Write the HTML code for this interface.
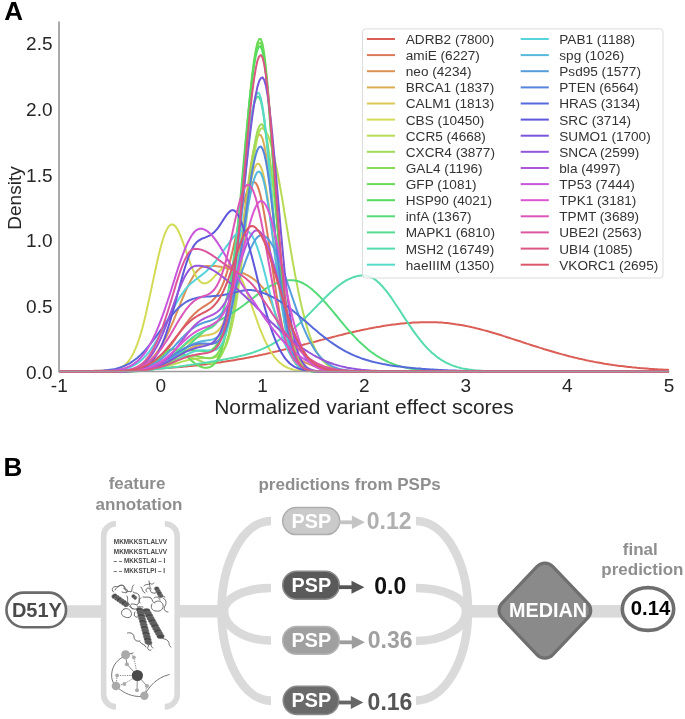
<!DOCTYPE html>
<html><head><meta charset="utf-8"><style>
html,body{margin:0;padding:0;background:#fff;}
svg{display:block;}
text{font-family:"Liberation Sans",Arial,sans-serif;}
</style></head><body>
<svg width="685" height="719" viewBox="0 0 685 719">
<rect width="685" height="719" fill="#fff"/>
<text x="4.3" y="19.9" font-size="26" font-weight="bold" fill="#000">A</text>
<clipPath id="pc"><rect x="59" y="15" width="611" height="358"/></clipPath>
<g clip-path="url(#pc)" fill="none" stroke-width="2" stroke-linejoin="round">
<path d="M59.3,371.2 61.0,371.2 62.7,371.2 64.4,371.2 66.0,371.2 67.7,371.2 69.4,371.2 71.1,371.1 72.8,371.1 74.5,371.1 76.2,371.1 77.9,371.1 79.6,371.1 81.3,371.0 83.0,371.0 84.7,371.0 86.4,371.0 88.1,370.9 89.8,370.9 91.5,370.9 93.1,370.9 94.8,370.8 96.5,370.8 98.2,370.8 99.9,370.7 101.6,370.7 103.3,370.7 105.0,370.6 106.7,370.6 108.4,370.6 110.1,370.5 111.8,370.5 113.5,370.4 115.2,370.4 116.9,370.4 118.6,370.3 120.2,370.3 121.9,370.2 123.6,370.2 125.3,370.1 127.0,370.0 128.7,370.0 130.4,369.9 132.1,369.9 133.8,369.8 135.5,369.7 137.2,369.7 138.9,369.6 140.6,369.5 142.3,369.4 144.0,369.4 145.7,369.3 147.3,369.2 149.0,369.1 150.7,369.0 152.4,368.9 154.1,368.8 155.8,368.7 157.5,368.6 159.2,368.5 160.9,368.4 162.6,368.3 164.3,368.2 166.0,368.1 167.7,368.0 169.4,367.9 171.1,367.7 172.8,367.6 174.5,367.5 176.1,367.3 177.8,367.2 179.5,367.0 181.2,366.9 182.9,366.7 184.6,366.6 186.3,366.4 188.0,366.3 189.7,366.1 191.4,365.9 193.1,365.8 194.8,365.6 196.5,365.4 198.2,365.2 199.9,365.0 201.6,364.8 203.2,364.6 204.9,364.4 206.6,364.2 208.3,364.0 210.0,363.8 211.7,363.5 213.4,363.3 215.1,363.1 216.8,362.8 218.5,362.6 220.2,362.4 221.9,362.1 223.6,361.8 225.3,361.6 227.0,361.3 228.7,361.0 230.3,360.8 232.0,360.5 233.7,360.2 235.4,359.9 237.1,359.6 238.8,359.3 240.5,359.0 242.2,358.7 243.9,358.4 245.6,358.1 247.3,357.7 249.0,357.4 250.7,357.1 252.4,356.7 254.1,356.4 255.8,356.0 257.4,355.7 259.1,355.3 260.8,355.0 262.5,354.6 264.2,354.2 265.9,353.9 267.6,353.5 269.3,353.1 271.0,352.7 272.7,352.3 274.4,351.9 276.1,351.5 277.8,351.1 279.5,350.7 281.2,350.3 282.9,349.9 284.5,349.5 286.2,349.1 287.9,348.7 289.6,348.2 291.3,347.8 293.0,347.4 294.7,346.9 296.4,346.5 298.1,346.1 299.8,345.6 301.5,345.2 303.2,344.8 304.9,344.3 306.6,343.9 308.3,343.4 310.0,343.0 311.7,342.5 313.3,342.1 315.0,341.7 316.7,341.2 318.4,340.8 320.1,340.3 321.8,339.9 323.5,339.4 325.2,339.0 326.9,338.5 328.6,338.1 330.3,337.7 332.0,337.2 333.7,336.8 335.4,336.4 337.1,335.9 338.8,335.5 340.4,335.1 342.1,334.7 343.8,334.2 345.5,333.8 347.2,333.4 348.9,333.0 350.6,332.6 352.3,332.2 354.0,331.8 355.7,331.4 357.4,331.1 359.1,330.7 360.8,330.3 362.5,329.9 364.2,329.6 365.9,329.2 367.5,328.9 369.2,328.5 370.9,328.2 372.6,327.9 374.3,327.6 376.0,327.3 377.7,326.9 379.4,326.7 381.1,326.4 382.8,326.1 384.5,325.8 386.2,325.6 387.9,325.3 389.6,325.1 391.3,324.8 393.0,324.6 394.6,324.4 396.3,324.2 398.0,324.0 399.7,323.8 401.4,323.6 403.1,323.4 404.8,323.3 406.5,323.1 408.2,323.0 409.9,322.9 411.6,322.7 413.3,322.6 415.0,322.5 416.7,322.4 418.4,322.4 420.1,322.3 421.8,322.3 423.4,322.2 425.1,322.2 426.8,322.2 428.5,322.2 430.2,322.2 431.9,322.2 433.6,322.2 435.3,322.3 437.0,322.3 438.7,322.4 440.4,322.5 442.1,322.6 443.8,322.8 445.5,322.9 447.2,323.1 448.9,323.3 450.5,323.5 452.2,323.7 453.9,323.9 455.6,324.2 457.3,324.4 459.0,324.7 460.7,325.0 462.4,325.3 464.1,325.6 465.8,325.9 467.5,326.3 469.2,326.6 470.9,327.0 472.6,327.4 474.3,327.8 476.0,328.2 477.6,328.6 479.3,329.0 481.0,329.5 482.7,329.9 484.4,330.4 486.1,330.8 487.8,331.3 489.5,331.8 491.2,332.3 492.9,332.8 494.6,333.3 496.3,333.8 498.0,334.3 499.7,334.8 501.4,335.3 503.1,335.9 504.7,336.4 506.4,337.0 508.1,337.5 509.8,338.0 511.5,338.6 513.2,339.1 514.9,339.7 516.6,340.2 518.3,340.8 520.0,341.3 521.7,341.9 523.4,342.5 525.1,343.0 526.8,343.6 528.5,344.1 530.2,344.7 531.8,345.2 533.5,345.8 535.2,346.3 536.9,346.8 538.6,347.4 540.3,347.9 542.0,348.4 543.7,349.0 545.4,349.5 547.1,350.0 548.8,350.5 550.5,351.0 552.2,351.5 553.9,352.0 555.6,352.5 557.3,353.0 559.0,353.5 560.6,353.9 562.3,354.4 564.0,354.8 565.7,355.3 567.4,355.7 569.1,356.2 570.8,356.6 572.5,357.0 574.2,357.5 575.9,357.9 577.6,358.3 579.3,358.7 581.0,359.0 582.7,359.4 584.4,359.8 586.1,360.2 587.7,360.5 589.4,360.9 591.1,361.2 592.8,361.5 594.5,361.9 596.2,362.2 597.9,362.5 599.6,362.8 601.3,363.1 603.0,363.4 604.7,363.7 606.4,363.9 608.1,364.2 609.8,364.5 611.5,364.7 613.2,365.0 614.8,365.2 616.5,365.4 618.2,365.7 619.9,365.9 621.6,366.1 623.3,366.3 625.0,366.5 626.7,366.7 628.4,366.9 630.1,367.1 631.8,367.3 633.5,367.4 635.2,367.6 636.9,367.8 638.6,367.9 640.3,368.1 641.9,368.2 643.6,368.3 645.3,368.5 647.0,368.6 648.7,368.7 650.4,368.9 652.1,369.0 653.8,369.1 655.5,369.2 657.2,369.3 658.9,369.4 660.6,369.5 662.3,369.6 664.0,369.7 665.7,369.8 667.4,369.8 669.0,369.9" stroke="#db5e56"/>
<path d="M59.3,371.5 61.0,371.5 62.7,371.5 64.4,371.5 66.0,371.5 67.7,371.5 69.4,371.5 71.1,371.5 72.8,371.5 74.5,371.5 76.2,371.5 77.9,371.5 79.6,371.5 81.3,371.5 83.0,371.5 84.7,371.5 86.4,371.5 88.1,371.5 89.8,371.5 91.5,371.5 93.1,371.5 94.8,371.5 96.5,371.5 98.2,371.5 99.9,371.5 101.6,371.5 103.3,371.5 105.0,371.5 106.7,371.5 108.4,371.4 110.1,371.4 111.8,371.4 113.5,371.4 115.2,371.4 116.9,371.3 118.6,371.3 120.2,371.2 121.9,371.2 123.6,371.1 125.3,371.0 127.0,370.9 128.7,370.7 130.4,370.5 132.1,370.3 133.8,370.1 135.5,369.8 137.2,369.5 138.9,369.1 140.6,368.7 142.3,368.2 144.0,367.6 145.7,367.0 147.3,366.3 149.0,365.5 150.7,364.5 152.4,363.5 154.1,362.4 155.8,361.2 157.5,359.8 159.2,358.3 160.9,356.7 162.6,355.0 164.3,353.2 166.0,351.2 167.7,349.2 169.4,347.0 171.1,344.8 172.8,342.5 174.5,340.1 176.1,337.7 177.8,335.2 179.5,332.8 181.2,330.3 182.9,327.9 184.6,325.5 186.3,323.2 188.0,321.0 189.7,318.9 191.4,317.0 193.1,315.1 194.8,313.4 196.5,311.9 198.2,310.4 199.9,309.2 201.6,308.0 203.2,306.9 204.9,305.8 206.6,304.8 208.3,303.7 210.0,302.5 211.7,301.2 213.4,299.6 215.1,297.8 216.8,295.6 218.5,293.0 220.2,290.0 221.9,286.4 223.6,282.3 225.3,277.6 227.0,272.3 228.7,266.4 230.3,260.0 232.0,253.2 233.7,246.0 235.4,238.5 237.1,230.9 238.8,223.2 240.5,215.8 242.2,208.7 243.9,202.1 245.6,196.1 247.3,191.1 249.0,187.0 250.7,184.1 252.4,182.4 254.1,182.0 255.8,183.0 257.4,185.8 259.1,190.4 260.8,196.7 262.5,204.5 264.2,213.6 265.9,223.8 267.6,234.7 269.3,246.2 271.0,257.9 272.7,269.6 274.4,281.1 276.1,292.2 277.8,302.6 279.5,312.3 281.2,321.2 282.9,329.2 284.5,336.3 286.2,342.5 287.9,347.9 289.6,352.5 291.3,356.4 293.0,359.6 294.7,362.2 296.4,364.3 298.1,366.0 299.8,367.4 301.5,368.4 303.2,369.2 304.9,369.8 306.6,370.3 308.3,370.6 310.0,370.9 311.7,371.1 313.3,371.2 315.0,371.3 316.7,371.4 318.4,371.4 320.1,371.4 321.8,371.5 323.5,371.5 325.2,371.5 326.9,371.5 328.6,371.5 330.3,371.5 332.0,371.5 333.7,371.5 335.4,371.5 337.1,371.5 338.8,371.5 340.4,371.5 342.1,371.5 343.8,371.5 345.5,371.5 347.2,371.5 348.9,371.5 350.6,371.5 352.3,371.5 354.0,371.5 355.7,371.5 357.4,371.5 359.1,371.5 360.8,371.5 362.5,371.5 364.2,371.5 365.9,371.5 367.5,371.5 369.2,371.5 370.9,371.5 372.6,371.5 374.3,371.5 376.0,371.5 377.7,371.5 379.4,371.5 381.1,371.5 382.8,371.5 384.5,371.5 386.2,371.5 387.9,371.5 389.6,371.5 391.3,371.5 393.0,371.5 394.6,371.5 396.3,371.5 398.0,371.5 399.7,371.5 401.4,371.5 403.1,371.5 404.8,371.5 406.5,371.5 408.2,371.5 409.9,371.5 411.6,371.5 413.3,371.5 415.0,371.5 416.7,371.5 418.4,371.5 420.1,371.5 421.8,371.5 423.4,371.5 425.1,371.5 426.8,371.5 428.5,371.5 430.2,371.5 431.9,371.5 433.6,371.5 435.3,371.5 437.0,371.5 438.7,371.5 440.4,371.5 442.1,371.5 443.8,371.5 445.5,371.5 447.2,371.5 448.9,371.5 450.5,371.5 452.2,371.5 453.9,371.5 455.6,371.5 457.3,371.5 459.0,371.5 460.7,371.5 462.4,371.5 464.1,371.5 465.8,371.5 467.5,371.5 469.2,371.5 470.9,371.5 472.6,371.5 474.3,371.5 476.0,371.5 477.6,371.5 479.3,371.5 481.0,371.5 482.7,371.5 484.4,371.5 486.1,371.5 487.8,371.5 489.5,371.5 491.2,371.5 492.9,371.5 494.6,371.5 496.3,371.5 498.0,371.5 499.7,371.5 501.4,371.5 503.1,371.5 504.7,371.5 506.4,371.5 508.1,371.5 509.8,371.5 511.5,371.5 513.2,371.5 514.9,371.5 516.6,371.5 518.3,371.5 520.0,371.5 521.7,371.5 523.4,371.5 525.1,371.5 526.8,371.5 528.5,371.5 530.2,371.5 531.8,371.5 533.5,371.5 535.2,371.5 536.9,371.5 538.6,371.5 540.3,371.5 542.0,371.5 543.7,371.5 545.4,371.5 547.1,371.5 548.8,371.5 550.5,371.5 552.2,371.5 553.9,371.5 555.6,371.5 557.3,371.5 559.0,371.5 560.6,371.5 562.3,371.5 564.0,371.5 565.7,371.5 567.4,371.5 569.1,371.5 570.8,371.5 572.5,371.5 574.2,371.5 575.9,371.5 577.6,371.5 579.3,371.5 581.0,371.5 582.7,371.5 584.4,371.5 586.1,371.5 587.7,371.5 589.4,371.5 591.1,371.5 592.8,371.5 594.5,371.5 596.2,371.5 597.9,371.5 599.6,371.5 601.3,371.5 603.0,371.5 604.7,371.5 606.4,371.5 608.1,371.5 609.8,371.5 611.5,371.5 613.2,371.5 614.8,371.5 616.5,371.5 618.2,371.5 619.9,371.5 621.6,371.5 623.3,371.5 625.0,371.5 626.7,371.5 628.4,371.5 630.1,371.5 631.8,371.5 633.5,371.5 635.2,371.5 636.9,371.5 638.6,371.5 640.3,371.5 641.9,371.5 643.6,371.5 645.3,371.5 647.0,371.5 648.7,371.5 650.4,371.5 652.1,371.5 653.8,371.5 655.5,371.5 657.2,371.5 658.9,371.5 660.6,371.5 662.3,371.5 664.0,371.5 665.7,371.5 667.4,371.5 669.0,371.5" stroke="#db7956"/>
<path d="M59.3,371.5 61.0,371.5 62.7,371.5 64.4,371.5 66.0,371.5 67.7,371.5 69.4,371.5 71.1,371.5 72.8,371.5 74.5,371.5 76.2,371.5 77.9,371.5 79.6,371.5 81.3,371.5 83.0,371.5 84.7,371.5 86.4,371.5 88.1,371.5 89.8,371.5 91.5,371.5 93.1,371.5 94.8,371.5 96.5,371.5 98.2,371.5 99.9,371.5 101.6,371.5 103.3,371.5 105.0,371.4 106.7,371.4 108.4,371.4 110.1,371.4 111.8,371.3 113.5,371.3 115.2,371.3 116.9,371.2 118.6,371.1 120.2,371.0 121.9,370.9 123.6,370.8 125.3,370.6 127.0,370.4 128.7,370.2 130.4,369.9 132.1,369.5 133.8,369.1 135.5,368.7 137.2,368.1 138.9,367.5 140.6,366.8 142.3,365.9 144.0,365.0 145.7,363.9 147.3,362.6 149.0,361.2 150.7,359.7 152.4,358.0 154.1,356.1 155.8,354.0 157.5,351.7 159.2,349.2 160.9,346.5 162.6,343.6 164.3,340.4 166.0,337.1 167.7,333.7 169.4,330.0 171.1,326.2 172.8,322.3 174.5,318.2 176.1,314.1 177.8,310.0 179.5,305.8 181.2,301.6 182.9,297.5 184.6,293.5 186.3,289.7 188.0,286.0 189.7,282.6 191.4,279.4 193.1,276.5 194.8,273.9 196.5,271.7 198.2,269.9 199.9,268.4 201.6,267.4 203.2,266.7 204.9,266.4 206.6,266.1 208.3,266.0 210.0,265.9 211.7,265.9 213.4,266.0 215.1,266.1 216.8,266.3 218.5,266.5 220.2,266.8 221.9,267.1 223.6,267.5 225.3,267.8 227.0,268.2 228.7,268.6 230.3,269.1 232.0,269.5 233.7,270.0 235.4,270.5 237.1,271.0 238.8,271.6 240.5,272.2 242.2,272.8 243.9,273.5 245.6,274.3 247.3,275.1 249.0,276.1 250.7,277.1 252.4,278.2 254.1,279.4 255.8,280.8 257.4,282.2 259.1,283.8 260.8,285.6 262.5,287.4 264.2,289.4 265.9,291.7 267.6,294.5 269.3,297.9 271.0,301.8 272.7,306.1 274.4,310.6 276.1,315.3 277.8,320.0 279.5,324.7 281.2,329.2 282.9,333.5 284.5,337.5 286.2,341.2 287.9,344.5 289.6,347.5 291.3,350.1 293.0,352.5 294.7,354.5 296.4,356.3 298.1,357.8 299.8,359.1 301.5,360.3 303.2,361.4 304.9,362.3 306.6,363.1 308.3,363.9 310.0,364.5 311.7,365.1 313.3,365.7 315.0,366.2 316.7,366.7 318.4,367.1 320.1,367.5 321.8,367.9 323.5,368.2 325.2,368.5 326.9,368.8 328.6,369.1 330.3,369.3 332.0,369.5 333.7,369.7 335.4,369.9 337.1,370.0 338.8,370.2 340.4,370.3 342.1,370.5 343.8,370.6 345.5,370.7 347.2,370.8 348.9,370.8 350.6,370.9 352.3,371.0 354.0,371.0 355.7,371.1 357.4,371.1 359.1,371.2 360.8,371.2 362.5,371.3 364.2,371.3 365.9,371.3 367.5,371.3 369.2,371.4 370.9,371.4 372.6,371.4 374.3,371.4 376.0,371.4 377.7,371.4 379.4,371.4 381.1,371.4 382.8,371.5 384.5,371.5 386.2,371.5 387.9,371.5 389.6,371.5 391.3,371.5 393.0,371.5 394.6,371.5 396.3,371.5 398.0,371.5 399.7,371.5 401.4,371.5 403.1,371.5 404.8,371.5 406.5,371.5 408.2,371.5 409.9,371.5 411.6,371.5 413.3,371.5 415.0,371.5 416.7,371.5 418.4,371.5 420.1,371.5 421.8,371.5 423.4,371.5 425.1,371.5 426.8,371.5 428.5,371.5 430.2,371.5 431.9,371.5 433.6,371.5 435.3,371.5 437.0,371.5 438.7,371.5 440.4,371.5 442.1,371.5 443.8,371.5 445.5,371.5 447.2,371.5 448.9,371.5 450.5,371.5 452.2,371.5 453.9,371.5 455.6,371.5 457.3,371.5 459.0,371.5 460.7,371.5 462.4,371.5 464.1,371.5 465.8,371.5 467.5,371.5 469.2,371.5 470.9,371.5 472.6,371.5 474.3,371.5 476.0,371.5 477.6,371.5 479.3,371.5 481.0,371.5 482.7,371.5 484.4,371.5 486.1,371.5 487.8,371.5 489.5,371.5 491.2,371.5 492.9,371.5 494.6,371.5 496.3,371.5 498.0,371.5 499.7,371.5 501.4,371.5 503.1,371.5 504.7,371.5 506.4,371.5 508.1,371.5 509.8,371.5 511.5,371.5 513.2,371.5 514.9,371.5 516.6,371.5 518.3,371.5 520.0,371.5 521.7,371.5 523.4,371.5 525.1,371.5 526.8,371.5 528.5,371.5 530.2,371.5 531.8,371.5 533.5,371.5 535.2,371.5 536.9,371.5 538.6,371.5 540.3,371.5 542.0,371.5 543.7,371.5 545.4,371.5 547.1,371.5 548.8,371.5 550.5,371.5 552.2,371.5 553.9,371.5 555.6,371.5 557.3,371.5 559.0,371.5 560.6,371.5 562.3,371.5 564.0,371.5 565.7,371.5 567.4,371.5 569.1,371.5 570.8,371.5 572.5,371.5 574.2,371.5 575.9,371.5 577.6,371.5 579.3,371.5 581.0,371.5 582.7,371.5 584.4,371.5 586.1,371.5 587.7,371.5 589.4,371.5 591.1,371.5 592.8,371.5 594.5,371.5 596.2,371.5 597.9,371.5 599.6,371.5 601.3,371.5 603.0,371.5 604.7,371.5 606.4,371.5 608.1,371.5 609.8,371.5 611.5,371.5 613.2,371.5 614.8,371.5 616.5,371.5 618.2,371.5 619.9,371.5 621.6,371.5 623.3,371.5 625.0,371.5 626.7,371.5 628.4,371.5 630.1,371.5 631.8,371.5 633.5,371.5 635.2,371.5 636.9,371.5 638.6,371.5 640.3,371.5 641.9,371.5 643.6,371.5 645.3,371.5 647.0,371.5 648.7,371.5 650.4,371.5 652.1,371.5 653.8,371.5 655.5,371.5 657.2,371.5 658.9,371.5 660.6,371.5 662.3,371.5 664.0,371.5 665.7,371.5 667.4,371.5 669.0,371.5" stroke="#db9356"/>
<path d="M59.3,371.5 61.0,371.5 62.7,371.5 64.4,371.5 66.0,371.5 67.7,371.5 69.4,371.5 71.1,371.5 72.8,371.5 74.5,371.5 76.2,371.5 77.9,371.5 79.6,371.5 81.3,371.5 83.0,371.5 84.7,371.5 86.4,371.5 88.1,371.5 89.8,371.5 91.5,371.5 93.1,371.5 94.8,371.5 96.5,371.5 98.2,371.5 99.9,371.5 101.6,371.5 103.3,371.5 105.0,371.5 106.7,371.5 108.4,371.5 110.1,371.5 111.8,371.5 113.5,371.5 115.2,371.5 116.9,371.5 118.6,371.5 120.2,371.5 121.9,371.5 123.6,371.4 125.3,371.4 127.0,371.4 128.7,371.4 130.4,371.3 132.1,371.3 133.8,371.2 135.5,371.2 137.2,371.1 138.9,371.0 140.6,370.9 142.3,370.7 144.0,370.5 145.7,370.3 147.3,370.1 149.0,369.8 150.7,369.5 152.4,369.1 154.1,368.7 155.8,368.3 157.5,367.7 159.2,367.1 160.9,366.5 162.6,365.7 164.3,364.9 166.0,364.1 167.7,363.1 169.4,362.2 171.1,361.1 172.8,360.0 174.5,358.9 176.1,357.7 177.8,356.5 179.5,355.3 181.2,354.1 182.9,352.9 184.6,351.7 186.3,350.6 188.0,349.6 189.7,348.6 191.4,347.7 193.1,346.9 194.8,346.2 196.5,345.7 198.2,345.2 199.9,344.9 201.6,344.6 203.2,344.5 204.9,344.4 206.6,344.3 208.3,344.3 210.0,344.2 211.7,344.0 213.4,343.6 215.1,342.9 216.8,341.9 218.5,340.5 220.2,338.6 221.9,336.0 223.6,332.7 225.3,328.5 227.0,323.4 228.7,317.2 230.3,310.0 232.0,301.7 233.7,292.2 235.4,281.7 237.1,270.2 238.8,257.8 240.5,244.7 242.2,231.1 243.9,217.3 245.6,203.6 247.3,190.3 249.0,177.7 250.7,166.2 252.4,156.1 254.1,147.7 255.8,141.2 257.4,136.8 259.1,134.8 260.8,135.2 262.5,138.6 264.2,145.0 265.9,154.0 267.6,165.5 269.3,178.8 271.0,193.7 272.7,209.5 274.4,225.9 276.1,242.4 277.8,258.4 279.5,273.8 281.2,288.2 282.9,301.4 284.5,313.3 286.2,323.8 287.9,332.9 289.6,340.7 291.3,347.2 293.0,352.6 294.7,357.0 296.4,360.5 298.1,363.3 299.8,365.5 301.5,367.1 303.2,368.3 304.9,369.3 306.6,369.9 308.3,370.4 310.0,370.8 311.7,371.0 313.3,371.2 315.0,371.3 316.7,371.4 318.4,371.4 320.1,371.4 321.8,371.5 323.5,371.5 325.2,371.5 326.9,371.5 328.6,371.5 330.3,371.5 332.0,371.5 333.7,371.5 335.4,371.5 337.1,371.5 338.8,371.5 340.4,371.5 342.1,371.5 343.8,371.5 345.5,371.5 347.2,371.5 348.9,371.5 350.6,371.5 352.3,371.5 354.0,371.5 355.7,371.5 357.4,371.5 359.1,371.5 360.8,371.5 362.5,371.5 364.2,371.5 365.9,371.5 367.5,371.5 369.2,371.5 370.9,371.5 372.6,371.5 374.3,371.5 376.0,371.5 377.7,371.5 379.4,371.5 381.1,371.5 382.8,371.5 384.5,371.5 386.2,371.5 387.9,371.5 389.6,371.5 391.3,371.5 393.0,371.5 394.6,371.5 396.3,371.5 398.0,371.5 399.7,371.5 401.4,371.5 403.1,371.5 404.8,371.5 406.5,371.5 408.2,371.5 409.9,371.5 411.6,371.5 413.3,371.5 415.0,371.5 416.7,371.5 418.4,371.5 420.1,371.5 421.8,371.5 423.4,371.5 425.1,371.5 426.8,371.5 428.5,371.5 430.2,371.5 431.9,371.5 433.6,371.5 435.3,371.5 437.0,371.5 438.7,371.5 440.4,371.5 442.1,371.5 443.8,371.5 445.5,371.5 447.2,371.5 448.9,371.5 450.5,371.5 452.2,371.5 453.9,371.5 455.6,371.5 457.3,371.5 459.0,371.5 460.7,371.5 462.4,371.5 464.1,371.5 465.8,371.5 467.5,371.5 469.2,371.5 470.9,371.5 472.6,371.5 474.3,371.5 476.0,371.5 477.6,371.5 479.3,371.5 481.0,371.5 482.7,371.5 484.4,371.5 486.1,371.5 487.8,371.5 489.5,371.5 491.2,371.5 492.9,371.5 494.6,371.5 496.3,371.5 498.0,371.5 499.7,371.5 501.4,371.5 503.1,371.5 504.7,371.5 506.4,371.5 508.1,371.5 509.8,371.5 511.5,371.5 513.2,371.5 514.9,371.5 516.6,371.5 518.3,371.5 520.0,371.5 521.7,371.5 523.4,371.5 525.1,371.5 526.8,371.5 528.5,371.5 530.2,371.5 531.8,371.5 533.5,371.5 535.2,371.5 536.9,371.5 538.6,371.5 540.3,371.5 542.0,371.5 543.7,371.5 545.4,371.5 547.1,371.5 548.8,371.5 550.5,371.5 552.2,371.5 553.9,371.5 555.6,371.5 557.3,371.5 559.0,371.5 560.6,371.5 562.3,371.5 564.0,371.5 565.7,371.5 567.4,371.5 569.1,371.5 570.8,371.5 572.5,371.5 574.2,371.5 575.9,371.5 577.6,371.5 579.3,371.5 581.0,371.5 582.7,371.5 584.4,371.5 586.1,371.5 587.7,371.5 589.4,371.5 591.1,371.5 592.8,371.5 594.5,371.5 596.2,371.5 597.9,371.5 599.6,371.5 601.3,371.5 603.0,371.5 604.7,371.5 606.4,371.5 608.1,371.5 609.8,371.5 611.5,371.5 613.2,371.5 614.8,371.5 616.5,371.5 618.2,371.5 619.9,371.5 621.6,371.5 623.3,371.5 625.0,371.5 626.7,371.5 628.4,371.5 630.1,371.5 631.8,371.5 633.5,371.5 635.2,371.5 636.9,371.5 638.6,371.5 640.3,371.5 641.9,371.5 643.6,371.5 645.3,371.5 647.0,371.5 648.7,371.5 650.4,371.5 652.1,371.5 653.8,371.5 655.5,371.5 657.2,371.5 658.9,371.5 660.6,371.5 662.3,371.5 664.0,371.5 665.7,371.5 667.4,371.5 669.0,371.5" stroke="#dbae56"/>
<path d="M59.3,371.5 61.0,371.5 62.7,371.5 64.4,371.5 66.0,371.5 67.7,371.5 69.4,371.5 71.1,371.5 72.8,371.5 74.5,371.5 76.2,371.5 77.9,371.5 79.6,371.5 81.3,371.5 83.0,371.5 84.7,371.5 86.4,371.5 88.1,371.5 89.8,371.5 91.5,371.5 93.1,371.5 94.8,371.5 96.5,371.5 98.2,371.5 99.9,371.5 101.6,371.5 103.3,371.5 105.0,371.5 106.7,371.5 108.4,371.5 110.1,371.5 111.8,371.4 113.5,371.4 115.2,371.4 116.9,371.4 118.6,371.4 120.2,371.3 121.9,371.3 123.6,371.3 125.3,371.2 127.0,371.1 128.7,371.0 130.4,370.9 132.1,370.8 133.8,370.7 135.5,370.5 137.2,370.4 138.9,370.1 140.6,369.9 142.3,369.6 144.0,369.3 145.7,368.9 147.3,368.5 149.0,368.0 150.7,367.5 152.4,366.9 154.1,366.3 155.8,365.5 157.5,364.8 159.2,363.9 160.9,363.0 162.6,362.0 164.3,361.0 166.0,359.8 167.7,358.7 169.4,357.4 171.1,356.1 172.8,354.8 174.5,353.4 176.1,352.0 177.8,350.6 179.5,349.2 181.2,347.8 182.9,346.4 184.6,345.1 186.3,343.8 188.0,342.6 189.7,341.4 191.4,340.4 193.1,339.4 194.8,338.5 196.5,337.7 198.2,337.1 199.9,336.5 201.6,336.1 203.2,335.7 204.9,335.4 206.6,335.2 208.3,334.9 210.0,334.6 211.7,334.2 213.4,333.6 215.1,332.8 216.8,331.7 218.5,330.2 220.2,328.2 221.9,325.7 223.6,322.4 225.3,318.5 227.0,313.7 228.7,308.0 230.3,301.3 232.0,293.8 233.7,285.3 235.4,276.0 237.1,265.9 238.8,255.2 240.5,244.1 242.2,232.7 243.9,221.4 245.6,210.3 247.3,199.8 249.0,190.2 250.7,181.7 252.4,174.6 254.1,169.1 255.8,165.4 257.4,163.7 259.1,164.0 260.8,166.6 262.5,171.3 264.2,178.2 265.9,186.9 267.6,197.3 269.3,208.9 271.0,221.5 272.7,234.6 274.4,248.1 276.1,261.5 277.8,274.5 279.5,287.0 281.2,298.8 282.9,309.6 284.5,319.4 286.2,328.1 287.9,335.8 289.6,342.5 291.3,348.2 293.0,353.0 294.7,357.0 296.4,360.2 298.1,362.8 299.8,364.9 301.5,366.6 303.2,367.8 304.9,368.8 306.6,369.6 308.3,370.1 310.0,370.5 311.7,370.8 313.3,371.0 315.0,371.2 316.7,371.3 318.4,371.4 320.1,371.4 321.8,371.4 323.5,371.5 325.2,371.5 326.9,371.5 328.6,371.5 330.3,371.5 332.0,371.5 333.7,371.5 335.4,371.5 337.1,371.5 338.8,371.5 340.4,371.5 342.1,371.5 343.8,371.5 345.5,371.5 347.2,371.5 348.9,371.5 350.6,371.5 352.3,371.5 354.0,371.5 355.7,371.5 357.4,371.5 359.1,371.5 360.8,371.5 362.5,371.5 364.2,371.5 365.9,371.5 367.5,371.5 369.2,371.5 370.9,371.5 372.6,371.5 374.3,371.5 376.0,371.5 377.7,371.5 379.4,371.5 381.1,371.5 382.8,371.5 384.5,371.5 386.2,371.5 387.9,371.5 389.6,371.5 391.3,371.5 393.0,371.5 394.6,371.5 396.3,371.5 398.0,371.5 399.7,371.5 401.4,371.5 403.1,371.5 404.8,371.5 406.5,371.5 408.2,371.5 409.9,371.5 411.6,371.5 413.3,371.5 415.0,371.5 416.7,371.5 418.4,371.5 420.1,371.5 421.8,371.5 423.4,371.5 425.1,371.5 426.8,371.5 428.5,371.5 430.2,371.5 431.9,371.5 433.6,371.5 435.3,371.5 437.0,371.5 438.7,371.5 440.4,371.5 442.1,371.5 443.8,371.5 445.5,371.5 447.2,371.5 448.9,371.5 450.5,371.5 452.2,371.5 453.9,371.5 455.6,371.5 457.3,371.5 459.0,371.5 460.7,371.5 462.4,371.5 464.1,371.5 465.8,371.5 467.5,371.5 469.2,371.5 470.9,371.5 472.6,371.5 474.3,371.5 476.0,371.5 477.6,371.5 479.3,371.5 481.0,371.5 482.7,371.5 484.4,371.5 486.1,371.5 487.8,371.5 489.5,371.5 491.2,371.5 492.9,371.5 494.6,371.5 496.3,371.5 498.0,371.5 499.7,371.5 501.4,371.5 503.1,371.5 504.7,371.5 506.4,371.5 508.1,371.5 509.8,371.5 511.5,371.5 513.2,371.5 514.9,371.5 516.6,371.5 518.3,371.5 520.0,371.5 521.7,371.5 523.4,371.5 525.1,371.5 526.8,371.5 528.5,371.5 530.2,371.5 531.8,371.5 533.5,371.5 535.2,371.5 536.9,371.5 538.6,371.5 540.3,371.5 542.0,371.5 543.7,371.5 545.4,371.5 547.1,371.5 548.8,371.5 550.5,371.5 552.2,371.5 553.9,371.5 555.6,371.5 557.3,371.5 559.0,371.5 560.6,371.5 562.3,371.5 564.0,371.5 565.7,371.5 567.4,371.5 569.1,371.5 570.8,371.5 572.5,371.5 574.2,371.5 575.9,371.5 577.6,371.5 579.3,371.5 581.0,371.5 582.7,371.5 584.4,371.5 586.1,371.5 587.7,371.5 589.4,371.5 591.1,371.5 592.8,371.5 594.5,371.5 596.2,371.5 597.9,371.5 599.6,371.5 601.3,371.5 603.0,371.5 604.7,371.5 606.4,371.5 608.1,371.5 609.8,371.5 611.5,371.5 613.2,371.5 614.8,371.5 616.5,371.5 618.2,371.5 619.9,371.5 621.6,371.5 623.3,371.5 625.0,371.5 626.7,371.5 628.4,371.5 630.1,371.5 631.8,371.5 633.5,371.5 635.2,371.5 636.9,371.5 638.6,371.5 640.3,371.5 641.9,371.5 643.6,371.5 645.3,371.5 647.0,371.5 648.7,371.5 650.4,371.5 652.1,371.5 653.8,371.5 655.5,371.5 657.2,371.5 658.9,371.5 660.6,371.5 662.3,371.5 664.0,371.5 665.7,371.5 667.4,371.5 669.0,371.5" stroke="#dbc856"/>
<path d="M59.3,371.5 61.0,371.5 62.7,371.5 64.4,371.5 66.0,371.5 67.7,371.5 69.4,371.5 71.1,371.5 72.8,371.5 74.5,371.5 76.2,371.5 77.9,371.5 79.6,371.5 81.3,371.5 83.0,371.5 84.7,371.5 86.4,371.5 88.1,371.5 89.8,371.5 91.5,371.5 93.1,371.5 94.8,371.5 96.5,371.5 98.2,371.4 99.9,371.4 101.6,371.4 103.3,371.3 105.0,371.3 106.7,371.2 108.4,371.0 110.1,370.9 111.8,370.7 113.5,370.4 115.2,370.0 116.9,369.5 118.6,369.0 120.2,368.2 121.9,367.3 123.6,366.1 125.3,364.7 127.0,363.0 128.7,361.0 130.4,358.5 132.1,355.7 133.8,352.4 135.5,348.6 137.2,344.3 138.9,339.5 140.6,334.1 142.3,328.2 144.0,321.7 145.7,314.8 147.3,307.5 149.0,299.8 150.7,291.9 152.4,283.9 154.1,275.9 155.8,268.0 157.5,260.3 159.2,253.1 160.9,246.5 162.6,240.5 164.3,235.3 166.0,231.1 167.7,227.9 169.4,225.7 171.1,224.5 172.8,224.5 174.5,225.4 176.1,227.3 177.8,230.0 179.5,233.5 181.2,237.6 182.9,242.1 184.6,246.9 186.3,251.9 188.0,256.8 189.7,261.6 191.4,266.1 193.1,270.2 194.8,273.9 196.5,277.0 198.2,279.4 199.9,281.3 201.6,282.6 203.2,283.3 204.9,283.4 206.6,283.0 208.3,282.1 210.0,280.9 211.7,279.4 213.4,277.7 215.1,275.8 216.8,274.0 218.5,272.1 220.2,270.4 221.9,268.8 223.6,267.5 225.3,266.5 227.0,265.8 228.7,265.5 230.3,265.6 232.0,266.2 233.7,267.3 235.4,269.0 237.1,271.2 238.8,274.0 240.5,277.1 242.2,280.7 243.9,284.7 245.6,288.9 247.3,293.4 249.0,298.0 250.7,302.8 252.4,307.6 254.1,312.5 255.8,317.2 257.4,321.9 259.1,326.5 260.8,330.8 262.5,334.9 264.2,338.9 265.9,342.5 267.6,345.9 269.3,349.0 271.0,351.9 272.7,354.5 274.4,356.8 276.1,358.9 277.8,360.8 279.5,362.4 281.2,363.8 282.9,365.1 284.5,366.1 286.2,367.0 287.9,367.8 289.6,368.5 291.3,369.0 293.0,369.5 294.7,369.9 296.4,370.2 298.1,370.5 299.8,370.7 301.5,370.9 303.2,371.0 304.9,371.1 306.6,371.2 308.3,371.3 310.0,371.3 311.7,371.4 313.3,371.4 315.0,371.4 316.7,371.4 318.4,371.5 320.1,371.5 321.8,371.5 323.5,371.5 325.2,371.5 326.9,371.5 328.6,371.5 330.3,371.5 332.0,371.5 333.7,371.5 335.4,371.5 337.1,371.5 338.8,371.5 340.4,371.5 342.1,371.5 343.8,371.5 345.5,371.5 347.2,371.5 348.9,371.5 350.6,371.5 352.3,371.5 354.0,371.5 355.7,371.5 357.4,371.5 359.1,371.5 360.8,371.5 362.5,371.5 364.2,371.5 365.9,371.5 367.5,371.5 369.2,371.5 370.9,371.5 372.6,371.5 374.3,371.5 376.0,371.5 377.7,371.5 379.4,371.5 381.1,371.5 382.8,371.5 384.5,371.5 386.2,371.5 387.9,371.5 389.6,371.5 391.3,371.5 393.0,371.5 394.6,371.5 396.3,371.5 398.0,371.5 399.7,371.5 401.4,371.5 403.1,371.5 404.8,371.5 406.5,371.5 408.2,371.5 409.9,371.5 411.6,371.5 413.3,371.5 415.0,371.5 416.7,371.5 418.4,371.5 420.1,371.5 421.8,371.5 423.4,371.5 425.1,371.5 426.8,371.5 428.5,371.5 430.2,371.5 431.9,371.5 433.6,371.5 435.3,371.5 437.0,371.5 438.7,371.5 440.4,371.5 442.1,371.5 443.8,371.5 445.5,371.5 447.2,371.5 448.9,371.5 450.5,371.5 452.2,371.5 453.9,371.5 455.6,371.5 457.3,371.5 459.0,371.5 460.7,371.5 462.4,371.5 464.1,371.5 465.8,371.5 467.5,371.5 469.2,371.5 470.9,371.5 472.6,371.5 474.3,371.5 476.0,371.5 477.6,371.5 479.3,371.5 481.0,371.5 482.7,371.5 484.4,371.5 486.1,371.5 487.8,371.5 489.5,371.5 491.2,371.5 492.9,371.5 494.6,371.5 496.3,371.5 498.0,371.5 499.7,371.5 501.4,371.5 503.1,371.5 504.7,371.5 506.4,371.5 508.1,371.5 509.8,371.5 511.5,371.5 513.2,371.5 514.9,371.5 516.6,371.5 518.3,371.5 520.0,371.5 521.7,371.5 523.4,371.5 525.1,371.5 526.8,371.5 528.5,371.5 530.2,371.5 531.8,371.5 533.5,371.5 535.2,371.5 536.9,371.5 538.6,371.5 540.3,371.5 542.0,371.5 543.7,371.5 545.4,371.5 547.1,371.5 548.8,371.5 550.5,371.5 552.2,371.5 553.9,371.5 555.6,371.5 557.3,371.5 559.0,371.5 560.6,371.5 562.3,371.5 564.0,371.5 565.7,371.5 567.4,371.5 569.1,371.5 570.8,371.5 572.5,371.5 574.2,371.5 575.9,371.5 577.6,371.5 579.3,371.5 581.0,371.5 582.7,371.5 584.4,371.5 586.1,371.5 587.7,371.5 589.4,371.5 591.1,371.5 592.8,371.5 594.5,371.5 596.2,371.5 597.9,371.5 599.6,371.5 601.3,371.5 603.0,371.5 604.7,371.5 606.4,371.5 608.1,371.5 609.8,371.5 611.5,371.5 613.2,371.5 614.8,371.5 616.5,371.5 618.2,371.5 619.9,371.5 621.6,371.5 623.3,371.5 625.0,371.5 626.7,371.5 628.4,371.5 630.1,371.5 631.8,371.5 633.5,371.5 635.2,371.5 636.9,371.5 638.6,371.5 640.3,371.5 641.9,371.5 643.6,371.5 645.3,371.5 647.0,371.5 648.7,371.5 650.4,371.5 652.1,371.5 653.8,371.5 655.5,371.5 657.2,371.5 658.9,371.5 660.6,371.5 662.3,371.5 664.0,371.5 665.7,371.5 667.4,371.5 669.0,371.5" stroke="#d3db56"/>
<path d="M59.3,371.5 61.0,371.5 62.7,371.5 64.4,371.5 66.0,371.5 67.7,371.5 69.4,371.5 71.1,371.5 72.8,371.5 74.5,371.5 76.2,371.5 77.9,371.5 79.6,371.5 81.3,371.5 83.0,371.5 84.7,371.5 86.4,371.5 88.1,371.5 89.8,371.5 91.5,371.5 93.1,371.5 94.8,371.5 96.5,371.5 98.2,371.5 99.9,371.5 101.6,371.5 103.3,371.5 105.0,371.5 106.7,371.5 108.4,371.5 110.1,371.5 111.8,371.5 113.5,371.5 115.2,371.5 116.9,371.4 118.6,371.4 120.2,371.4 121.9,371.4 123.6,371.4 125.3,371.4 127.0,371.3 128.7,371.3 130.4,371.2 132.1,371.2 133.8,371.1 135.5,371.1 137.2,371.0 138.9,370.9 140.6,370.8 142.3,370.6 144.0,370.5 145.7,370.3 147.3,370.1 149.0,369.9 150.7,369.7 152.4,369.5 154.1,369.2 155.8,368.9 157.5,368.6 159.2,368.2 160.9,367.8 162.6,367.4 164.3,367.0 166.0,366.6 167.7,366.1 169.4,365.6 171.1,365.1 172.8,364.6 174.5,364.0 176.1,363.5 177.8,363.0 179.5,362.5 181.2,361.9 182.9,361.4 184.6,361.0 186.3,360.5 188.0,360.1 189.7,359.7 191.4,359.3 193.1,359.0 194.8,358.8 196.5,358.6 198.2,358.4 199.9,358.3 201.6,358.2 203.2,358.1 204.9,358.1 206.6,358.1 208.3,358.1 210.0,358.0 211.7,357.9 213.4,357.6 215.1,357.2 216.8,356.6 218.5,355.6 220.2,354.3 221.9,352.5 223.6,350.1 225.3,347.0 227.0,343.1 228.7,338.3 230.3,332.4 232.0,325.4 233.7,317.2 235.4,307.7 237.1,297.0 238.8,285.0 240.5,271.9 242.2,257.9 243.9,243.0 245.6,227.7 247.3,212.2 249.0,196.9 250.7,182.3 252.4,168.6 254.1,156.4 255.8,145.9 257.4,137.7 259.1,131.8 260.8,128.6 262.5,128.1 264.2,129.2 265.9,131.4 267.6,134.7 269.3,139.0 271.0,144.4 272.7,150.7 274.4,157.9 276.1,165.8 277.8,174.4 279.5,183.5 281.2,193.0 282.9,202.9 284.5,213.0 286.2,223.2 287.9,233.5 289.6,243.6 291.3,253.5 293.0,263.3 294.7,272.6 296.4,281.6 298.1,290.2 299.8,298.3 301.5,306.0 303.2,313.1 304.9,319.6 306.6,325.7 308.3,331.3 310.0,336.3 311.7,340.9 313.3,345.0 315.0,348.6 316.7,351.9 318.4,354.8 320.1,357.3 321.8,359.5 323.5,361.4 325.2,363.0 326.9,364.4 328.6,365.6 330.3,366.7 332.0,367.5 333.7,368.3 335.4,368.9 337.1,369.4 338.8,369.8 340.4,370.1 342.1,370.4 343.8,370.6 345.5,370.8 347.2,371.0 348.9,371.1 350.6,371.2 352.3,371.2 354.0,371.3 355.7,371.3 357.4,371.4 359.1,371.4 360.8,371.4 362.5,371.4 364.2,371.5 365.9,371.5 367.5,371.5 369.2,371.5 370.9,371.5 372.6,371.5 374.3,371.5 376.0,371.5 377.7,371.5 379.4,371.5 381.1,371.5 382.8,371.5 384.5,371.5 386.2,371.5 387.9,371.5 389.6,371.5 391.3,371.5 393.0,371.5 394.6,371.5 396.3,371.5 398.0,371.5 399.7,371.5 401.4,371.5 403.1,371.5 404.8,371.5 406.5,371.5 408.2,371.5 409.9,371.5 411.6,371.5 413.3,371.5 415.0,371.5 416.7,371.5 418.4,371.5 420.1,371.5 421.8,371.5 423.4,371.5 425.1,371.5 426.8,371.5 428.5,371.5 430.2,371.5 431.9,371.5 433.6,371.5 435.3,371.5 437.0,371.5 438.7,371.5 440.4,371.5 442.1,371.5 443.8,371.5 445.5,371.5 447.2,371.5 448.9,371.5 450.5,371.5 452.2,371.5 453.9,371.5 455.6,371.5 457.3,371.5 459.0,371.5 460.7,371.5 462.4,371.5 464.1,371.5 465.8,371.5 467.5,371.5 469.2,371.5 470.9,371.5 472.6,371.5 474.3,371.5 476.0,371.5 477.6,371.5 479.3,371.5 481.0,371.5 482.7,371.5 484.4,371.5 486.1,371.5 487.8,371.5 489.5,371.5 491.2,371.5 492.9,371.5 494.6,371.5 496.3,371.5 498.0,371.5 499.7,371.5 501.4,371.5 503.1,371.5 504.7,371.5 506.4,371.5 508.1,371.5 509.8,371.5 511.5,371.5 513.2,371.5 514.9,371.5 516.6,371.5 518.3,371.5 520.0,371.5 521.7,371.5 523.4,371.5 525.1,371.5 526.8,371.5 528.5,371.5 530.2,371.5 531.8,371.5 533.5,371.5 535.2,371.5 536.9,371.5 538.6,371.5 540.3,371.5 542.0,371.5 543.7,371.5 545.4,371.5 547.1,371.5 548.8,371.5 550.5,371.5 552.2,371.5 553.9,371.5 555.6,371.5 557.3,371.5 559.0,371.5 560.6,371.5 562.3,371.5 564.0,371.5 565.7,371.5 567.4,371.5 569.1,371.5 570.8,371.5 572.5,371.5 574.2,371.5 575.9,371.5 577.6,371.5 579.3,371.5 581.0,371.5 582.7,371.5 584.4,371.5 586.1,371.5 587.7,371.5 589.4,371.5 591.1,371.5 592.8,371.5 594.5,371.5 596.2,371.5 597.9,371.5 599.6,371.5 601.3,371.5 603.0,371.5 604.7,371.5 606.4,371.5 608.1,371.5 609.8,371.5 611.5,371.5 613.2,371.5 614.8,371.5 616.5,371.5 618.2,371.5 619.9,371.5 621.6,371.5 623.3,371.5 625.0,371.5 626.7,371.5 628.4,371.5 630.1,371.5 631.8,371.5 633.5,371.5 635.2,371.5 636.9,371.5 638.6,371.5 640.3,371.5 641.9,371.5 643.6,371.5 645.3,371.5 647.0,371.5 648.7,371.5 650.4,371.5 652.1,371.5 653.8,371.5 655.5,371.5 657.2,371.5 658.9,371.5 660.6,371.5 662.3,371.5 664.0,371.5 665.7,371.5 667.4,371.5 669.0,371.5" stroke="#b8db56"/>
<path d="M59.3,371.5 61.0,371.5 62.7,371.5 64.4,371.5 66.0,371.5 67.7,371.5 69.4,371.5 71.1,371.5 72.8,371.5 74.5,371.5 76.2,371.5 77.9,371.5 79.6,371.5 81.3,371.5 83.0,371.5 84.7,371.5 86.4,371.5 88.1,371.5 89.8,371.5 91.5,371.5 93.1,371.5 94.8,371.5 96.5,371.5 98.2,371.5 99.9,371.5 101.6,371.5 103.3,371.5 105.0,371.5 106.7,371.5 108.4,371.5 110.1,371.5 111.8,371.5 113.5,371.4 115.2,371.4 116.9,371.4 118.6,371.4 120.2,371.3 121.9,371.3 123.6,371.2 125.3,371.1 127.0,371.0 128.7,370.9 130.4,370.8 132.1,370.6 133.8,370.5 135.5,370.2 137.2,370.0 138.9,369.7 140.6,369.4 142.3,369.0 144.0,368.6 145.7,368.1 147.3,367.6 149.0,367.0 150.7,366.4 152.4,365.7 154.1,365.0 155.8,364.3 157.5,363.5 159.2,362.7 160.9,361.9 162.6,361.1 164.3,360.3 166.0,359.6 167.7,358.9 169.4,358.2 171.1,357.6 172.8,357.0 174.5,356.6 176.1,356.2 177.8,355.9 179.5,355.8 181.2,355.7 182.9,355.8 184.6,355.9 186.3,356.2 188.0,356.5 189.7,357.0 191.4,357.5 193.1,358.1 194.8,358.8 196.5,359.4 198.2,360.1 199.9,360.8 201.6,361.5 203.2,362.1 204.9,362.7 206.6,363.1 208.3,363.4 210.0,363.5 211.7,363.4 213.4,363.0 215.1,362.2 216.8,361.0 218.5,359.4 220.2,357.1 221.9,354.2 223.6,350.6 225.3,346.1 227.0,340.6 228.7,334.2 230.3,326.7 232.0,318.0 233.7,308.2 235.4,297.3 237.1,285.2 238.8,272.2 240.5,258.4 242.2,243.8 243.9,228.9 245.6,213.8 247.3,198.8 249.0,184.3 250.7,170.7 252.4,158.3 254.1,147.3 255.8,138.2 257.4,131.2 259.1,126.5 260.8,124.3 262.5,124.6 264.2,128.0 265.9,134.2 267.6,143.1 269.3,154.4 271.0,167.6 272.7,182.4 274.4,198.3 276.1,214.8 277.8,231.4 279.5,247.9 281.2,263.7 282.9,278.6 284.5,292.5 286.2,305.1 287.9,316.4 289.6,326.3 291.3,334.9 293.0,342.3 294.7,348.4 296.4,353.5 298.1,357.6 299.8,360.9 301.5,363.6 303.2,365.6 304.9,367.2 306.6,368.4 308.3,369.3 310.0,369.9 311.7,370.4 313.3,370.7 315.0,371.0 316.7,371.1 318.4,371.3 320.1,371.3 321.8,371.4 323.5,371.4 325.2,371.5 326.9,371.5 328.6,371.5 330.3,371.5 332.0,371.5 333.7,371.5 335.4,371.5 337.1,371.5 338.8,371.5 340.4,371.5 342.1,371.5 343.8,371.5 345.5,371.5 347.2,371.5 348.9,371.5 350.6,371.5 352.3,371.5 354.0,371.5 355.7,371.5 357.4,371.5 359.1,371.5 360.8,371.5 362.5,371.5 364.2,371.5 365.9,371.5 367.5,371.5 369.2,371.5 370.9,371.5 372.6,371.5 374.3,371.5 376.0,371.5 377.7,371.5 379.4,371.5 381.1,371.5 382.8,371.5 384.5,371.5 386.2,371.5 387.9,371.5 389.6,371.5 391.3,371.5 393.0,371.5 394.6,371.5 396.3,371.5 398.0,371.5 399.7,371.5 401.4,371.5 403.1,371.5 404.8,371.5 406.5,371.5 408.2,371.5 409.9,371.5 411.6,371.5 413.3,371.5 415.0,371.5 416.7,371.5 418.4,371.5 420.1,371.5 421.8,371.5 423.4,371.5 425.1,371.5 426.8,371.5 428.5,371.5 430.2,371.5 431.9,371.5 433.6,371.5 435.3,371.5 437.0,371.5 438.7,371.5 440.4,371.5 442.1,371.5 443.8,371.5 445.5,371.5 447.2,371.5 448.9,371.5 450.5,371.5 452.2,371.5 453.9,371.5 455.6,371.5 457.3,371.5 459.0,371.5 460.7,371.5 462.4,371.5 464.1,371.5 465.8,371.5 467.5,371.5 469.2,371.5 470.9,371.5 472.6,371.5 474.3,371.5 476.0,371.5 477.6,371.5 479.3,371.5 481.0,371.5 482.7,371.5 484.4,371.5 486.1,371.5 487.8,371.5 489.5,371.5 491.2,371.5 492.9,371.5 494.6,371.5 496.3,371.5 498.0,371.5 499.7,371.5 501.4,371.5 503.1,371.5 504.7,371.5 506.4,371.5 508.1,371.5 509.8,371.5 511.5,371.5 513.2,371.5 514.9,371.5 516.6,371.5 518.3,371.5 520.0,371.5 521.7,371.5 523.4,371.5 525.1,371.5 526.8,371.5 528.5,371.5 530.2,371.5 531.8,371.5 533.5,371.5 535.2,371.5 536.9,371.5 538.6,371.5 540.3,371.5 542.0,371.5 543.7,371.5 545.4,371.5 547.1,371.5 548.8,371.5 550.5,371.5 552.2,371.5 553.9,371.5 555.6,371.5 557.3,371.5 559.0,371.5 560.6,371.5 562.3,371.5 564.0,371.5 565.7,371.5 567.4,371.5 569.1,371.5 570.8,371.5 572.5,371.5 574.2,371.5 575.9,371.5 577.6,371.5 579.3,371.5 581.0,371.5 582.7,371.5 584.4,371.5 586.1,371.5 587.7,371.5 589.4,371.5 591.1,371.5 592.8,371.5 594.5,371.5 596.2,371.5 597.9,371.5 599.6,371.5 601.3,371.5 603.0,371.5 604.7,371.5 606.4,371.5 608.1,371.5 609.8,371.5 611.5,371.5 613.2,371.5 614.8,371.5 616.5,371.5 618.2,371.5 619.9,371.5 621.6,371.5 623.3,371.5 625.0,371.5 626.7,371.5 628.4,371.5 630.1,371.5 631.8,371.5 633.5,371.5 635.2,371.5 636.9,371.5 638.6,371.5 640.3,371.5 641.9,371.5 643.6,371.5 645.3,371.5 647.0,371.5 648.7,371.5 650.4,371.5 652.1,371.5 653.8,371.5 655.5,371.5 657.2,371.5 658.9,371.5 660.6,371.5 662.3,371.5 664.0,371.5 665.7,371.5 667.4,371.5 669.0,371.5" stroke="#9edb56"/>
<path d="M59.3,371.5 61.0,371.5 62.7,371.5 64.4,371.5 66.0,371.5 67.7,371.5 69.4,371.5 71.1,371.5 72.8,371.5 74.5,371.5 76.2,371.5 77.9,371.5 79.6,371.5 81.3,371.5 83.0,371.5 84.7,371.5 86.4,371.5 88.1,371.5 89.8,371.5 91.5,371.5 93.1,371.5 94.8,371.5 96.5,371.5 98.2,371.5 99.9,371.5 101.6,371.5 103.3,371.5 105.0,371.5 106.7,371.5 108.4,371.5 110.1,371.5 111.8,371.5 113.5,371.5 115.2,371.5 116.9,371.5 118.6,371.5 120.2,371.5 121.9,371.5 123.6,371.4 125.3,371.4 127.0,371.4 128.7,371.4 130.4,371.3 132.1,371.3 133.8,371.2 135.5,371.1 137.2,371.0 138.9,370.9 140.6,370.8 142.3,370.6 144.0,370.5 145.7,370.2 147.3,370.0 149.0,369.7 150.7,369.4 152.4,369.0 154.1,368.6 155.8,368.1 157.5,367.6 159.2,367.0 160.9,366.4 162.6,365.7 164.3,365.0 166.0,364.3 167.7,363.5 169.4,362.7 171.1,361.9 172.8,361.1 174.5,360.3 176.1,359.6 177.8,358.9 179.5,358.2 181.2,357.6 182.9,357.0 184.6,356.6 186.3,356.2 188.0,355.9 189.7,355.7 191.4,355.7 193.1,355.7 194.8,355.8 196.5,356.0 198.2,356.3 199.9,356.7 201.6,357.0 203.2,357.4 204.9,357.8 206.6,358.1 208.3,358.2 210.0,358.2 211.7,357.9 213.4,357.3 215.1,356.2 216.8,354.6 218.5,352.3 220.2,349.3 221.9,345.3 223.6,340.2 225.3,333.9 227.0,326.3 228.7,317.2 230.3,306.5 232.0,294.3 233.7,280.4 235.4,264.9 237.1,247.9 238.8,229.5 240.5,210.1 242.2,189.9 243.9,169.3 245.6,148.8 247.3,128.7 249.0,109.6 250.7,92.1 252.4,76.6 254.1,63.6 255.8,53.4 257.4,46.5 259.1,42.9 260.8,43.1 262.5,48.1 264.2,57.8 265.9,71.8 267.6,89.6 269.3,110.3 271.0,133.1 272.7,157.2 274.4,181.8 276.1,206.1 277.8,229.5 279.5,251.4 281.2,271.5 282.9,289.5 284.5,305.2 286.2,318.8 287.9,330.2 289.6,339.6 291.3,347.3 293.0,353.4 294.7,358.1 296.4,361.8 298.1,364.6 299.8,366.6 301.5,368.1 303.2,369.2 304.9,369.9 306.6,370.5 308.3,370.8 310.0,371.1 311.7,371.2 313.3,371.3 315.0,371.4 316.7,371.4 318.4,371.5 320.1,371.5 321.8,371.5 323.5,371.5 325.2,371.5 326.9,371.5 328.6,371.5 330.3,371.5 332.0,371.5 333.7,371.5 335.4,371.5 337.1,371.5 338.8,371.5 340.4,371.5 342.1,371.5 343.8,371.5 345.5,371.5 347.2,371.5 348.9,371.5 350.6,371.5 352.3,371.5 354.0,371.5 355.7,371.5 357.4,371.5 359.1,371.5 360.8,371.5 362.5,371.5 364.2,371.5 365.9,371.5 367.5,371.5 369.2,371.5 370.9,371.5 372.6,371.5 374.3,371.5 376.0,371.5 377.7,371.5 379.4,371.5 381.1,371.5 382.8,371.5 384.5,371.5 386.2,371.5 387.9,371.5 389.6,371.5 391.3,371.5 393.0,371.5 394.6,371.5 396.3,371.5 398.0,371.5 399.7,371.5 401.4,371.5 403.1,371.5 404.8,371.5 406.5,371.5 408.2,371.5 409.9,371.5 411.6,371.5 413.3,371.5 415.0,371.5 416.7,371.5 418.4,371.5 420.1,371.5 421.8,371.5 423.4,371.5 425.1,371.5 426.8,371.5 428.5,371.5 430.2,371.5 431.9,371.5 433.6,371.5 435.3,371.5 437.0,371.5 438.7,371.5 440.4,371.5 442.1,371.5 443.8,371.5 445.5,371.5 447.2,371.5 448.9,371.5 450.5,371.5 452.2,371.5 453.9,371.5 455.6,371.5 457.3,371.5 459.0,371.5 460.7,371.5 462.4,371.5 464.1,371.5 465.8,371.5 467.5,371.5 469.2,371.5 470.9,371.5 472.6,371.5 474.3,371.5 476.0,371.5 477.6,371.5 479.3,371.5 481.0,371.5 482.7,371.5 484.4,371.5 486.1,371.5 487.8,371.5 489.5,371.5 491.2,371.5 492.9,371.5 494.6,371.5 496.3,371.5 498.0,371.5 499.7,371.5 501.4,371.5 503.1,371.5 504.7,371.5 506.4,371.5 508.1,371.5 509.8,371.5 511.5,371.5 513.2,371.5 514.9,371.5 516.6,371.5 518.3,371.5 520.0,371.5 521.7,371.5 523.4,371.5 525.1,371.5 526.8,371.5 528.5,371.5 530.2,371.5 531.8,371.5 533.5,371.5 535.2,371.5 536.9,371.5 538.6,371.5 540.3,371.5 542.0,371.5 543.7,371.5 545.4,371.5 547.1,371.5 548.8,371.5 550.5,371.5 552.2,371.5 553.9,371.5 555.6,371.5 557.3,371.5 559.0,371.5 560.6,371.5 562.3,371.5 564.0,371.5 565.7,371.5 567.4,371.5 569.1,371.5 570.8,371.5 572.5,371.5 574.2,371.5 575.9,371.5 577.6,371.5 579.3,371.5 581.0,371.5 582.7,371.5 584.4,371.5 586.1,371.5 587.7,371.5 589.4,371.5 591.1,371.5 592.8,371.5 594.5,371.5 596.2,371.5 597.9,371.5 599.6,371.5 601.3,371.5 603.0,371.5 604.7,371.5 606.4,371.5 608.1,371.5 609.8,371.5 611.5,371.5 613.2,371.5 614.8,371.5 616.5,371.5 618.2,371.5 619.9,371.5 621.6,371.5 623.3,371.5 625.0,371.5 626.7,371.5 628.4,371.5 630.1,371.5 631.8,371.5 633.5,371.5 635.2,371.5 636.9,371.5 638.6,371.5 640.3,371.5 641.9,371.5 643.6,371.5 645.3,371.5 647.0,371.5 648.7,371.5 650.4,371.5 652.1,371.5 653.8,371.5 655.5,371.5 657.2,371.5 658.9,371.5 660.6,371.5 662.3,371.5 664.0,371.5 665.7,371.5 667.4,371.5 669.0,371.5" stroke="#83db56"/>
<path d="M59.3,371.5 61.0,371.5 62.7,371.5 64.4,371.5 66.0,371.5 67.7,371.5 69.4,371.5 71.1,371.5 72.8,371.5 74.5,371.5 76.2,371.5 77.9,371.5 79.6,371.5 81.3,371.5 83.0,371.5 84.7,371.5 86.4,371.5 88.1,371.5 89.8,371.5 91.5,371.5 93.1,371.5 94.8,371.5 96.5,371.5 98.2,371.5 99.9,371.5 101.6,371.5 103.3,371.5 105.0,371.5 106.7,371.5 108.4,371.5 110.1,371.5 111.8,371.5 113.5,371.5 115.2,371.5 116.9,371.5 118.6,371.5 120.2,371.5 121.9,371.5 123.6,371.5 125.3,371.5 127.0,371.4 128.7,371.4 130.4,371.4 132.1,371.3 133.8,371.2 135.5,371.1 137.2,370.9 138.9,370.7 140.6,370.4 142.3,370.0 144.0,369.5 145.7,368.9 147.3,368.1 149.0,367.2 150.7,366.2 152.4,364.9 154.1,363.5 155.8,362.0 157.5,360.3 159.2,358.6 160.9,356.9 162.6,355.2 164.3,353.6 166.0,352.1 167.7,350.9 169.4,350.0 171.1,349.4 172.8,349.1 174.5,349.2 176.1,349.6 177.8,350.2 179.5,351.0 181.2,352.1 182.9,353.3 184.6,354.7 186.3,356.1 188.0,357.6 189.7,359.1 191.4,360.6 193.1,361.9 194.8,363.2 196.5,364.4 198.2,365.4 199.9,366.3 201.6,367.0 203.2,367.5 204.9,367.8 206.6,367.8 208.3,367.6 210.0,367.0 211.7,366.2 213.4,364.8 215.1,363.0 216.8,360.6 218.5,357.6 220.2,353.7 221.9,348.8 223.6,343.0 225.3,335.9 227.0,327.5 228.7,317.7 230.3,306.4 232.0,293.5 233.7,279.0 235.4,263.1 237.1,245.7 238.8,227.0 240.5,207.4 242.2,187.0 243.9,166.2 245.6,145.6 247.3,125.5 249.0,106.4 250.7,88.8 252.4,73.2 254.1,60.2 255.8,49.9 257.4,42.8 259.1,39.1 260.8,39.0 262.5,43.8 264.2,53.3 265.9,67.3 267.6,85.0 269.3,105.8 271.0,128.8 272.7,153.1 274.4,178.0 276.1,202.7 277.8,226.4 279.5,248.7 281.2,269.1 282.9,287.4 284.5,303.5 286.2,317.4 287.9,329.1 289.6,338.7 291.3,346.6 293.0,352.8 294.7,357.7 296.4,361.5 298.1,364.3 299.8,366.4 301.5,368.0 303.2,369.1 304.9,369.9 306.6,370.4 308.3,370.8 310.0,371.0 311.7,371.2 313.3,371.3 315.0,371.4 316.7,371.4 318.4,371.5 320.1,371.5 321.8,371.5 323.5,371.5 325.2,371.5 326.9,371.5 328.6,371.5 330.3,371.5 332.0,371.5 333.7,371.5 335.4,371.5 337.1,371.5 338.8,371.5 340.4,371.5 342.1,371.5 343.8,371.5 345.5,371.5 347.2,371.5 348.9,371.5 350.6,371.5 352.3,371.5 354.0,371.5 355.7,371.5 357.4,371.5 359.1,371.5 360.8,371.5 362.5,371.5 364.2,371.5 365.9,371.5 367.5,371.5 369.2,371.5 370.9,371.5 372.6,371.5 374.3,371.5 376.0,371.5 377.7,371.5 379.4,371.5 381.1,371.5 382.8,371.5 384.5,371.5 386.2,371.5 387.9,371.5 389.6,371.5 391.3,371.5 393.0,371.5 394.6,371.5 396.3,371.5 398.0,371.5 399.7,371.5 401.4,371.5 403.1,371.5 404.8,371.5 406.5,371.5 408.2,371.5 409.9,371.5 411.6,371.5 413.3,371.5 415.0,371.5 416.7,371.5 418.4,371.5 420.1,371.5 421.8,371.5 423.4,371.5 425.1,371.5 426.8,371.5 428.5,371.5 430.2,371.5 431.9,371.5 433.6,371.5 435.3,371.5 437.0,371.5 438.7,371.5 440.4,371.5 442.1,371.5 443.8,371.5 445.5,371.5 447.2,371.5 448.9,371.5 450.5,371.5 452.2,371.5 453.9,371.5 455.6,371.5 457.3,371.5 459.0,371.5 460.7,371.5 462.4,371.5 464.1,371.5 465.8,371.5 467.5,371.5 469.2,371.5 470.9,371.5 472.6,371.5 474.3,371.5 476.0,371.5 477.6,371.5 479.3,371.5 481.0,371.5 482.7,371.5 484.4,371.5 486.1,371.5 487.8,371.5 489.5,371.5 491.2,371.5 492.9,371.5 494.6,371.5 496.3,371.5 498.0,371.5 499.7,371.5 501.4,371.5 503.1,371.5 504.7,371.5 506.4,371.5 508.1,371.5 509.8,371.5 511.5,371.5 513.2,371.5 514.9,371.5 516.6,371.5 518.3,371.5 520.0,371.5 521.7,371.5 523.4,371.5 525.1,371.5 526.8,371.5 528.5,371.5 530.2,371.5 531.8,371.5 533.5,371.5 535.2,371.5 536.9,371.5 538.6,371.5 540.3,371.5 542.0,371.5 543.7,371.5 545.4,371.5 547.1,371.5 548.8,371.5 550.5,371.5 552.2,371.5 553.9,371.5 555.6,371.5 557.3,371.5 559.0,371.5 560.6,371.5 562.3,371.5 564.0,371.5 565.7,371.5 567.4,371.5 569.1,371.5 570.8,371.5 572.5,371.5 574.2,371.5 575.9,371.5 577.6,371.5 579.3,371.5 581.0,371.5 582.7,371.5 584.4,371.5 586.1,371.5 587.7,371.5 589.4,371.5 591.1,371.5 592.8,371.5 594.5,371.5 596.2,371.5 597.9,371.5 599.6,371.5 601.3,371.5 603.0,371.5 604.7,371.5 606.4,371.5 608.1,371.5 609.8,371.5 611.5,371.5 613.2,371.5 614.8,371.5 616.5,371.5 618.2,371.5 619.9,371.5 621.6,371.5 623.3,371.5 625.0,371.5 626.7,371.5 628.4,371.5 630.1,371.5 631.8,371.5 633.5,371.5 635.2,371.5 636.9,371.5 638.6,371.5 640.3,371.5 641.9,371.5 643.6,371.5 645.3,371.5 647.0,371.5 648.7,371.5 650.4,371.5 652.1,371.5 653.8,371.5 655.5,371.5 657.2,371.5 658.9,371.5 660.6,371.5 662.3,371.5 664.0,371.5 665.7,371.5 667.4,371.5 669.0,371.5" stroke="#69db56"/>
<path d="M59.3,371.5 61.0,371.5 62.7,371.5 64.4,371.5 66.0,371.5 67.7,371.5 69.4,371.5 71.1,371.5 72.8,371.5 74.5,371.5 76.2,371.5 77.9,371.5 79.6,371.5 81.3,371.5 83.0,371.5 84.7,371.5 86.4,371.5 88.1,371.5 89.8,371.5 91.5,371.5 93.1,371.5 94.8,371.5 96.5,371.5 98.2,371.5 99.9,371.5 101.6,371.5 103.3,371.4 105.0,371.4 106.7,371.4 108.4,371.4 110.1,371.4 111.8,371.3 113.5,371.3 115.2,371.3 116.9,371.2 118.6,371.2 120.2,371.1 121.9,371.0 123.6,370.9 125.3,370.8 127.0,370.6 128.7,370.5 130.4,370.3 132.1,370.1 133.8,369.9 135.5,369.6 137.2,369.3 138.9,369.0 140.6,368.7 142.3,368.3 144.0,367.8 145.7,367.3 147.3,366.8 149.0,366.2 150.7,365.6 152.4,365.0 154.1,364.3 155.8,363.6 157.5,362.8 159.2,362.1 160.9,361.3 162.6,360.4 164.3,359.6 166.0,358.7 167.7,357.9 169.4,357.0 171.1,356.2 172.8,355.4 174.5,354.6 176.1,353.9 177.8,353.2 179.5,352.6 181.2,352.1 182.9,351.6 184.6,351.2 186.3,350.8 188.0,350.6 189.7,350.4 191.4,350.3 193.1,350.3 194.8,350.4 196.5,350.5 198.2,350.7 199.9,350.8 201.6,351.0 203.2,351.2 204.9,351.2 206.6,351.2 208.3,351.0 210.0,350.5 211.7,349.8 213.4,348.6 215.1,346.9 216.8,344.7 218.5,341.7 220.2,337.9 221.9,333.1 223.6,327.3 225.3,320.2 227.0,311.9 228.7,302.3 230.3,291.2 232.0,278.7 233.7,264.8 235.4,249.5 237.1,233.1 238.8,215.6 240.5,197.3 242.2,178.5 243.9,159.6 245.6,140.9 247.3,122.8 249.0,105.7 250.7,90.1 252.4,76.3 254.1,64.8 255.8,55.8 257.4,49.7 259.1,46.5 260.8,46.6 262.5,51.3 264.2,60.7 265.9,74.3 267.6,91.7 269.3,112.0 271.0,134.5 272.7,158.3 274.4,182.6 276.1,206.7 277.8,229.8 279.5,251.6 281.2,271.6 282.9,289.4 284.5,305.2 286.2,318.7 287.9,330.1 289.6,339.5 291.3,347.1 293.0,353.3 294.7,358.0 296.4,361.7 298.1,364.5 299.8,366.6 301.5,368.1 303.2,369.2 304.9,369.9 306.6,370.5 308.3,370.8 310.0,371.1 311.7,371.2 313.3,371.3 315.0,371.4 316.7,371.4 318.4,371.5 320.1,371.5 321.8,371.5 323.5,371.5 325.2,371.5 326.9,371.5 328.6,371.5 330.3,371.5 332.0,371.5 333.7,371.5 335.4,371.5 337.1,371.5 338.8,371.5 340.4,371.5 342.1,371.5 343.8,371.5 345.5,371.5 347.2,371.5 348.9,371.5 350.6,371.5 352.3,371.5 354.0,371.5 355.7,371.5 357.4,371.5 359.1,371.5 360.8,371.5 362.5,371.5 364.2,371.5 365.9,371.5 367.5,371.5 369.2,371.5 370.9,371.5 372.6,371.5 374.3,371.5 376.0,371.5 377.7,371.5 379.4,371.5 381.1,371.5 382.8,371.5 384.5,371.5 386.2,371.5 387.9,371.5 389.6,371.5 391.3,371.5 393.0,371.5 394.6,371.5 396.3,371.5 398.0,371.5 399.7,371.5 401.4,371.5 403.1,371.5 404.8,371.5 406.5,371.5 408.2,371.5 409.9,371.5 411.6,371.5 413.3,371.5 415.0,371.5 416.7,371.5 418.4,371.5 420.1,371.5 421.8,371.5 423.4,371.5 425.1,371.5 426.8,371.5 428.5,371.5 430.2,371.5 431.9,371.5 433.6,371.5 435.3,371.5 437.0,371.5 438.7,371.5 440.4,371.5 442.1,371.5 443.8,371.5 445.5,371.5 447.2,371.5 448.9,371.5 450.5,371.5 452.2,371.5 453.9,371.5 455.6,371.5 457.3,371.5 459.0,371.5 460.7,371.5 462.4,371.5 464.1,371.5 465.8,371.5 467.5,371.5 469.2,371.5 470.9,371.5 472.6,371.5 474.3,371.5 476.0,371.5 477.6,371.5 479.3,371.5 481.0,371.5 482.7,371.5 484.4,371.5 486.1,371.5 487.8,371.5 489.5,371.5 491.2,371.5 492.9,371.5 494.6,371.5 496.3,371.5 498.0,371.5 499.7,371.5 501.4,371.5 503.1,371.5 504.7,371.5 506.4,371.5 508.1,371.5 509.8,371.5 511.5,371.5 513.2,371.5 514.9,371.5 516.6,371.5 518.3,371.5 520.0,371.5 521.7,371.5 523.4,371.5 525.1,371.5 526.8,371.5 528.5,371.5 530.2,371.5 531.8,371.5 533.5,371.5 535.2,371.5 536.9,371.5 538.6,371.5 540.3,371.5 542.0,371.5 543.7,371.5 545.4,371.5 547.1,371.5 548.8,371.5 550.5,371.5 552.2,371.5 553.9,371.5 555.6,371.5 557.3,371.5 559.0,371.5 560.6,371.5 562.3,371.5 564.0,371.5 565.7,371.5 567.4,371.5 569.1,371.5 570.8,371.5 572.5,371.5 574.2,371.5 575.9,371.5 577.6,371.5 579.3,371.5 581.0,371.5 582.7,371.5 584.4,371.5 586.1,371.5 587.7,371.5 589.4,371.5 591.1,371.5 592.8,371.5 594.5,371.5 596.2,371.5 597.9,371.5 599.6,371.5 601.3,371.5 603.0,371.5 604.7,371.5 606.4,371.5 608.1,371.5 609.8,371.5 611.5,371.5 613.2,371.5 614.8,371.5 616.5,371.5 618.2,371.5 619.9,371.5 621.6,371.5 623.3,371.5 625.0,371.5 626.7,371.5 628.4,371.5 630.1,371.5 631.8,371.5 633.5,371.5 635.2,371.5 636.9,371.5 638.6,371.5 640.3,371.5 641.9,371.5 643.6,371.5 645.3,371.5 647.0,371.5 648.7,371.5 650.4,371.5 652.1,371.5 653.8,371.5 655.5,371.5 657.2,371.5 658.9,371.5 660.6,371.5 662.3,371.5 664.0,371.5 665.7,371.5 667.4,371.5 669.0,371.5" stroke="#56db5e"/>
<path d="M59.3,371.5 61.0,371.5 62.7,371.5 64.4,371.5 66.0,371.5 67.7,371.5 69.4,371.5 71.1,371.5 72.8,371.5 74.5,371.4 76.2,371.4 77.9,371.4 79.6,371.4 81.3,371.4 83.0,371.4 84.7,371.4 86.4,371.4 88.1,371.4 89.8,371.4 91.5,371.3 93.1,371.3 94.8,371.3 96.5,371.3 98.2,371.3 99.9,371.2 101.6,371.2 103.3,371.2 105.0,371.1 106.7,371.1 108.4,371.1 110.1,371.0 111.8,371.0 113.5,370.9 115.2,370.9 116.9,370.8 118.6,370.7 120.2,370.6 121.9,370.6 123.6,370.5 125.3,370.4 127.0,370.3 128.7,370.1 130.4,370.0 132.1,369.9 133.8,369.7 135.5,369.6 137.2,369.4 138.9,369.2 140.6,369.0 142.3,368.8 144.0,368.5 145.7,368.2 147.3,368.0 149.0,367.6 150.7,367.3 152.4,366.9 154.1,366.5 155.8,366.0 157.5,365.5 159.2,365.0 160.9,364.4 162.6,363.7 164.3,363.0 166.0,362.2 167.7,361.4 169.4,360.5 171.1,359.5 172.8,358.5 174.5,357.3 176.1,356.2 177.8,354.9 179.5,353.6 181.2,352.2 182.9,350.7 184.6,349.2 186.3,347.7 188.0,346.1 189.7,344.5 191.4,342.9 193.1,341.3 194.8,339.6 196.5,338.0 198.2,336.4 199.9,334.9 201.6,333.4 203.2,331.9 204.9,330.5 206.6,329.1 208.3,327.8 210.0,326.5 211.7,325.3 213.4,324.2 215.1,323.1 216.8,322.0 218.5,321.0 220.2,320.0 221.9,319.0 223.6,318.1 225.3,317.1 227.0,316.1 228.7,315.1 230.3,314.1 232.0,313.1 233.7,312.0 235.4,310.9 237.1,309.8 238.8,308.7 240.5,307.5 242.2,306.2 243.9,305.0 245.6,303.7 247.3,302.4 249.0,301.1 250.7,299.8 252.4,298.5 254.1,297.2 255.8,295.9 257.4,294.6 259.1,293.4 260.8,292.2 262.5,291.0 264.2,289.8 265.9,288.7 267.6,287.7 269.3,286.7 271.0,285.7 272.7,284.9 274.4,284.1 276.1,283.3 277.8,282.7 279.5,282.1 281.2,281.6 282.9,281.1 284.5,280.8 286.2,280.5 287.9,280.3 289.6,280.2 291.3,280.2 293.0,280.3 294.7,280.5 296.4,280.8 298.1,281.3 299.8,281.8 301.5,282.5 303.2,283.4 304.9,284.3 306.6,285.3 308.3,286.5 310.0,287.7 311.7,289.0 313.3,290.5 315.0,292.0 316.7,293.6 318.4,295.2 320.1,296.9 321.8,298.7 323.5,300.6 325.2,302.5 326.9,304.4 328.6,306.4 330.3,308.4 332.0,310.4 333.7,312.4 335.4,314.5 337.1,316.5 338.8,318.6 340.4,320.6 342.1,322.6 343.8,324.7 345.5,326.7 347.2,328.6 348.9,330.6 350.6,332.5 352.3,334.3 354.0,336.1 355.7,337.9 357.4,339.7 359.1,341.4 360.8,343.0 362.5,344.6 364.2,346.1 365.9,347.6 367.5,349.0 369.2,350.4 370.9,351.7 372.6,352.9 374.3,354.1 376.0,355.3 377.7,356.4 379.4,357.4 381.1,358.4 382.8,359.3 384.5,360.2 386.2,361.0 387.9,361.8 389.6,362.6 391.3,363.2 393.0,363.9 394.6,364.5 396.3,365.1 398.0,365.6 399.7,366.1 401.4,366.6 403.1,367.0 404.8,367.4 406.5,367.7 408.2,368.1 409.9,368.4 411.6,368.7 413.3,368.9 415.0,369.2 416.7,369.4 418.4,369.6 420.1,369.8 421.8,370.0 423.4,370.1 425.1,370.3 426.8,370.4 428.5,370.5 430.2,370.6 431.9,370.7 433.6,370.8 435.3,370.9 437.0,370.9 438.7,371.0 440.4,371.1 442.1,371.1 443.8,371.2 445.5,371.2 447.2,371.2 448.9,371.3 450.5,371.3 452.2,371.3 453.9,371.3 455.6,371.4 457.3,371.4 459.0,371.4 460.7,371.4 462.4,371.4 464.1,371.4 465.8,371.4 467.5,371.4 469.2,371.5 470.9,371.5 472.6,371.5 474.3,371.5 476.0,371.5 477.6,371.5 479.3,371.5 481.0,371.5 482.7,371.5 484.4,371.5 486.1,371.5 487.8,371.5 489.5,371.5 491.2,371.5 492.9,371.5 494.6,371.5 496.3,371.5 498.0,371.5 499.7,371.5 501.4,371.5 503.1,371.5 504.7,371.5 506.4,371.5 508.1,371.5 509.8,371.5 511.5,371.5 513.2,371.5 514.9,371.5 516.6,371.5 518.3,371.5 520.0,371.5 521.7,371.5 523.4,371.5 525.1,371.5 526.8,371.5 528.5,371.5 530.2,371.5 531.8,371.5 533.5,371.5 535.2,371.5 536.9,371.5 538.6,371.5 540.3,371.5 542.0,371.5 543.7,371.5 545.4,371.5 547.1,371.5 548.8,371.5 550.5,371.5 552.2,371.5 553.9,371.5 555.6,371.5 557.3,371.5 559.0,371.5 560.6,371.5 562.3,371.5 564.0,371.5 565.7,371.5 567.4,371.5 569.1,371.5 570.8,371.5 572.5,371.5 574.2,371.5 575.9,371.5 577.6,371.5 579.3,371.5 581.0,371.5 582.7,371.5 584.4,371.5 586.1,371.5 587.7,371.5 589.4,371.5 591.1,371.5 592.8,371.5 594.5,371.5 596.2,371.5 597.9,371.5 599.6,371.5 601.3,371.5 603.0,371.5 604.7,371.5 606.4,371.5 608.1,371.5 609.8,371.5 611.5,371.5 613.2,371.5 614.8,371.5 616.5,371.5 618.2,371.5 619.9,371.5 621.6,371.5 623.3,371.5 625.0,371.5 626.7,371.5 628.4,371.5 630.1,371.5 631.8,371.5 633.5,371.5 635.2,371.5 636.9,371.5 638.6,371.5 640.3,371.5 641.9,371.5 643.6,371.5 645.3,371.5 647.0,371.5 648.7,371.5 650.4,371.5 652.1,371.5 653.8,371.5 655.5,371.5 657.2,371.5 658.9,371.5 660.6,371.5 662.3,371.5 664.0,371.5 665.7,371.5 667.4,371.5 669.0,371.5" stroke="#56db79"/>
<path d="M59.3,371.5 61.0,371.5 62.7,371.5 64.4,371.5 66.0,371.5 67.7,371.5 69.4,371.5 71.1,371.5 72.8,371.5 74.5,371.5 76.2,371.5 77.9,371.5 79.6,371.5 81.3,371.5 83.0,371.5 84.7,371.5 86.4,371.5 88.1,371.5 89.8,371.5 91.5,371.5 93.1,371.5 94.8,371.5 96.5,371.5 98.2,371.5 99.9,371.5 101.6,371.5 103.3,371.5 105.0,371.5 106.7,371.5 108.4,371.5 110.1,371.5 111.8,371.5 113.5,371.5 115.2,371.4 116.9,371.4 118.6,371.4 120.2,371.4 121.9,371.3 123.6,371.3 125.3,371.3 127.0,371.2 128.7,371.1 130.4,371.1 132.1,371.0 133.8,370.9 135.5,370.7 137.2,370.6 138.9,370.4 140.6,370.2 142.3,369.9 144.0,369.6 145.7,369.3 147.3,368.9 149.0,368.5 150.7,368.0 152.4,367.4 154.1,366.8 155.8,366.2 157.5,365.4 159.2,364.6 160.9,363.7 162.6,362.7 164.3,361.7 166.0,360.5 167.7,359.3 169.4,358.0 171.1,356.7 172.8,355.3 174.5,353.8 176.1,352.3 177.8,350.7 179.5,349.1 181.2,347.5 182.9,345.9 184.6,344.4 186.3,342.8 188.0,341.3 189.7,339.8 191.4,338.4 193.1,337.1 194.8,335.9 196.5,334.8 198.2,333.7 199.9,332.8 201.6,332.0 203.2,331.2 204.9,330.5 206.6,329.7 208.3,329.0 210.0,328.2 211.7,327.3 213.4,326.1 215.1,324.6 216.8,322.7 218.5,320.3 220.2,317.3 221.9,313.5 223.6,308.9 225.3,303.3 227.0,296.6 228.7,288.8 230.3,279.8 232.0,269.5 233.7,258.1 235.4,245.6 237.1,232.1 238.8,217.9 240.5,203.0 242.2,187.9 243.9,172.9 245.6,158.2 247.3,144.3 249.0,131.5 250.7,120.3 252.4,110.9 254.1,103.7 255.8,98.9 257.4,96.6 259.1,97.1 260.8,101.1 262.5,108.8 264.2,119.7 265.9,133.5 267.6,149.7 269.3,167.6 271.0,186.7 272.7,206.4 274.4,226.0 276.1,245.1 277.8,263.2 279.5,280.0 281.2,295.3 282.9,308.9 284.5,320.8 286.2,331.1 287.9,339.7 289.6,346.8 291.3,352.6 293.0,357.2 294.7,360.9 296.4,363.7 298.1,365.9 299.8,367.5 301.5,368.7 303.2,369.5 304.9,370.2 306.6,370.6 308.3,370.9 310.0,371.1 311.7,371.2 313.3,371.3 315.0,371.4 316.7,371.4 318.4,371.5 320.1,371.5 321.8,371.5 323.5,371.5 325.2,371.5 326.9,371.5 328.6,371.5 330.3,371.5 332.0,371.5 333.7,371.5 335.4,371.5 337.1,371.5 338.8,371.5 340.4,371.5 342.1,371.5 343.8,371.5 345.5,371.5 347.2,371.5 348.9,371.5 350.6,371.5 352.3,371.5 354.0,371.5 355.7,371.5 357.4,371.5 359.1,371.5 360.8,371.5 362.5,371.5 364.2,371.5 365.9,371.5 367.5,371.5 369.2,371.5 370.9,371.5 372.6,371.5 374.3,371.5 376.0,371.5 377.7,371.5 379.4,371.5 381.1,371.5 382.8,371.5 384.5,371.5 386.2,371.5 387.9,371.5 389.6,371.5 391.3,371.5 393.0,371.5 394.6,371.5 396.3,371.5 398.0,371.5 399.7,371.5 401.4,371.5 403.1,371.5 404.8,371.5 406.5,371.5 408.2,371.5 409.9,371.5 411.6,371.5 413.3,371.5 415.0,371.5 416.7,371.5 418.4,371.5 420.1,371.5 421.8,371.5 423.4,371.5 425.1,371.5 426.8,371.5 428.5,371.5 430.2,371.5 431.9,371.5 433.6,371.5 435.3,371.5 437.0,371.5 438.7,371.5 440.4,371.5 442.1,371.5 443.8,371.5 445.5,371.5 447.2,371.5 448.9,371.5 450.5,371.5 452.2,371.5 453.9,371.5 455.6,371.5 457.3,371.5 459.0,371.5 460.7,371.5 462.4,371.5 464.1,371.5 465.8,371.5 467.5,371.5 469.2,371.5 470.9,371.5 472.6,371.5 474.3,371.5 476.0,371.5 477.6,371.5 479.3,371.5 481.0,371.5 482.7,371.5 484.4,371.5 486.1,371.5 487.8,371.5 489.5,371.5 491.2,371.5 492.9,371.5 494.6,371.5 496.3,371.5 498.0,371.5 499.7,371.5 501.4,371.5 503.1,371.5 504.7,371.5 506.4,371.5 508.1,371.5 509.8,371.5 511.5,371.5 513.2,371.5 514.9,371.5 516.6,371.5 518.3,371.5 520.0,371.5 521.7,371.5 523.4,371.5 525.1,371.5 526.8,371.5 528.5,371.5 530.2,371.5 531.8,371.5 533.5,371.5 535.2,371.5 536.9,371.5 538.6,371.5 540.3,371.5 542.0,371.5 543.7,371.5 545.4,371.5 547.1,371.5 548.8,371.5 550.5,371.5 552.2,371.5 553.9,371.5 555.6,371.5 557.3,371.5 559.0,371.5 560.6,371.5 562.3,371.5 564.0,371.5 565.7,371.5 567.4,371.5 569.1,371.5 570.8,371.5 572.5,371.5 574.2,371.5 575.9,371.5 577.6,371.5 579.3,371.5 581.0,371.5 582.7,371.5 584.4,371.5 586.1,371.5 587.7,371.5 589.4,371.5 591.1,371.5 592.8,371.5 594.5,371.5 596.2,371.5 597.9,371.5 599.6,371.5 601.3,371.5 603.0,371.5 604.7,371.5 606.4,371.5 608.1,371.5 609.8,371.5 611.5,371.5 613.2,371.5 614.8,371.5 616.5,371.5 618.2,371.5 619.9,371.5 621.6,371.5 623.3,371.5 625.0,371.5 626.7,371.5 628.4,371.5 630.1,371.5 631.8,371.5 633.5,371.5 635.2,371.5 636.9,371.5 638.6,371.5 640.3,371.5 641.9,371.5 643.6,371.5 645.3,371.5 647.0,371.5 648.7,371.5 650.4,371.5 652.1,371.5 653.8,371.5 655.5,371.5 657.2,371.5 658.9,371.5 660.6,371.5 662.3,371.5 664.0,371.5 665.7,371.5 667.4,371.5 669.0,371.5" stroke="#56db93"/>
<path d="M59.3,371.5 61.0,371.5 62.7,371.5 64.4,371.5 66.0,371.5 67.7,371.5 69.4,371.5 71.1,371.5 72.8,371.5 74.5,371.5 76.2,371.4 77.9,371.4 79.6,371.4 81.3,371.4 83.0,371.4 84.7,371.4 86.4,371.4 88.1,371.4 89.8,371.4 91.5,371.4 93.1,371.4 94.8,371.3 96.5,371.3 98.2,371.3 99.9,371.3 101.6,371.3 103.3,371.2 105.0,371.2 106.7,371.2 108.4,371.2 110.1,371.1 111.8,371.1 113.5,371.1 115.2,371.0 116.9,371.0 118.6,371.0 120.2,370.9 121.9,370.9 123.6,370.8 125.3,370.8 127.0,370.7 128.7,370.6 130.4,370.6 132.1,370.5 133.8,370.4 135.5,370.3 137.2,370.3 138.9,370.2 140.6,370.1 142.3,370.0 144.0,369.9 145.7,369.8 147.3,369.6 149.0,369.5 150.7,369.4 152.4,369.3 154.1,369.1 155.8,369.0 157.5,368.9 159.2,368.7 160.9,368.5 162.6,368.4 164.3,368.2 166.0,368.0 167.7,367.9 169.4,367.7 171.1,367.5 172.8,367.3 174.5,367.1 176.1,366.9 177.8,366.7 179.5,366.4 181.2,366.2 182.9,366.0 184.6,365.8 186.3,365.5 188.0,365.3 189.7,365.1 191.4,364.8 193.1,364.6 194.8,364.3 196.5,364.1 198.2,363.8 199.9,363.5 201.6,363.3 203.2,363.0 204.9,362.7 206.6,362.5 208.3,362.2 210.0,361.9 211.7,361.6 213.4,361.4 215.1,361.1 216.8,360.8 218.5,360.5 220.2,360.2 221.9,359.9 223.6,359.6 225.3,359.3 227.0,358.9 228.7,358.6 230.3,358.3 232.0,357.9 233.7,357.6 235.4,357.2 237.1,356.8 238.8,356.4 240.5,356.0 242.2,355.6 243.9,355.2 245.6,354.7 247.3,354.2 249.0,353.8 250.7,353.2 252.4,352.7 254.1,352.1 255.8,351.5 257.4,350.9 259.1,350.3 260.8,349.6 262.5,348.9 264.2,348.1 265.9,347.3 267.6,346.5 269.3,345.6 271.0,344.8 272.7,343.8 274.4,342.8 276.1,341.8 277.8,340.8 279.5,339.6 281.2,338.5 282.9,337.3 284.5,336.1 286.2,334.8 287.9,333.5 289.6,332.1 291.3,330.7 293.0,329.3 294.7,327.8 296.4,326.3 298.1,324.7 299.8,323.2 301.5,321.5 303.2,319.9 304.9,318.2 306.6,316.6 308.3,314.8 310.0,313.1 311.7,311.4 313.3,309.6 315.0,307.9 316.7,306.2 318.4,304.4 320.1,302.7 321.8,301.0 323.5,299.3 325.2,297.6 326.9,295.9 328.6,294.3 330.3,292.7 332.0,291.2 333.7,289.7 335.4,288.2 337.1,286.8 338.8,285.5 340.4,284.3 342.1,283.1 343.8,281.9 345.5,280.9 347.2,279.9 348.9,279.1 350.6,278.3 352.3,277.6 354.0,277.0 355.7,276.5 357.4,276.1 359.1,275.8 360.8,275.6 362.5,275.4 364.2,275.4 365.9,275.6 367.5,275.9 369.2,276.4 370.9,277.1 372.6,278.0 374.3,279.1 376.0,280.3 377.7,281.7 379.4,283.3 381.1,285.0 382.8,286.8 384.5,288.8 386.2,290.9 387.9,293.1 389.6,295.4 391.3,297.7 393.0,300.2 394.6,302.7 396.3,305.2 398.0,307.8 399.7,310.4 401.4,313.0 403.1,315.6 404.8,318.2 406.5,320.8 408.2,323.4 409.9,325.9 411.6,328.4 413.3,330.8 415.0,333.2 416.7,335.5 418.4,337.7 420.1,339.9 421.8,341.9 423.4,343.9 425.1,345.8 426.8,347.7 428.5,349.4 430.2,351.1 431.9,352.7 433.6,354.1 435.3,355.5 437.0,356.9 438.7,358.1 440.4,359.3 442.1,360.3 443.8,361.3 445.5,362.3 447.2,363.1 448.9,363.9 450.5,364.7 452.2,365.4 453.9,366.0 455.6,366.5 457.3,367.1 459.0,367.5 460.7,368.0 462.4,368.4 464.1,368.7 465.8,369.0 467.5,369.3 469.2,369.6 470.9,369.8 472.6,370.0 474.3,370.2 476.0,370.4 477.6,370.5 479.3,370.6 481.0,370.7 482.7,370.8 484.4,370.9 486.1,371.0 487.8,371.1 489.5,371.1 491.2,371.2 492.9,371.2 494.6,371.3 496.3,371.3 498.0,371.3 499.7,371.4 501.4,371.4 503.1,371.4 504.7,371.4 506.4,371.4 508.1,371.4 509.8,371.4 511.5,371.5 513.2,371.5 514.9,371.5 516.6,371.5 518.3,371.5 520.0,371.5 521.7,371.5 523.4,371.5 525.1,371.5 526.8,371.5 528.5,371.5 530.2,371.5 531.8,371.5 533.5,371.5 535.2,371.5 536.9,371.5 538.6,371.5 540.3,371.5 542.0,371.5 543.7,371.5 545.4,371.5 547.1,371.5 548.8,371.5 550.5,371.5 552.2,371.5 553.9,371.5 555.6,371.5 557.3,371.5 559.0,371.5 560.6,371.5 562.3,371.5 564.0,371.5 565.7,371.5 567.4,371.5 569.1,371.5 570.8,371.5 572.5,371.5 574.2,371.5 575.9,371.5 577.6,371.5 579.3,371.5 581.0,371.5 582.7,371.5 584.4,371.5 586.1,371.5 587.7,371.5 589.4,371.5 591.1,371.5 592.8,371.5 594.5,371.5 596.2,371.5 597.9,371.5 599.6,371.5 601.3,371.5 603.0,371.5 604.7,371.5 606.4,371.5 608.1,371.5 609.8,371.5 611.5,371.5 613.2,371.5 614.8,371.5 616.5,371.5 618.2,371.5 619.9,371.5 621.6,371.5 623.3,371.5 625.0,371.5 626.7,371.5 628.4,371.5 630.1,371.5 631.8,371.5 633.5,371.5 635.2,371.5 636.9,371.5 638.6,371.5 640.3,371.5 641.9,371.5 643.6,371.5 645.3,371.5 647.0,371.5 648.7,371.5 650.4,371.5 652.1,371.5 653.8,371.5 655.5,371.5 657.2,371.5 658.9,371.5 660.6,371.5 662.3,371.5 664.0,371.5 665.7,371.5 667.4,371.5 669.0,371.5" stroke="#56dbae"/>
<path d="M59.3,371.5 61.0,371.5 62.7,371.5 64.4,371.5 66.0,371.5 67.7,371.5 69.4,371.5 71.1,371.5 72.8,371.5 74.5,371.5 76.2,371.5 77.9,371.5 79.6,371.5 81.3,371.5 83.0,371.5 84.7,371.5 86.4,371.5 88.1,371.5 89.8,371.5 91.5,371.5 93.1,371.5 94.8,371.5 96.5,371.5 98.2,371.5 99.9,371.5 101.6,371.5 103.3,371.5 105.0,371.5 106.7,371.5 108.4,371.5 110.1,371.5 111.8,371.5 113.5,371.5 115.2,371.5 116.9,371.5 118.6,371.5 120.2,371.5 121.9,371.5 123.6,371.5 125.3,371.4 127.0,371.4 128.7,371.4 130.4,371.4 132.1,371.3 133.8,371.3 135.5,371.2 137.2,371.2 138.9,371.1 140.6,371.0 142.3,370.9 144.0,370.7 145.7,370.6 147.3,370.4 149.0,370.2 150.7,369.9 152.4,369.6 154.1,369.3 155.8,368.9 157.5,368.5 159.2,368.0 160.9,367.5 162.6,366.9 164.3,366.2 166.0,365.6 167.7,364.8 169.4,364.0 171.1,363.2 172.8,362.3 174.5,361.4 176.1,360.5 177.8,359.5 179.5,358.5 181.2,357.6 182.9,356.6 184.6,355.7 186.3,354.8 188.0,354.0 189.7,353.2 191.4,352.5 193.1,351.9 194.8,351.4 196.5,350.9 198.2,350.6 199.9,350.4 201.6,350.3 203.2,350.2 204.9,350.3 206.6,350.4 208.3,350.5 210.0,350.5 211.7,350.5 213.4,350.4 215.1,350.0 216.8,349.3 218.5,348.1 220.2,346.4 221.9,343.9 223.6,340.5 225.3,336.1 227.0,330.5 228.7,323.4 230.3,314.8 232.0,304.7 233.7,292.8 235.4,279.3 237.1,264.2 238.8,247.7 240.5,230.0 242.2,211.5 243.9,192.7 245.6,174.0 247.3,156.0 249.0,139.2 250.7,124.3 252.4,111.8 254.1,102.1 255.8,95.6 257.4,92.7 259.1,93.4 260.8,98.0 262.5,106.3 264.2,117.9 265.9,132.4 267.6,149.2 269.3,167.8 271.0,187.4 272.7,207.5 274.4,227.4 276.1,246.7 277.8,265.0 279.5,281.8 281.2,297.0 282.9,310.6 284.5,322.3 286.2,332.4 287.9,340.8 289.6,347.8 291.3,353.4 293.0,357.9 294.7,361.4 296.4,364.1 298.1,366.2 299.8,367.7 301.5,368.9 303.2,369.7 304.9,370.3 306.6,370.7 308.3,370.9 310.0,371.1 311.7,371.3 313.3,371.4 315.0,371.4 316.7,371.4 318.4,371.5 320.1,371.5 321.8,371.5 323.5,371.5 325.2,371.5 326.9,371.5 328.6,371.5 330.3,371.5 332.0,371.5 333.7,371.5 335.4,371.5 337.1,371.5 338.8,371.5 340.4,371.5 342.1,371.5 343.8,371.5 345.5,371.5 347.2,371.5 348.9,371.5 350.6,371.5 352.3,371.5 354.0,371.5 355.7,371.5 357.4,371.5 359.1,371.5 360.8,371.5 362.5,371.5 364.2,371.5 365.9,371.5 367.5,371.5 369.2,371.5 370.9,371.5 372.6,371.5 374.3,371.5 376.0,371.5 377.7,371.5 379.4,371.5 381.1,371.5 382.8,371.5 384.5,371.5 386.2,371.5 387.9,371.5 389.6,371.5 391.3,371.5 393.0,371.5 394.6,371.5 396.3,371.5 398.0,371.5 399.7,371.5 401.4,371.5 403.1,371.5 404.8,371.5 406.5,371.5 408.2,371.5 409.9,371.5 411.6,371.5 413.3,371.5 415.0,371.5 416.7,371.5 418.4,371.5 420.1,371.5 421.8,371.5 423.4,371.5 425.1,371.5 426.8,371.5 428.5,371.5 430.2,371.5 431.9,371.5 433.6,371.5 435.3,371.5 437.0,371.5 438.7,371.5 440.4,371.5 442.1,371.5 443.8,371.5 445.5,371.5 447.2,371.5 448.9,371.5 450.5,371.5 452.2,371.5 453.9,371.5 455.6,371.5 457.3,371.5 459.0,371.5 460.7,371.5 462.4,371.5 464.1,371.5 465.8,371.5 467.5,371.5 469.2,371.5 470.9,371.5 472.6,371.5 474.3,371.5 476.0,371.5 477.6,371.5 479.3,371.5 481.0,371.5 482.7,371.5 484.4,371.5 486.1,371.5 487.8,371.5 489.5,371.5 491.2,371.5 492.9,371.5 494.6,371.5 496.3,371.5 498.0,371.5 499.7,371.5 501.4,371.5 503.1,371.5 504.7,371.5 506.4,371.5 508.1,371.5 509.8,371.5 511.5,371.5 513.2,371.5 514.9,371.5 516.6,371.5 518.3,371.5 520.0,371.5 521.7,371.5 523.4,371.5 525.1,371.5 526.8,371.5 528.5,371.5 530.2,371.5 531.8,371.5 533.5,371.5 535.2,371.5 536.9,371.5 538.6,371.5 540.3,371.5 542.0,371.5 543.7,371.5 545.4,371.5 547.1,371.5 548.8,371.5 550.5,371.5 552.2,371.5 553.9,371.5 555.6,371.5 557.3,371.5 559.0,371.5 560.6,371.5 562.3,371.5 564.0,371.5 565.7,371.5 567.4,371.5 569.1,371.5 570.8,371.5 572.5,371.5 574.2,371.5 575.9,371.5 577.6,371.5 579.3,371.5 581.0,371.5 582.7,371.5 584.4,371.5 586.1,371.5 587.7,371.5 589.4,371.5 591.1,371.5 592.8,371.5 594.5,371.5 596.2,371.5 597.9,371.5 599.6,371.5 601.3,371.5 603.0,371.5 604.7,371.5 606.4,371.5 608.1,371.5 609.8,371.5 611.5,371.5 613.2,371.5 614.8,371.5 616.5,371.5 618.2,371.5 619.9,371.5 621.6,371.5 623.3,371.5 625.0,371.5 626.7,371.5 628.4,371.5 630.1,371.5 631.8,371.5 633.5,371.5 635.2,371.5 636.9,371.5 638.6,371.5 640.3,371.5 641.9,371.5 643.6,371.5 645.3,371.5 647.0,371.5 648.7,371.5 650.4,371.5 652.1,371.5 653.8,371.5 655.5,371.5 657.2,371.5 658.9,371.5 660.6,371.5 662.3,371.5 664.0,371.5 665.7,371.5 667.4,371.5 669.0,371.5" stroke="#56dbc8"/>
<path d="M59.3,371.5 61.0,371.5 62.7,371.5 64.4,371.5 66.0,371.5 67.7,371.5 69.4,371.5 71.1,371.5 72.8,371.5 74.5,371.5 76.2,371.5 77.9,371.5 79.6,371.5 81.3,371.5 83.0,371.5 84.7,371.5 86.4,371.5 88.1,371.5 89.8,371.5 91.5,371.5 93.1,371.5 94.8,371.4 96.5,371.4 98.2,371.4 99.9,371.4 101.6,371.3 103.3,371.3 105.0,371.3 106.7,371.2 108.4,371.1 110.1,371.0 111.8,370.9 113.5,370.8 115.2,370.6 116.9,370.4 118.6,370.2 120.2,369.9 121.9,369.6 123.6,369.2 125.3,368.8 127.0,368.3 128.7,367.7 130.4,367.1 132.1,366.3 133.8,365.4 135.5,364.5 137.2,363.4 138.9,362.2 140.6,360.8 142.3,359.3 144.0,357.6 145.7,355.8 147.3,353.9 149.0,351.8 150.7,349.5 152.4,347.0 154.1,344.5 155.8,341.7 157.5,338.9 159.2,335.9 160.9,332.8 162.6,329.6 164.3,326.3 166.0,323.0 167.7,319.7 169.4,316.4 171.1,313.1 172.8,309.8 174.5,306.6 176.1,303.5 177.8,300.6 179.5,297.8 181.2,295.1 182.9,292.6 184.6,290.3 186.3,288.2 188.0,286.3 189.7,284.6 191.4,283.1 193.1,281.7 194.8,280.3 196.5,279.0 198.2,277.7 199.9,276.4 201.6,275.1 203.2,273.8 204.9,272.4 206.6,270.9 208.3,269.3 210.0,267.6 211.7,265.9 213.4,264.0 215.1,262.0 216.8,259.9 218.5,257.7 220.2,255.3 221.9,253.0 223.6,250.5 225.3,248.1 227.0,245.7 228.7,243.3 230.3,241.0 232.0,238.8 233.7,236.7 235.4,234.9 237.1,233.3 238.8,232.1 240.5,231.1 242.2,230.5 243.9,230.3 245.6,230.5 247.3,231.1 249.0,232.2 250.7,233.9 252.4,236.3 254.1,239.5 255.8,243.3 257.4,247.9 259.1,253.0 260.8,258.6 262.5,264.6 264.2,271.0 265.9,277.6 267.6,284.4 269.3,291.2 271.0,297.9 272.7,304.6 274.4,311.0 276.1,317.2 277.8,323.1 279.5,328.7 281.2,333.8 282.9,338.6 284.5,342.9 286.2,346.9 287.9,350.4 289.6,353.6 291.3,356.4 293.0,358.8 294.7,361.0 296.4,362.8 298.1,364.3 299.8,365.7 301.5,366.8 303.2,367.7 304.9,368.5 306.6,369.1 308.3,369.6 310.0,370.0 311.7,370.3 313.3,370.6 315.0,370.8 316.7,371.0 318.4,371.1 320.1,371.2 321.8,371.3 323.5,371.3 325.2,371.4 326.9,371.4 328.6,371.4 330.3,371.5 332.0,371.5 333.7,371.5 335.4,371.5 337.1,371.5 338.8,371.5 340.4,371.5 342.1,371.5 343.8,371.5 345.5,371.5 347.2,371.5 348.9,371.5 350.6,371.5 352.3,371.5 354.0,371.5 355.7,371.5 357.4,371.5 359.1,371.5 360.8,371.5 362.5,371.5 364.2,371.5 365.9,371.5 367.5,371.5 369.2,371.5 370.9,371.5 372.6,371.5 374.3,371.5 376.0,371.5 377.7,371.5 379.4,371.5 381.1,371.5 382.8,371.5 384.5,371.5 386.2,371.5 387.9,371.5 389.6,371.5 391.3,371.5 393.0,371.5 394.6,371.5 396.3,371.5 398.0,371.5 399.7,371.5 401.4,371.5 403.1,371.5 404.8,371.5 406.5,371.5 408.2,371.5 409.9,371.5 411.6,371.5 413.3,371.5 415.0,371.5 416.7,371.5 418.4,371.5 420.1,371.5 421.8,371.5 423.4,371.5 425.1,371.5 426.8,371.5 428.5,371.5 430.2,371.5 431.9,371.5 433.6,371.5 435.3,371.5 437.0,371.5 438.7,371.5 440.4,371.5 442.1,371.5 443.8,371.5 445.5,371.5 447.2,371.5 448.9,371.5 450.5,371.5 452.2,371.5 453.9,371.5 455.6,371.5 457.3,371.5 459.0,371.5 460.7,371.5 462.4,371.5 464.1,371.5 465.8,371.5 467.5,371.5 469.2,371.5 470.9,371.5 472.6,371.5 474.3,371.5 476.0,371.5 477.6,371.5 479.3,371.5 481.0,371.5 482.7,371.5 484.4,371.5 486.1,371.5 487.8,371.5 489.5,371.5 491.2,371.5 492.9,371.5 494.6,371.5 496.3,371.5 498.0,371.5 499.7,371.5 501.4,371.5 503.1,371.5 504.7,371.5 506.4,371.5 508.1,371.5 509.8,371.5 511.5,371.5 513.2,371.5 514.9,371.5 516.6,371.5 518.3,371.5 520.0,371.5 521.7,371.5 523.4,371.5 525.1,371.5 526.8,371.5 528.5,371.5 530.2,371.5 531.8,371.5 533.5,371.5 535.2,371.5 536.9,371.5 538.6,371.5 540.3,371.5 542.0,371.5 543.7,371.5 545.4,371.5 547.1,371.5 548.8,371.5 550.5,371.5 552.2,371.5 553.9,371.5 555.6,371.5 557.3,371.5 559.0,371.5 560.6,371.5 562.3,371.5 564.0,371.5 565.7,371.5 567.4,371.5 569.1,371.5 570.8,371.5 572.5,371.5 574.2,371.5 575.9,371.5 577.6,371.5 579.3,371.5 581.0,371.5 582.7,371.5 584.4,371.5 586.1,371.5 587.7,371.5 589.4,371.5 591.1,371.5 592.8,371.5 594.5,371.5 596.2,371.5 597.9,371.5 599.6,371.5 601.3,371.5 603.0,371.5 604.7,371.5 606.4,371.5 608.1,371.5 609.8,371.5 611.5,371.5 613.2,371.5 614.8,371.5 616.5,371.5 618.2,371.5 619.9,371.5 621.6,371.5 623.3,371.5 625.0,371.5 626.7,371.5 628.4,371.5 630.1,371.5 631.8,371.5 633.5,371.5 635.2,371.5 636.9,371.5 638.6,371.5 640.3,371.5 641.9,371.5 643.6,371.5 645.3,371.5 647.0,371.5 648.7,371.5 650.4,371.5 652.1,371.5 653.8,371.5 655.5,371.5 657.2,371.5 658.9,371.5 660.6,371.5 662.3,371.5 664.0,371.5 665.7,371.5 667.4,371.5 669.0,371.5" stroke="#56d3db"/>
<path d="M59.3,371.5 61.0,371.5 62.7,371.5 64.4,371.5 66.0,371.5 67.7,371.5 69.4,371.5 71.1,371.5 72.8,371.5 74.5,371.5 76.2,371.5 77.9,371.5 79.6,371.5 81.3,371.5 83.0,371.5 84.7,371.5 86.4,371.5 88.1,371.5 89.8,371.5 91.5,371.5 93.1,371.5 94.8,371.5 96.5,371.5 98.2,371.5 99.9,371.5 101.6,371.5 103.3,371.5 105.0,371.5 106.7,371.5 108.4,371.5 110.1,371.5 111.8,371.5 113.5,371.4 115.2,371.4 116.9,371.4 118.6,371.4 120.2,371.4 121.9,371.3 123.6,371.3 125.3,371.2 127.0,371.2 128.7,371.1 130.4,371.0 132.1,370.9 133.8,370.8 135.5,370.7 137.2,370.5 138.9,370.3 140.6,370.1 142.3,369.9 144.0,369.6 145.7,369.3 147.3,368.9 149.0,368.5 150.7,368.1 152.4,367.6 154.1,367.0 155.8,366.4 157.5,365.8 159.2,365.0 160.9,364.2 162.6,363.4 164.3,362.5 166.0,361.6 167.7,360.5 169.4,359.5 171.1,358.4 172.8,357.3 174.5,356.1 176.1,354.9 177.8,353.7 179.5,352.5 181.2,351.3 182.9,350.1 184.6,349.0 186.3,347.9 188.0,346.8 189.7,345.8 191.4,344.9 193.1,344.1 194.8,343.4 196.5,342.7 198.2,342.2 199.9,341.7 201.6,341.3 203.2,341.0 204.9,340.7 206.6,340.5 208.3,340.3 210.0,340.0 211.7,339.6 213.4,339.1 215.1,338.4 216.8,337.4 218.5,336.1 220.2,334.3 221.9,331.9 223.6,329.0 225.3,325.3 227.0,320.9 228.7,315.6 230.3,309.4 232.0,302.3 233.7,294.4 235.4,285.6 237.1,276.0 238.8,265.7 240.5,255.0 242.2,243.9 243.9,232.8 245.6,221.8 247.3,211.3 249.0,201.5 250.7,192.7 252.4,185.1 254.1,179.1 255.8,174.7 257.4,172.1 259.1,171.5 260.8,173.0 262.5,176.9 264.2,183.0 265.9,191.1 267.6,201.0 269.3,212.3 271.0,224.6 272.7,237.6 274.4,251.0 276.1,264.3 277.8,277.4 279.5,289.8 281.2,301.5 282.9,312.2 284.5,321.9 286.2,330.6 287.9,338.1 289.6,344.6 291.3,350.1 293.0,354.7 294.7,358.4 296.4,361.5 298.1,363.9 299.8,365.8 301.5,367.3 303.2,368.4 304.9,369.3 306.6,369.9 308.3,370.4 310.0,370.7 311.7,371.0 313.3,371.1 315.0,371.3 316.7,371.3 318.4,371.4 320.1,371.4 321.8,371.5 323.5,371.5 325.2,371.5 326.9,371.5 328.6,371.5 330.3,371.5 332.0,371.5 333.7,371.5 335.4,371.5 337.1,371.5 338.8,371.5 340.4,371.5 342.1,371.5 343.8,371.5 345.5,371.5 347.2,371.5 348.9,371.5 350.6,371.5 352.3,371.5 354.0,371.5 355.7,371.5 357.4,371.5 359.1,371.5 360.8,371.5 362.5,371.5 364.2,371.5 365.9,371.5 367.5,371.5 369.2,371.5 370.9,371.5 372.6,371.5 374.3,371.5 376.0,371.5 377.7,371.5 379.4,371.5 381.1,371.5 382.8,371.5 384.5,371.5 386.2,371.5 387.9,371.5 389.6,371.5 391.3,371.5 393.0,371.5 394.6,371.5 396.3,371.5 398.0,371.5 399.7,371.5 401.4,371.5 403.1,371.5 404.8,371.5 406.5,371.5 408.2,371.5 409.9,371.5 411.6,371.5 413.3,371.5 415.0,371.5 416.7,371.5 418.4,371.5 420.1,371.5 421.8,371.5 423.4,371.5 425.1,371.5 426.8,371.5 428.5,371.5 430.2,371.5 431.9,371.5 433.6,371.5 435.3,371.5 437.0,371.5 438.7,371.5 440.4,371.5 442.1,371.5 443.8,371.5 445.5,371.5 447.2,371.5 448.9,371.5 450.5,371.5 452.2,371.5 453.9,371.5 455.6,371.5 457.3,371.5 459.0,371.5 460.7,371.5 462.4,371.5 464.1,371.5 465.8,371.5 467.5,371.5 469.2,371.5 470.9,371.5 472.6,371.5 474.3,371.5 476.0,371.5 477.6,371.5 479.3,371.5 481.0,371.5 482.7,371.5 484.4,371.5 486.1,371.5 487.8,371.5 489.5,371.5 491.2,371.5 492.9,371.5 494.6,371.5 496.3,371.5 498.0,371.5 499.7,371.5 501.4,371.5 503.1,371.5 504.7,371.5 506.4,371.5 508.1,371.5 509.8,371.5 511.5,371.5 513.2,371.5 514.9,371.5 516.6,371.5 518.3,371.5 520.0,371.5 521.7,371.5 523.4,371.5 525.1,371.5 526.8,371.5 528.5,371.5 530.2,371.5 531.8,371.5 533.5,371.5 535.2,371.5 536.9,371.5 538.6,371.5 540.3,371.5 542.0,371.5 543.7,371.5 545.4,371.5 547.1,371.5 548.8,371.5 550.5,371.5 552.2,371.5 553.9,371.5 555.6,371.5 557.3,371.5 559.0,371.5 560.6,371.5 562.3,371.5 564.0,371.5 565.7,371.5 567.4,371.5 569.1,371.5 570.8,371.5 572.5,371.5 574.2,371.5 575.9,371.5 577.6,371.5 579.3,371.5 581.0,371.5 582.7,371.5 584.4,371.5 586.1,371.5 587.7,371.5 589.4,371.5 591.1,371.5 592.8,371.5 594.5,371.5 596.2,371.5 597.9,371.5 599.6,371.5 601.3,371.5 603.0,371.5 604.7,371.5 606.4,371.5 608.1,371.5 609.8,371.5 611.5,371.5 613.2,371.5 614.8,371.5 616.5,371.5 618.2,371.5 619.9,371.5 621.6,371.5 623.3,371.5 625.0,371.5 626.7,371.5 628.4,371.5 630.1,371.5 631.8,371.5 633.5,371.5 635.2,371.5 636.9,371.5 638.6,371.5 640.3,371.5 641.9,371.5 643.6,371.5 645.3,371.5 647.0,371.5 648.7,371.5 650.4,371.5 652.1,371.5 653.8,371.5 655.5,371.5 657.2,371.5 658.9,371.5 660.6,371.5 662.3,371.5 664.0,371.5 665.7,371.5 667.4,371.5 669.0,371.5" stroke="#56b8db"/>
<path d="M59.3,371.5 61.0,371.5 62.7,371.5 64.4,371.5 66.0,371.5 67.7,371.5 69.4,371.5 71.1,371.5 72.8,371.5 74.5,371.5 76.2,371.5 77.9,371.5 79.6,371.5 81.3,371.5 83.0,371.5 84.7,371.5 86.4,371.5 88.1,371.5 89.8,371.5 91.5,371.5 93.1,371.5 94.8,371.5 96.5,371.5 98.2,371.5 99.9,371.5 101.6,371.5 103.3,371.5 105.0,371.5 106.7,371.5 108.4,371.4 110.1,371.4 111.8,371.4 113.5,371.4 115.2,371.4 116.9,371.3 118.6,371.3 120.2,371.2 121.9,371.2 123.6,371.1 125.3,371.0 127.0,370.9 128.7,370.8 130.4,370.6 132.1,370.4 133.8,370.2 135.5,370.0 137.2,369.7 138.9,369.4 140.6,369.0 142.3,368.6 144.0,368.1 145.7,367.5 147.3,366.9 149.0,366.2 150.7,365.4 152.4,364.6 154.1,363.7 155.8,362.6 157.5,361.5 159.2,360.3 160.9,359.1 162.6,357.7 164.3,356.2 166.0,354.7 167.7,353.1 169.4,351.4 171.1,349.7 172.8,347.9 174.5,346.1 176.1,344.3 177.8,342.5 179.5,340.6 181.2,338.8 182.9,337.1 184.6,335.4 186.3,333.7 188.0,332.2 189.7,330.7 191.4,329.3 193.1,328.1 194.8,327.0 196.5,325.9 198.2,325.0 199.9,324.2 201.6,323.5 203.2,322.9 204.9,322.3 206.6,321.8 208.3,321.2 210.0,320.7 211.7,320.1 213.4,319.4 215.1,318.6 216.8,317.6 218.5,316.5 220.2,315.1 221.9,313.4 223.6,311.5 225.3,309.2 227.0,306.6 228.7,303.7 230.3,300.5 232.0,297.0 233.7,293.1 235.4,289.0 237.1,284.6 238.8,280.0 240.5,275.4 242.2,270.6 243.9,265.9 245.6,261.2 247.3,256.7 249.0,252.4 250.7,248.4 252.4,244.9 254.1,241.8 255.8,239.2 257.4,237.2 259.1,235.9 260.8,235.2 262.5,235.3 264.2,235.9 265.9,237.0 267.6,238.5 269.3,240.5 271.0,242.9 272.7,245.8 274.4,249.0 276.1,252.5 277.8,256.4 279.5,260.6 281.2,265.0 282.9,269.6 284.5,274.4 286.2,279.3 287.9,284.3 289.6,289.3 291.3,294.3 293.0,299.3 294.7,304.2 296.4,309.1 298.1,313.8 299.8,318.3 301.5,322.7 303.2,326.9 304.9,330.8 306.6,334.6 308.3,338.2 310.0,341.5 311.7,344.6 313.3,347.4 315.0,350.1 316.7,352.5 318.4,354.7 320.1,356.7 321.8,358.5 323.5,360.2 325.2,361.6 326.9,363.0 328.6,364.1 330.3,365.2 332.0,366.1 333.7,366.9 335.4,367.6 337.1,368.2 338.8,368.7 340.4,369.1 342.1,369.5 343.8,369.8 345.5,370.1 347.2,370.4 348.9,370.6 350.6,370.7 352.3,370.9 354.0,371.0 355.7,371.1 357.4,371.2 359.1,371.2 360.8,371.3 362.5,371.3 364.2,371.4 365.9,371.4 367.5,371.4 369.2,371.4 370.9,371.4 372.6,371.5 374.3,371.5 376.0,371.5 377.7,371.5 379.4,371.5 381.1,371.5 382.8,371.5 384.5,371.5 386.2,371.5 387.9,371.5 389.6,371.5 391.3,371.5 393.0,371.5 394.6,371.5 396.3,371.5 398.0,371.5 399.7,371.5 401.4,371.5 403.1,371.5 404.8,371.5 406.5,371.5 408.2,371.5 409.9,371.5 411.6,371.5 413.3,371.5 415.0,371.5 416.7,371.5 418.4,371.5 420.1,371.5 421.8,371.5 423.4,371.5 425.1,371.5 426.8,371.5 428.5,371.5 430.2,371.5 431.9,371.5 433.6,371.5 435.3,371.5 437.0,371.5 438.7,371.5 440.4,371.5 442.1,371.5 443.8,371.5 445.5,371.5 447.2,371.5 448.9,371.5 450.5,371.5 452.2,371.5 453.9,371.5 455.6,371.5 457.3,371.5 459.0,371.5 460.7,371.5 462.4,371.5 464.1,371.5 465.8,371.5 467.5,371.5 469.2,371.5 470.9,371.5 472.6,371.5 474.3,371.5 476.0,371.5 477.6,371.5 479.3,371.5 481.0,371.5 482.7,371.5 484.4,371.5 486.1,371.5 487.8,371.5 489.5,371.5 491.2,371.5 492.9,371.5 494.6,371.5 496.3,371.5 498.0,371.5 499.7,371.5 501.4,371.5 503.1,371.5 504.7,371.5 506.4,371.5 508.1,371.5 509.8,371.5 511.5,371.5 513.2,371.5 514.9,371.5 516.6,371.5 518.3,371.5 520.0,371.5 521.7,371.5 523.4,371.5 525.1,371.5 526.8,371.5 528.5,371.5 530.2,371.5 531.8,371.5 533.5,371.5 535.2,371.5 536.9,371.5 538.6,371.5 540.3,371.5 542.0,371.5 543.7,371.5 545.4,371.5 547.1,371.5 548.8,371.5 550.5,371.5 552.2,371.5 553.9,371.5 555.6,371.5 557.3,371.5 559.0,371.5 560.6,371.5 562.3,371.5 564.0,371.5 565.7,371.5 567.4,371.5 569.1,371.5 570.8,371.5 572.5,371.5 574.2,371.5 575.9,371.5 577.6,371.5 579.3,371.5 581.0,371.5 582.7,371.5 584.4,371.5 586.1,371.5 587.7,371.5 589.4,371.5 591.1,371.5 592.8,371.5 594.5,371.5 596.2,371.5 597.9,371.5 599.6,371.5 601.3,371.5 603.0,371.5 604.7,371.5 606.4,371.5 608.1,371.5 609.8,371.5 611.5,371.5 613.2,371.5 614.8,371.5 616.5,371.5 618.2,371.5 619.9,371.5 621.6,371.5 623.3,371.5 625.0,371.5 626.7,371.5 628.4,371.5 630.1,371.5 631.8,371.5 633.5,371.5 635.2,371.5 636.9,371.5 638.6,371.5 640.3,371.5 641.9,371.5 643.6,371.5 645.3,371.5 647.0,371.5 648.7,371.5 650.4,371.5 652.1,371.5 653.8,371.5 655.5,371.5 657.2,371.5 658.9,371.5 660.6,371.5 662.3,371.5 664.0,371.5 665.7,371.5 667.4,371.5 669.0,371.5" stroke="#569edb"/>
<path d="M59.3,371.5 61.0,371.5 62.7,371.5 64.4,371.5 66.0,371.5 67.7,371.5 69.4,371.5 71.1,371.5 72.8,371.5 74.5,371.5 76.2,371.5 77.9,371.5 79.6,371.5 81.3,371.5 83.0,371.5 84.7,371.5 86.4,371.5 88.1,371.5 89.8,371.5 91.5,371.5 93.1,371.5 94.8,371.5 96.5,371.5 98.2,371.5 99.9,371.5 101.6,371.5 103.3,371.5 105.0,371.5 106.7,371.5 108.4,371.5 110.1,371.4 111.8,371.4 113.5,371.4 115.2,371.4 116.9,371.4 118.6,371.3 120.2,371.3 121.9,371.2 123.6,371.2 125.3,371.1 127.0,371.0 128.7,370.9 130.4,370.8 132.1,370.7 133.8,370.5 135.5,370.3 137.2,370.1 138.9,369.9 140.6,369.6 142.3,369.3 144.0,369.0 145.7,368.6 147.3,368.1 149.0,367.7 150.7,367.1 152.4,366.5 154.1,365.9 155.8,365.2 157.5,364.5 159.2,363.7 160.9,362.8 162.6,361.9 164.3,360.9 166.0,359.9 167.7,358.9 169.4,357.8 171.1,356.7 172.8,355.6 174.5,354.5 176.1,353.4 177.8,352.3 179.5,351.2 181.2,350.2 182.9,349.2 184.6,348.2 186.3,347.3 188.0,346.5 189.7,345.8 191.4,345.2 193.1,344.7 194.8,344.2 196.5,343.9 198.2,343.7 199.9,343.6 201.6,343.5 203.2,343.5 204.9,343.6 206.6,343.7 208.3,343.7 210.0,343.8 211.7,343.7 213.4,343.4 215.1,343.0 216.8,342.2 218.5,341.0 220.2,339.4 221.9,337.2 223.6,334.3 225.3,330.7 227.0,326.2 228.7,320.8 230.3,314.4 232.0,306.9 233.7,298.4 235.4,288.9 237.1,278.4 238.8,267.0 240.5,254.9 242.2,242.3 243.9,229.4 245.6,216.4 247.3,203.7 249.0,191.6 250.7,180.3 252.4,170.2 254.1,161.6 255.8,154.8 257.4,149.9 259.1,147.1 260.8,146.5 262.5,148.6 264.2,153.6 265.9,161.2 267.6,171.2 269.3,183.2 271.0,196.8 272.7,211.5 274.4,226.9 276.1,242.5 277.8,257.9 279.5,272.9 281.2,286.9 282.9,299.9 284.5,311.7 286.2,322.3 287.9,331.4 289.6,339.4 291.3,346.0 293.0,351.6 294.7,356.1 296.4,359.8 298.1,362.7 299.8,365.0 301.5,366.7 303.2,368.1 304.9,369.0 306.6,369.8 308.3,370.3 310.0,370.7 311.7,370.9 313.3,371.1 315.0,371.3 316.7,371.3 318.4,371.4 320.1,371.4 321.8,371.5 323.5,371.5 325.2,371.5 326.9,371.5 328.6,371.5 330.3,371.5 332.0,371.5 333.7,371.5 335.4,371.5 337.1,371.5 338.8,371.5 340.4,371.5 342.1,371.5 343.8,371.5 345.5,371.5 347.2,371.5 348.9,371.5 350.6,371.5 352.3,371.5 354.0,371.5 355.7,371.5 357.4,371.5 359.1,371.5 360.8,371.5 362.5,371.5 364.2,371.5 365.9,371.5 367.5,371.5 369.2,371.5 370.9,371.5 372.6,371.5 374.3,371.5 376.0,371.5 377.7,371.5 379.4,371.5 381.1,371.5 382.8,371.5 384.5,371.5 386.2,371.5 387.9,371.5 389.6,371.5 391.3,371.5 393.0,371.5 394.6,371.5 396.3,371.5 398.0,371.5 399.7,371.5 401.4,371.5 403.1,371.5 404.8,371.5 406.5,371.5 408.2,371.5 409.9,371.5 411.6,371.5 413.3,371.5 415.0,371.5 416.7,371.5 418.4,371.5 420.1,371.5 421.8,371.5 423.4,371.5 425.1,371.5 426.8,371.5 428.5,371.5 430.2,371.5 431.9,371.5 433.6,371.5 435.3,371.5 437.0,371.5 438.7,371.5 440.4,371.5 442.1,371.5 443.8,371.5 445.5,371.5 447.2,371.5 448.9,371.5 450.5,371.5 452.2,371.5 453.9,371.5 455.6,371.5 457.3,371.5 459.0,371.5 460.7,371.5 462.4,371.5 464.1,371.5 465.8,371.5 467.5,371.5 469.2,371.5 470.9,371.5 472.6,371.5 474.3,371.5 476.0,371.5 477.6,371.5 479.3,371.5 481.0,371.5 482.7,371.5 484.4,371.5 486.1,371.5 487.8,371.5 489.5,371.5 491.2,371.5 492.9,371.5 494.6,371.5 496.3,371.5 498.0,371.5 499.7,371.5 501.4,371.5 503.1,371.5 504.7,371.5 506.4,371.5 508.1,371.5 509.8,371.5 511.5,371.5 513.2,371.5 514.9,371.5 516.6,371.5 518.3,371.5 520.0,371.5 521.7,371.5 523.4,371.5 525.1,371.5 526.8,371.5 528.5,371.5 530.2,371.5 531.8,371.5 533.5,371.5 535.2,371.5 536.9,371.5 538.6,371.5 540.3,371.5 542.0,371.5 543.7,371.5 545.4,371.5 547.1,371.5 548.8,371.5 550.5,371.5 552.2,371.5 553.9,371.5 555.6,371.5 557.3,371.5 559.0,371.5 560.6,371.5 562.3,371.5 564.0,371.5 565.7,371.5 567.4,371.5 569.1,371.5 570.8,371.5 572.5,371.5 574.2,371.5 575.9,371.5 577.6,371.5 579.3,371.5 581.0,371.5 582.7,371.5 584.4,371.5 586.1,371.5 587.7,371.5 589.4,371.5 591.1,371.5 592.8,371.5 594.5,371.5 596.2,371.5 597.9,371.5 599.6,371.5 601.3,371.5 603.0,371.5 604.7,371.5 606.4,371.5 608.1,371.5 609.8,371.5 611.5,371.5 613.2,371.5 614.8,371.5 616.5,371.5 618.2,371.5 619.9,371.5 621.6,371.5 623.3,371.5 625.0,371.5 626.7,371.5 628.4,371.5 630.1,371.5 631.8,371.5 633.5,371.5 635.2,371.5 636.9,371.5 638.6,371.5 640.3,371.5 641.9,371.5 643.6,371.5 645.3,371.5 647.0,371.5 648.7,371.5 650.4,371.5 652.1,371.5 653.8,371.5 655.5,371.5 657.2,371.5 658.9,371.5 660.6,371.5 662.3,371.5 664.0,371.5 665.7,371.5 667.4,371.5 669.0,371.5" stroke="#5683db"/>
<path d="M59.3,371.5 61.0,371.5 62.7,371.5 64.4,371.5 66.0,371.5 67.7,371.5 69.4,371.5 71.1,371.5 72.8,371.5 74.5,371.5 76.2,371.5 77.9,371.5 79.6,371.4 81.3,371.4 83.0,371.4 84.7,371.4 86.4,371.4 88.1,371.3 89.8,371.3 91.5,371.3 93.1,371.2 94.8,371.2 96.5,371.1 98.2,371.0 99.9,370.9 101.6,370.8 103.3,370.7 105.0,370.5 106.7,370.3 108.4,370.1 110.1,369.8 111.8,369.6 113.5,369.2 115.2,368.9 116.9,368.5 118.6,368.0 120.2,367.5 121.9,366.9 123.6,366.2 125.3,365.5 127.0,364.6 128.7,363.8 130.4,362.8 132.1,361.7 133.8,360.5 135.5,359.3 137.2,357.9 138.9,356.4 140.6,354.9 142.3,353.2 144.0,351.5 145.7,349.6 147.3,347.7 149.0,345.6 150.7,343.5 152.4,341.4 154.1,339.1 155.8,336.9 157.5,334.5 159.2,332.2 160.9,329.8 162.6,327.5 164.3,325.1 166.0,322.8 167.7,320.5 169.4,318.3 171.1,316.2 172.8,314.1 174.5,312.2 176.1,310.3 177.8,308.6 179.5,307.0 181.2,305.5 182.9,304.2 184.6,303.0 186.3,301.9 188.0,301.0 189.7,300.2 191.4,299.5 193.1,298.9 194.8,298.4 196.5,297.9 198.2,297.6 199.9,297.3 201.6,297.0 203.2,296.8 204.9,296.7 206.6,296.6 208.3,296.5 210.0,296.4 211.7,296.2 213.4,296.1 215.1,296.0 216.8,295.8 218.5,295.7 220.2,295.5 221.9,295.2 223.6,294.9 225.3,294.6 227.0,294.3 228.7,293.9 230.3,293.5 232.0,293.1 233.7,292.7 235.4,292.3 237.1,291.9 238.8,291.5 240.5,291.1 242.2,290.8 243.9,290.5 245.6,290.3 247.3,290.1 249.0,290.1 250.7,290.1 252.4,290.2 254.1,290.4 255.8,290.7 257.4,291.1 259.1,291.6 260.8,292.2 262.5,292.8 264.2,293.4 265.9,294.0 267.6,294.7 269.3,295.5 271.0,296.3 272.7,297.1 274.4,298.0 276.1,299.0 277.8,300.0 279.5,301.0 281.2,302.1 282.9,303.2 284.5,304.4 286.2,305.6 287.9,306.9 289.6,308.1 291.3,309.5 293.0,310.8 294.7,312.2 296.4,313.6 298.1,315.0 299.8,316.5 301.5,317.9 303.2,319.4 304.9,320.8 306.6,322.3 308.3,323.8 310.0,325.3 311.7,326.7 313.3,328.2 315.0,329.6 316.7,331.1 318.4,332.5 320.1,333.9 321.8,335.2 323.5,336.6 325.2,337.9 326.9,339.2 328.6,340.5 330.3,341.7 332.0,342.9 333.7,344.1 335.4,345.2 337.1,346.3 338.8,347.4 340.4,348.4 342.1,349.4 343.8,350.3 345.5,351.3 347.2,352.2 348.9,353.0 350.6,353.8 352.3,354.6 354.0,355.4 355.7,356.1 357.4,356.8 359.1,357.4 360.8,358.1 362.5,358.7 364.2,359.2 365.9,359.8 367.5,360.3 369.2,360.8 370.9,361.3 372.6,361.7 374.3,362.1 376.0,362.5 377.7,362.9 379.4,363.3 381.1,363.6 382.8,364.0 384.5,364.3 386.2,364.6 387.9,364.9 389.6,365.2 391.3,365.4 393.0,365.7 394.6,365.9 396.3,366.2 398.0,366.4 399.7,366.6 401.4,366.8 403.1,367.0 404.8,367.2 406.5,367.4 408.2,367.6 409.9,367.7 411.6,367.9 413.3,368.1 415.0,368.2 416.7,368.4 418.4,368.5 420.1,368.6 421.8,368.8 423.4,368.9 425.1,369.0 426.8,369.2 428.5,369.3 430.2,369.4 431.9,369.5 433.6,369.6 435.3,369.7 437.0,369.8 438.7,369.9 440.4,370.0 442.1,370.1 443.8,370.2 445.5,370.2 447.2,370.3 448.9,370.4 450.5,370.5 452.2,370.5 453.9,370.6 455.6,370.6 457.3,370.7 459.0,370.8 460.7,370.8 462.4,370.9 464.1,370.9 465.8,370.9 467.5,371.0 469.2,371.0 470.9,371.1 472.6,371.1 474.3,371.1 476.0,371.2 477.6,371.2 479.3,371.2 481.0,371.2 482.7,371.3 484.4,371.3 486.1,371.3 487.8,371.3 489.5,371.3 491.2,371.3 492.9,371.4 494.6,371.4 496.3,371.4 498.0,371.4 499.7,371.4 501.4,371.4 503.1,371.4 504.7,371.4 506.4,371.4 508.1,371.4 509.8,371.5 511.5,371.5 513.2,371.5 514.9,371.5 516.6,371.5 518.3,371.5 520.0,371.5 521.7,371.5 523.4,371.5 525.1,371.5 526.8,371.5 528.5,371.5 530.2,371.5 531.8,371.5 533.5,371.5 535.2,371.5 536.9,371.5 538.6,371.5 540.3,371.5 542.0,371.5 543.7,371.5 545.4,371.5 547.1,371.5 548.8,371.5 550.5,371.5 552.2,371.5 553.9,371.5 555.6,371.5 557.3,371.5 559.0,371.5 560.6,371.5 562.3,371.5 564.0,371.5 565.7,371.5 567.4,371.5 569.1,371.5 570.8,371.5 572.5,371.5 574.2,371.5 575.9,371.5 577.6,371.5 579.3,371.5 581.0,371.5 582.7,371.5 584.4,371.5 586.1,371.5 587.7,371.5 589.4,371.5 591.1,371.5 592.8,371.5 594.5,371.5 596.2,371.5 597.9,371.5 599.6,371.5 601.3,371.5 603.0,371.5 604.7,371.5 606.4,371.5 608.1,371.5 609.8,371.5 611.5,371.5 613.2,371.5 614.8,371.5 616.5,371.5 618.2,371.5 619.9,371.5 621.6,371.5 623.3,371.5 625.0,371.5 626.7,371.5 628.4,371.5 630.1,371.5 631.8,371.5 633.5,371.5 635.2,371.5 636.9,371.5 638.6,371.5 640.3,371.5 641.9,371.5 643.6,371.5 645.3,371.5 647.0,371.5 648.7,371.5 650.4,371.5 652.1,371.5 653.8,371.5 655.5,371.5 657.2,371.5 658.9,371.5 660.6,371.5 662.3,371.5 664.0,371.5 665.7,371.5 667.4,371.5 669.0,371.5" stroke="#5669db"/>
<path d="M59.3,371.5 61.0,371.5 62.7,371.5 64.4,371.5 66.0,371.5 67.7,371.5 69.4,371.5 71.1,371.5 72.8,371.5 74.5,371.5 76.2,371.5 77.9,371.5 79.6,371.5 81.3,371.5 83.0,371.5 84.7,371.5 86.4,371.5 88.1,371.5 89.8,371.5 91.5,371.5 93.1,371.5 94.8,371.5 96.5,371.5 98.2,371.5 99.9,371.5 101.6,371.5 103.3,371.5 105.0,371.5 106.7,371.5 108.4,371.5 110.1,371.5 111.8,371.5 113.5,371.5 115.2,371.5 116.9,371.5 118.6,371.4 120.2,371.4 121.9,371.4 123.6,371.3 125.3,371.3 127.0,371.2 128.7,371.1 130.4,371.0 132.1,370.8 133.8,370.6 135.5,370.3 137.2,370.0 138.9,369.5 140.6,369.0 142.3,368.4 144.0,367.6 145.7,366.7 147.3,365.5 149.0,364.2 150.7,362.6 152.4,360.8 154.1,358.7 155.8,356.2 157.5,353.4 159.2,350.3 160.9,346.8 162.6,342.9 164.3,338.6 166.0,333.9 167.7,328.8 169.4,323.5 171.1,317.8 172.8,311.8 174.5,305.7 176.1,299.4 177.8,293.0 179.5,286.7 181.2,280.5 182.9,274.4 184.6,268.7 186.3,263.3 188.0,258.4 189.7,254.0 191.4,250.1 193.1,246.9 194.8,244.3 196.5,242.3 198.2,240.9 199.9,239.8 201.6,238.9 203.2,238.2 204.9,237.6 206.6,236.9 208.3,236.2 210.0,235.3 211.7,234.2 213.4,232.9 215.1,231.2 216.8,229.3 218.5,227.1 220.2,224.6 221.9,222.0 223.6,219.4 225.3,216.8 227.0,214.4 228.7,212.5 230.3,211.0 232.0,210.2 233.7,210.3 235.4,211.3 237.1,213.3 238.8,216.4 240.5,220.2 242.2,224.5 243.9,229.3 245.6,234.4 247.3,240.0 249.0,245.9 250.7,252.2 252.4,258.6 254.1,265.3 255.8,272.0 257.4,278.8 259.1,285.6 260.8,292.4 262.5,299.0 264.2,305.4 265.9,311.5 267.6,317.4 269.3,323.0 271.0,328.3 272.7,333.2 274.4,337.7 276.1,341.9 277.8,345.7 279.5,349.2 281.2,352.3 282.9,355.0 284.5,357.5 286.2,359.6 287.9,361.5 289.6,363.2 291.3,364.6 293.0,365.8 294.7,366.8 296.4,367.7 298.1,368.4 299.8,369.0 301.5,369.5 303.2,369.9 304.9,370.2 306.6,370.5 308.3,370.7 310.0,370.9 311.7,371.0 313.3,371.1 315.0,371.2 316.7,371.3 318.4,371.3 320.1,371.4 321.8,371.4 323.5,371.4 325.2,371.5 326.9,371.5 328.6,371.5 330.3,371.5 332.0,371.5 333.7,371.5 335.4,371.5 337.1,371.5 338.8,371.5 340.4,371.5 342.1,371.5 343.8,371.5 345.5,371.5 347.2,371.5 348.9,371.5 350.6,371.5 352.3,371.5 354.0,371.5 355.7,371.5 357.4,371.5 359.1,371.5 360.8,371.5 362.5,371.5 364.2,371.5 365.9,371.5 367.5,371.5 369.2,371.5 370.9,371.5 372.6,371.5 374.3,371.5 376.0,371.5 377.7,371.5 379.4,371.5 381.1,371.5 382.8,371.5 384.5,371.5 386.2,371.5 387.9,371.5 389.6,371.5 391.3,371.5 393.0,371.5 394.6,371.5 396.3,371.5 398.0,371.5 399.7,371.5 401.4,371.5 403.1,371.5 404.8,371.5 406.5,371.5 408.2,371.5 409.9,371.5 411.6,371.5 413.3,371.5 415.0,371.5 416.7,371.5 418.4,371.5 420.1,371.5 421.8,371.5 423.4,371.5 425.1,371.5 426.8,371.5 428.5,371.5 430.2,371.5 431.9,371.5 433.6,371.5 435.3,371.5 437.0,371.5 438.7,371.5 440.4,371.5 442.1,371.5 443.8,371.5 445.5,371.5 447.2,371.5 448.9,371.5 450.5,371.5 452.2,371.5 453.9,371.5 455.6,371.5 457.3,371.5 459.0,371.5 460.7,371.5 462.4,371.5 464.1,371.5 465.8,371.5 467.5,371.5 469.2,371.5 470.9,371.5 472.6,371.5 474.3,371.5 476.0,371.5 477.6,371.5 479.3,371.5 481.0,371.5 482.7,371.5 484.4,371.5 486.1,371.5 487.8,371.5 489.5,371.5 491.2,371.5 492.9,371.5 494.6,371.5 496.3,371.5 498.0,371.5 499.7,371.5 501.4,371.5 503.1,371.5 504.7,371.5 506.4,371.5 508.1,371.5 509.8,371.5 511.5,371.5 513.2,371.5 514.9,371.5 516.6,371.5 518.3,371.5 520.0,371.5 521.7,371.5 523.4,371.5 525.1,371.5 526.8,371.5 528.5,371.5 530.2,371.5 531.8,371.5 533.5,371.5 535.2,371.5 536.9,371.5 538.6,371.5 540.3,371.5 542.0,371.5 543.7,371.5 545.4,371.5 547.1,371.5 548.8,371.5 550.5,371.5 552.2,371.5 553.9,371.5 555.6,371.5 557.3,371.5 559.0,371.5 560.6,371.5 562.3,371.5 564.0,371.5 565.7,371.5 567.4,371.5 569.1,371.5 570.8,371.5 572.5,371.5 574.2,371.5 575.9,371.5 577.6,371.5 579.3,371.5 581.0,371.5 582.7,371.5 584.4,371.5 586.1,371.5 587.7,371.5 589.4,371.5 591.1,371.5 592.8,371.5 594.5,371.5 596.2,371.5 597.9,371.5 599.6,371.5 601.3,371.5 603.0,371.5 604.7,371.5 606.4,371.5 608.1,371.5 609.8,371.5 611.5,371.5 613.2,371.5 614.8,371.5 616.5,371.5 618.2,371.5 619.9,371.5 621.6,371.5 623.3,371.5 625.0,371.5 626.7,371.5 628.4,371.5 630.1,371.5 631.8,371.5 633.5,371.5 635.2,371.5 636.9,371.5 638.6,371.5 640.3,371.5 641.9,371.5 643.6,371.5 645.3,371.5 647.0,371.5 648.7,371.5 650.4,371.5 652.1,371.5 653.8,371.5 655.5,371.5 657.2,371.5 658.9,371.5 660.6,371.5 662.3,371.5 664.0,371.5 665.7,371.5 667.4,371.5 669.0,371.5" stroke="#5e56db"/>
<path d="M59.3,371.5 61.0,371.5 62.7,371.5 64.4,371.5 66.0,371.5 67.7,371.5 69.4,371.5 71.1,371.5 72.8,371.5 74.5,371.5 76.2,371.5 77.9,371.5 79.6,371.5 81.3,371.5 83.0,371.5 84.7,371.5 86.4,371.5 88.1,371.5 89.8,371.5 91.5,371.5 93.1,371.5 94.8,371.5 96.5,371.5 98.2,371.5 99.9,371.5 101.6,371.5 103.3,371.5 105.0,371.5 106.7,371.5 108.4,371.5 110.1,371.5 111.8,371.5 113.5,371.4 115.2,371.4 116.9,371.4 118.6,371.4 120.2,371.4 121.9,371.3 123.6,371.3 125.3,371.2 127.0,371.2 128.7,371.1 130.4,371.0 132.1,370.9 133.8,370.8 135.5,370.7 137.2,370.5 138.9,370.4 140.6,370.2 142.3,369.9 144.0,369.7 145.7,369.4 147.3,369.1 149.0,368.7 150.7,368.3 152.4,367.8 154.1,367.4 155.8,366.8 157.5,366.2 159.2,365.6 160.9,364.9 162.6,364.2 164.3,363.4 166.0,362.6 167.7,361.8 169.4,360.9 171.1,360.0 172.8,359.0 174.5,358.1 176.1,357.1 177.8,356.2 179.5,355.2 181.2,354.3 182.9,353.4 184.6,352.5 186.3,351.7 188.0,350.9 189.7,350.1 191.4,349.5 193.1,348.9 194.8,348.3 196.5,347.8 198.2,347.4 199.9,347.0 201.6,346.6 203.2,346.3 204.9,345.9 206.6,345.4 208.3,344.9 210.0,344.2 211.7,343.3 213.4,342.1 215.1,340.5 216.8,338.5 218.5,336.0 220.2,332.8 221.9,328.9 223.6,324.2 225.3,318.6 227.0,312.0 228.7,304.3 230.3,295.5 232.0,285.6 233.7,274.6 235.4,262.4 237.1,249.3 238.8,235.2 240.5,220.4 242.2,205.0 243.9,189.3 245.6,173.6 247.3,158.0 249.0,143.0 250.7,128.8 252.4,115.9 254.1,104.3 255.8,94.6 257.4,86.9 259.1,81.3 260.8,78.2 262.5,77.4 264.2,79.9 265.9,85.8 267.6,95.0 269.3,107.2 271.0,121.9 272.7,138.7 274.4,157.0 276.1,176.3 277.8,196.0 279.5,215.7 281.2,234.9 282.9,253.1 284.5,270.2 286.2,285.9 287.9,300.0 289.6,312.6 291.3,323.5 293.0,332.9 294.7,340.8 296.4,347.4 298.1,352.8 299.8,357.2 301.5,360.7 303.2,363.4 304.9,365.5 306.6,367.2 308.3,368.4 310.0,369.3 311.7,369.9 313.3,370.4 315.0,370.8 316.7,371.0 318.4,371.2 320.1,371.3 321.8,371.4 323.5,371.4 325.2,371.4 326.9,371.5 328.6,371.5 330.3,371.5 332.0,371.5 333.7,371.5 335.4,371.5 337.1,371.5 338.8,371.5 340.4,371.5 342.1,371.5 343.8,371.5 345.5,371.5 347.2,371.5 348.9,371.5 350.6,371.5 352.3,371.5 354.0,371.5 355.7,371.5 357.4,371.5 359.1,371.5 360.8,371.5 362.5,371.5 364.2,371.5 365.9,371.5 367.5,371.5 369.2,371.5 370.9,371.5 372.6,371.5 374.3,371.5 376.0,371.5 377.7,371.5 379.4,371.5 381.1,371.5 382.8,371.5 384.5,371.5 386.2,371.5 387.9,371.5 389.6,371.5 391.3,371.5 393.0,371.5 394.6,371.5 396.3,371.5 398.0,371.5 399.7,371.5 401.4,371.5 403.1,371.5 404.8,371.5 406.5,371.5 408.2,371.5 409.9,371.5 411.6,371.5 413.3,371.5 415.0,371.5 416.7,371.5 418.4,371.5 420.1,371.5 421.8,371.5 423.4,371.5 425.1,371.5 426.8,371.5 428.5,371.5 430.2,371.5 431.9,371.5 433.6,371.5 435.3,371.5 437.0,371.5 438.7,371.5 440.4,371.5 442.1,371.5 443.8,371.5 445.5,371.5 447.2,371.5 448.9,371.5 450.5,371.5 452.2,371.5 453.9,371.5 455.6,371.5 457.3,371.5 459.0,371.5 460.7,371.5 462.4,371.5 464.1,371.5 465.8,371.5 467.5,371.5 469.2,371.5 470.9,371.5 472.6,371.5 474.3,371.5 476.0,371.5 477.6,371.5 479.3,371.5 481.0,371.5 482.7,371.5 484.4,371.5 486.1,371.5 487.8,371.5 489.5,371.5 491.2,371.5 492.9,371.5 494.6,371.5 496.3,371.5 498.0,371.5 499.7,371.5 501.4,371.5 503.1,371.5 504.7,371.5 506.4,371.5 508.1,371.5 509.8,371.5 511.5,371.5 513.2,371.5 514.9,371.5 516.6,371.5 518.3,371.5 520.0,371.5 521.7,371.5 523.4,371.5 525.1,371.5 526.8,371.5 528.5,371.5 530.2,371.5 531.8,371.5 533.5,371.5 535.2,371.5 536.9,371.5 538.6,371.5 540.3,371.5 542.0,371.5 543.7,371.5 545.4,371.5 547.1,371.5 548.8,371.5 550.5,371.5 552.2,371.5 553.9,371.5 555.6,371.5 557.3,371.5 559.0,371.5 560.6,371.5 562.3,371.5 564.0,371.5 565.7,371.5 567.4,371.5 569.1,371.5 570.8,371.5 572.5,371.5 574.2,371.5 575.9,371.5 577.6,371.5 579.3,371.5 581.0,371.5 582.7,371.5 584.4,371.5 586.1,371.5 587.7,371.5 589.4,371.5 591.1,371.5 592.8,371.5 594.5,371.5 596.2,371.5 597.9,371.5 599.6,371.5 601.3,371.5 603.0,371.5 604.7,371.5 606.4,371.5 608.1,371.5 609.8,371.5 611.5,371.5 613.2,371.5 614.8,371.5 616.5,371.5 618.2,371.5 619.9,371.5 621.6,371.5 623.3,371.5 625.0,371.5 626.7,371.5 628.4,371.5 630.1,371.5 631.8,371.5 633.5,371.5 635.2,371.5 636.9,371.5 638.6,371.5 640.3,371.5 641.9,371.5 643.6,371.5 645.3,371.5 647.0,371.5 648.7,371.5 650.4,371.5 652.1,371.5 653.8,371.5 655.5,371.5 657.2,371.5 658.9,371.5 660.6,371.5 662.3,371.5 664.0,371.5 665.7,371.5 667.4,371.5 669.0,371.5" stroke="#7956db"/>
<path d="M59.3,371.5 61.0,371.5 62.7,371.5 64.4,371.5 66.0,371.5 67.7,371.5 69.4,371.5 71.1,371.5 72.8,371.5 74.5,371.5 76.2,371.5 77.9,371.5 79.6,371.5 81.3,371.5 83.0,371.5 84.7,371.5 86.4,371.5 88.1,371.5 89.8,371.5 91.5,371.5 93.1,371.5 94.8,371.5 96.5,371.5 98.2,371.5 99.9,371.5 101.6,371.5 103.3,371.5 105.0,371.5 106.7,371.5 108.4,371.4 110.1,371.4 111.8,371.4 113.5,371.4 115.2,371.3 116.9,371.3 118.6,371.2 120.2,371.1 121.9,371.0 123.6,370.8 125.3,370.6 127.0,370.4 128.7,370.1 130.4,369.8 132.1,369.4 133.8,368.9 135.5,368.3 137.2,367.6 138.9,366.8 140.6,365.9 142.3,364.7 144.0,363.5 145.7,362.0 147.3,360.3 149.0,358.4 150.7,356.3 152.4,353.9 154.1,351.2 155.8,348.3 157.5,345.2 159.2,341.7 160.9,338.0 162.6,334.1 164.3,330.0 166.0,325.6 167.7,321.1 169.4,316.4 171.1,311.7 172.8,306.9 174.5,302.2 176.1,297.5 177.8,292.9 179.5,288.5 181.2,284.4 182.9,280.5 184.6,277.0 186.3,274.0 188.0,271.4 189.7,269.2 191.4,267.6 193.1,266.6 194.8,266.1 196.5,265.8 198.2,265.7 199.9,265.8 201.6,266.0 203.2,266.3 204.9,266.7 206.6,267.2 208.3,267.9 210.0,268.7 211.7,269.5 213.4,270.5 215.1,271.5 216.8,272.6 218.5,273.7 220.2,275.0 221.9,276.2 223.6,277.6 225.3,278.9 227.0,280.3 228.7,281.7 230.3,283.2 232.0,284.6 233.7,286.1 235.4,287.6 237.1,289.1 238.8,290.6 240.5,292.1 242.2,293.7 243.9,295.2 245.6,296.8 247.3,298.4 249.0,300.0 250.7,301.6 252.4,303.2 254.1,304.8 255.8,306.5 257.4,308.2 259.1,309.9 260.8,311.6 262.5,313.4 264.2,315.1 265.9,316.8 267.6,318.5 269.3,320.2 271.0,321.9 272.7,323.5 274.4,325.1 276.1,326.7 277.8,328.3 279.5,329.8 281.2,331.3 282.9,332.8 284.5,334.3 286.2,335.7 287.9,337.1 289.6,338.5 291.3,339.9 293.0,341.2 294.7,342.6 296.4,343.8 298.1,345.1 299.8,346.3 301.5,347.5 303.2,348.7 304.9,349.8 306.6,350.9 308.3,352.0 310.0,353.0 311.7,354.0 313.3,355.0 315.0,356.0 316.7,356.9 318.4,357.7 320.1,358.6 321.8,359.4 323.5,360.2 325.2,360.9 326.9,361.6 328.6,362.3 330.3,362.9 332.0,363.5 333.7,364.1 335.4,364.6 337.1,365.2 338.8,365.6 340.4,366.1 342.1,366.5 343.8,366.9 345.5,367.3 347.2,367.7 348.9,368.0 350.6,368.3 352.3,368.6 354.0,368.8 355.7,369.1 357.4,369.3 359.1,369.5 360.8,369.7 362.5,369.9 364.2,370.0 365.9,370.2 367.5,370.3 369.2,370.4 370.9,370.6 372.6,370.7 374.3,370.7 376.0,370.8 377.7,370.9 379.4,371.0 381.1,371.0 382.8,371.1 384.5,371.1 386.2,371.2 387.9,371.2 389.6,371.2 391.3,371.3 393.0,371.3 394.6,371.3 396.3,371.4 398.0,371.4 399.7,371.4 401.4,371.4 403.1,371.4 404.8,371.4 406.5,371.4 408.2,371.4 409.9,371.5 411.6,371.5 413.3,371.5 415.0,371.5 416.7,371.5 418.4,371.5 420.1,371.5 421.8,371.5 423.4,371.5 425.1,371.5 426.8,371.5 428.5,371.5 430.2,371.5 431.9,371.5 433.6,371.5 435.3,371.5 437.0,371.5 438.7,371.5 440.4,371.5 442.1,371.5 443.8,371.5 445.5,371.5 447.2,371.5 448.9,371.5 450.5,371.5 452.2,371.5 453.9,371.5 455.6,371.5 457.3,371.5 459.0,371.5 460.7,371.5 462.4,371.5 464.1,371.5 465.8,371.5 467.5,371.5 469.2,371.5 470.9,371.5 472.6,371.5 474.3,371.5 476.0,371.5 477.6,371.5 479.3,371.5 481.0,371.5 482.7,371.5 484.4,371.5 486.1,371.5 487.8,371.5 489.5,371.5 491.2,371.5 492.9,371.5 494.6,371.5 496.3,371.5 498.0,371.5 499.7,371.5 501.4,371.5 503.1,371.5 504.7,371.5 506.4,371.5 508.1,371.5 509.8,371.5 511.5,371.5 513.2,371.5 514.9,371.5 516.6,371.5 518.3,371.5 520.0,371.5 521.7,371.5 523.4,371.5 525.1,371.5 526.8,371.5 528.5,371.5 530.2,371.5 531.8,371.5 533.5,371.5 535.2,371.5 536.9,371.5 538.6,371.5 540.3,371.5 542.0,371.5 543.7,371.5 545.4,371.5 547.1,371.5 548.8,371.5 550.5,371.5 552.2,371.5 553.9,371.5 555.6,371.5 557.3,371.5 559.0,371.5 560.6,371.5 562.3,371.5 564.0,371.5 565.7,371.5 567.4,371.5 569.1,371.5 570.8,371.5 572.5,371.5 574.2,371.5 575.9,371.5 577.6,371.5 579.3,371.5 581.0,371.5 582.7,371.5 584.4,371.5 586.1,371.5 587.7,371.5 589.4,371.5 591.1,371.5 592.8,371.5 594.5,371.5 596.2,371.5 597.9,371.5 599.6,371.5 601.3,371.5 603.0,371.5 604.7,371.5 606.4,371.5 608.1,371.5 609.8,371.5 611.5,371.5 613.2,371.5 614.8,371.5 616.5,371.5 618.2,371.5 619.9,371.5 621.6,371.5 623.3,371.5 625.0,371.5 626.7,371.5 628.4,371.5 630.1,371.5 631.8,371.5 633.5,371.5 635.2,371.5 636.9,371.5 638.6,371.5 640.3,371.5 641.9,371.5 643.6,371.5 645.3,371.5 647.0,371.5 648.7,371.5 650.4,371.5 652.1,371.5 653.8,371.5 655.5,371.5 657.2,371.5 658.9,371.5 660.6,371.5 662.3,371.5 664.0,371.5 665.7,371.5 667.4,371.5 669.0,371.5" stroke="#9356db"/>
<path d="M59.3,371.5 61.0,371.5 62.7,371.5 64.4,371.5 66.0,371.5 67.7,371.5 69.4,371.5 71.1,371.5 72.8,371.5 74.5,371.5 76.2,371.5 77.9,371.5 79.6,371.5 81.3,371.5 83.0,371.5 84.7,371.5 86.4,371.5 88.1,371.5 89.8,371.5 91.5,371.5 93.1,371.5 94.8,371.5 96.5,371.5 98.2,371.5 99.9,371.5 101.6,371.5 103.3,371.5 105.0,371.5 106.7,371.5 108.4,371.5 110.1,371.5 111.8,371.5 113.5,371.5 115.2,371.5 116.9,371.5 118.6,371.5 120.2,371.5 121.9,371.4 123.6,371.4 125.3,371.4 127.0,371.4 128.7,371.3 130.4,371.3 132.1,371.2 133.8,371.1 135.5,371.0 137.2,370.9 138.9,370.8 140.6,370.6 142.3,370.4 144.0,370.1 145.7,369.8 147.3,369.4 149.0,369.0 150.7,368.5 152.4,367.9 154.1,367.3 155.8,366.5 157.5,365.7 159.2,364.7 160.9,363.6 162.6,362.4 164.3,361.1 166.0,359.7 167.7,358.1 169.4,356.4 171.1,354.6 172.8,352.7 174.5,350.6 176.1,348.5 177.8,346.3 179.5,344.1 181.2,341.8 182.9,339.6 184.6,337.3 186.3,335.1 188.0,332.9 189.7,330.8 191.4,328.9 193.1,327.0 194.8,325.3 196.5,323.7 198.2,322.3 199.9,321.0 201.6,319.9 203.2,319.0 204.9,318.1 206.6,317.3 208.3,316.6 210.0,315.9 211.7,315.2 213.4,314.3 215.1,313.4 216.8,312.2 218.5,310.9 220.2,309.2 221.9,307.2 223.6,304.9 225.3,302.2 227.0,299.0 228.7,295.5 230.3,291.5 232.0,287.2 233.7,282.6 235.4,277.7 237.1,272.5 238.8,267.3 240.5,262.0 242.2,256.8 243.9,251.8 245.6,247.0 247.3,242.7 249.0,238.9 250.7,235.7 252.4,233.1 254.1,231.4 255.8,230.4 257.4,230.4 259.1,231.1 260.8,232.6 262.5,234.8 264.2,237.7 265.9,241.2 267.6,245.3 269.3,250.0 271.0,255.1 272.7,260.7 274.4,266.5 276.1,272.7 277.8,279.0 279.5,285.3 281.2,291.7 282.9,298.1 284.5,304.3 286.2,310.3 287.9,316.1 289.6,321.7 291.3,326.9 293.0,331.9 294.7,336.4 296.4,340.7 298.1,344.5 299.8,348.1 301.5,351.2 303.2,354.1 304.9,356.6 306.6,358.9 308.3,360.8 310.0,362.5 311.7,364.0 313.3,365.3 315.0,366.4 316.7,367.3 318.4,368.1 320.1,368.7 321.8,369.2 323.5,369.7 325.2,370.1 326.9,370.4 328.6,370.6 330.3,370.8 332.0,370.9 333.7,371.1 335.4,371.2 337.1,371.2 338.8,371.3 340.4,371.4 342.1,371.4 343.8,371.4 345.5,371.4 347.2,371.5 348.9,371.5 350.6,371.5 352.3,371.5 354.0,371.5 355.7,371.5 357.4,371.5 359.1,371.5 360.8,371.5 362.5,371.5 364.2,371.5 365.9,371.5 367.5,371.5 369.2,371.5 370.9,371.5 372.6,371.5 374.3,371.5 376.0,371.5 377.7,371.5 379.4,371.5 381.1,371.5 382.8,371.5 384.5,371.5 386.2,371.5 387.9,371.5 389.6,371.5 391.3,371.5 393.0,371.5 394.6,371.5 396.3,371.5 398.0,371.5 399.7,371.5 401.4,371.5 403.1,371.5 404.8,371.5 406.5,371.5 408.2,371.5 409.9,371.5 411.6,371.5 413.3,371.5 415.0,371.5 416.7,371.5 418.4,371.5 420.1,371.5 421.8,371.5 423.4,371.5 425.1,371.5 426.8,371.5 428.5,371.5 430.2,371.5 431.9,371.5 433.6,371.5 435.3,371.5 437.0,371.5 438.7,371.5 440.4,371.5 442.1,371.5 443.8,371.5 445.5,371.5 447.2,371.5 448.9,371.5 450.5,371.5 452.2,371.5 453.9,371.5 455.6,371.5 457.3,371.5 459.0,371.5 460.7,371.5 462.4,371.5 464.1,371.5 465.8,371.5 467.5,371.5 469.2,371.5 470.9,371.5 472.6,371.5 474.3,371.5 476.0,371.5 477.6,371.5 479.3,371.5 481.0,371.5 482.7,371.5 484.4,371.5 486.1,371.5 487.8,371.5 489.5,371.5 491.2,371.5 492.9,371.5 494.6,371.5 496.3,371.5 498.0,371.5 499.7,371.5 501.4,371.5 503.1,371.5 504.7,371.5 506.4,371.5 508.1,371.5 509.8,371.5 511.5,371.5 513.2,371.5 514.9,371.5 516.6,371.5 518.3,371.5 520.0,371.5 521.7,371.5 523.4,371.5 525.1,371.5 526.8,371.5 528.5,371.5 530.2,371.5 531.8,371.5 533.5,371.5 535.2,371.5 536.9,371.5 538.6,371.5 540.3,371.5 542.0,371.5 543.7,371.5 545.4,371.5 547.1,371.5 548.8,371.5 550.5,371.5 552.2,371.5 553.9,371.5 555.6,371.5 557.3,371.5 559.0,371.5 560.6,371.5 562.3,371.5 564.0,371.5 565.7,371.5 567.4,371.5 569.1,371.5 570.8,371.5 572.5,371.5 574.2,371.5 575.9,371.5 577.6,371.5 579.3,371.5 581.0,371.5 582.7,371.5 584.4,371.5 586.1,371.5 587.7,371.5 589.4,371.5 591.1,371.5 592.8,371.5 594.5,371.5 596.2,371.5 597.9,371.5 599.6,371.5 601.3,371.5 603.0,371.5 604.7,371.5 606.4,371.5 608.1,371.5 609.8,371.5 611.5,371.5 613.2,371.5 614.8,371.5 616.5,371.5 618.2,371.5 619.9,371.5 621.6,371.5 623.3,371.5 625.0,371.5 626.7,371.5 628.4,371.5 630.1,371.5 631.8,371.5 633.5,371.5 635.2,371.5 636.9,371.5 638.6,371.5 640.3,371.5 641.9,371.5 643.6,371.5 645.3,371.5 647.0,371.5 648.7,371.5 650.4,371.5 652.1,371.5 653.8,371.5 655.5,371.5 657.2,371.5 658.9,371.5 660.6,371.5 662.3,371.5 664.0,371.5 665.7,371.5 667.4,371.5 669.0,371.5" stroke="#ae56db"/>
<path d="M59.3,371.5 61.0,371.5 62.7,371.5 64.4,371.5 66.0,371.5 67.7,371.5 69.4,371.5 71.1,371.5 72.8,371.5 74.5,371.5 76.2,371.5 77.9,371.5 79.6,371.5 81.3,371.5 83.0,371.5 84.7,371.5 86.4,371.5 88.1,371.5 89.8,371.5 91.5,371.4 93.1,371.4 94.8,371.4 96.5,371.4 98.2,371.4 99.9,371.3 101.6,371.3 103.3,371.2 105.0,371.1 106.7,371.1 108.4,371.0 110.1,370.8 111.8,370.7 113.5,370.5 115.2,370.3 116.9,370.1 118.6,369.8 120.2,369.4 121.9,369.0 123.6,368.6 125.3,368.0 127.0,367.4 128.7,366.7 130.4,365.8 132.1,364.9 133.8,363.8 135.5,362.6 137.2,361.2 138.9,359.7 140.6,358.0 142.3,356.1 144.0,354.0 145.7,351.6 147.3,349.1 149.0,346.3 150.7,343.3 152.4,340.0 154.1,336.5 155.8,332.8 157.5,328.8 159.2,324.6 160.9,320.2 162.6,315.6 164.3,310.8 166.0,305.8 167.7,300.7 169.4,295.5 171.1,290.2 172.8,284.8 174.5,279.5 176.1,274.2 177.8,269.0 179.5,263.9 181.2,259.1 182.9,254.4 184.6,250.0 186.3,245.9 188.0,242.2 189.7,238.9 191.4,235.9 193.1,233.5 194.8,231.5 196.5,230.1 198.2,229.1 199.9,228.7 201.6,228.8 203.2,229.1 204.9,229.8 206.6,230.7 208.3,231.9 210.0,233.4 211.7,235.2 213.4,237.1 215.1,239.3 216.8,241.7 218.5,244.2 220.2,246.9 221.9,249.7 223.6,252.6 225.3,255.5 227.0,258.6 228.7,261.6 230.3,264.6 232.0,267.6 233.7,270.6 235.4,273.6 237.1,276.4 238.8,279.3 240.5,282.0 242.2,284.7 243.9,287.3 245.6,289.9 247.3,292.4 249.0,294.9 250.7,297.4 252.4,299.8 254.1,302.2 255.8,304.6 257.4,307.1 259.1,309.5 260.8,312.0 262.5,314.6 264.2,317.1 265.9,319.6 267.6,322.0 269.3,324.3 271.0,326.6 272.7,328.8 274.4,331.0 276.1,333.1 277.8,335.1 279.5,337.1 281.2,339.0 282.9,340.9 284.5,342.7 286.2,344.4 287.9,346.1 289.6,347.8 291.3,349.3 293.0,350.8 294.7,352.3 296.4,353.6 298.1,355.0 299.8,356.2 301.5,357.4 303.2,358.5 304.9,359.6 306.6,360.6 308.3,361.6 310.0,362.4 311.7,363.3 313.3,364.0 315.0,364.8 316.7,365.4 318.4,366.0 320.1,366.6 321.8,367.1 323.5,367.6 325.2,368.0 326.9,368.4 328.6,368.8 330.3,369.1 332.0,369.4 333.7,369.6 335.4,369.9 337.1,370.1 338.8,370.3 340.4,370.4 342.1,370.6 343.8,370.7 345.5,370.8 347.2,370.9 348.9,371.0 350.6,371.1 352.3,371.1 354.0,371.2 355.7,371.2 357.4,371.3 359.1,371.3 360.8,371.3 362.5,371.4 364.2,371.4 365.9,371.4 367.5,371.4 369.2,371.4 370.9,371.5 372.6,371.5 374.3,371.5 376.0,371.5 377.7,371.5 379.4,371.5 381.1,371.5 382.8,371.5 384.5,371.5 386.2,371.5 387.9,371.5 389.6,371.5 391.3,371.5 393.0,371.5 394.6,371.5 396.3,371.5 398.0,371.5 399.7,371.5 401.4,371.5 403.1,371.5 404.8,371.5 406.5,371.5 408.2,371.5 409.9,371.5 411.6,371.5 413.3,371.5 415.0,371.5 416.7,371.5 418.4,371.5 420.1,371.5 421.8,371.5 423.4,371.5 425.1,371.5 426.8,371.5 428.5,371.5 430.2,371.5 431.9,371.5 433.6,371.5 435.3,371.5 437.0,371.5 438.7,371.5 440.4,371.5 442.1,371.5 443.8,371.5 445.5,371.5 447.2,371.5 448.9,371.5 450.5,371.5 452.2,371.5 453.9,371.5 455.6,371.5 457.3,371.5 459.0,371.5 460.7,371.5 462.4,371.5 464.1,371.5 465.8,371.5 467.5,371.5 469.2,371.5 470.9,371.5 472.6,371.5 474.3,371.5 476.0,371.5 477.6,371.5 479.3,371.5 481.0,371.5 482.7,371.5 484.4,371.5 486.1,371.5 487.8,371.5 489.5,371.5 491.2,371.5 492.9,371.5 494.6,371.5 496.3,371.5 498.0,371.5 499.7,371.5 501.4,371.5 503.1,371.5 504.7,371.5 506.4,371.5 508.1,371.5 509.8,371.5 511.5,371.5 513.2,371.5 514.9,371.5 516.6,371.5 518.3,371.5 520.0,371.5 521.7,371.5 523.4,371.5 525.1,371.5 526.8,371.5 528.5,371.5 530.2,371.5 531.8,371.5 533.5,371.5 535.2,371.5 536.9,371.5 538.6,371.5 540.3,371.5 542.0,371.5 543.7,371.5 545.4,371.5 547.1,371.5 548.8,371.5 550.5,371.5 552.2,371.5 553.9,371.5 555.6,371.5 557.3,371.5 559.0,371.5 560.6,371.5 562.3,371.5 564.0,371.5 565.7,371.5 567.4,371.5 569.1,371.5 570.8,371.5 572.5,371.5 574.2,371.5 575.9,371.5 577.6,371.5 579.3,371.5 581.0,371.5 582.7,371.5 584.4,371.5 586.1,371.5 587.7,371.5 589.4,371.5 591.1,371.5 592.8,371.5 594.5,371.5 596.2,371.5 597.9,371.5 599.6,371.5 601.3,371.5 603.0,371.5 604.7,371.5 606.4,371.5 608.1,371.5 609.8,371.5 611.5,371.5 613.2,371.5 614.8,371.5 616.5,371.5 618.2,371.5 619.9,371.5 621.6,371.5 623.3,371.5 625.0,371.5 626.7,371.5 628.4,371.5 630.1,371.5 631.8,371.5 633.5,371.5 635.2,371.5 636.9,371.5 638.6,371.5 640.3,371.5 641.9,371.5 643.6,371.5 645.3,371.5 647.0,371.5 648.7,371.5 650.4,371.5 652.1,371.5 653.8,371.5 655.5,371.5 657.2,371.5 658.9,371.5 660.6,371.5 662.3,371.5 664.0,371.5 665.7,371.5 667.4,371.5 669.0,371.5" stroke="#c856db"/>
<path d="M59.3,371.5 61.0,371.5 62.7,371.5 64.4,371.5 66.0,371.5 67.7,371.5 69.4,371.5 71.1,371.5 72.8,371.5 74.5,371.5 76.2,371.5 77.9,371.5 79.6,371.5 81.3,371.5 83.0,371.5 84.7,371.5 86.4,371.5 88.1,371.5 89.8,371.5 91.5,371.5 93.1,371.5 94.8,371.5 96.5,371.5 98.2,371.5 99.9,371.5 101.6,371.5 103.3,371.5 105.0,371.5 106.7,371.5 108.4,371.5 110.1,371.5 111.8,371.4 113.5,371.4 115.2,371.4 116.9,371.4 118.6,371.3 120.2,371.3 121.9,371.3 123.6,371.2 125.3,371.1 127.0,371.1 128.7,371.0 130.4,370.9 132.1,370.7 133.8,370.6 135.5,370.4 137.2,370.2 138.9,369.9 140.6,369.6 142.3,369.3 144.0,368.9 145.7,368.5 147.3,368.0 149.0,367.4 150.7,366.8 152.4,366.1 154.1,365.4 155.8,364.5 157.5,363.6 159.2,362.6 160.9,361.6 162.6,360.4 164.3,359.2 166.0,357.9 167.7,356.5 169.4,355.0 171.1,353.5 172.8,351.9 174.5,350.3 176.1,348.7 177.8,347.1 179.5,345.4 181.2,343.7 182.9,342.1 184.6,340.5 186.3,339.0 188.0,337.5 189.7,336.1 191.4,334.7 193.1,333.5 194.8,332.4 196.5,331.3 198.2,330.4 199.9,329.6 201.6,328.8 203.2,328.1 204.9,327.5 206.6,326.9 208.3,326.2 210.0,325.6 211.7,324.8 213.4,323.9 215.1,322.9 216.8,321.6 218.5,320.1 220.2,318.2 221.9,316.0 223.6,313.3 225.3,310.2 227.0,306.6 228.7,302.6 230.3,298.0 232.0,292.9 233.7,287.3 235.4,281.3 237.1,274.9 238.8,268.2 240.5,261.2 242.2,254.1 243.9,246.9 245.6,239.9 247.3,233.0 249.0,226.5 250.7,220.5 252.4,215.1 254.1,210.5 255.8,206.7 257.4,203.8 259.1,201.9 260.8,201.1 262.5,201.4 264.2,202.8 265.9,205.3 267.6,208.8 269.3,213.3 271.0,218.8 272.7,225.0 274.4,232.0 276.1,239.5 277.8,247.4 279.5,255.7 281.2,264.2 282.9,272.7 284.5,281.2 286.2,289.5 287.9,297.5 289.6,305.3 291.3,312.6 293.0,319.5 294.7,325.9 296.4,331.8 298.1,337.1 299.8,342.0 301.5,346.3 303.2,350.2 304.9,353.5 306.6,356.5 308.3,359.0 310.0,361.2 311.7,363.1 313.3,364.7 315.0,366.0 316.7,367.1 318.4,368.0 320.1,368.7 321.8,369.3 323.5,369.8 325.2,370.2 326.9,370.5 328.6,370.7 330.3,370.9 332.0,371.1 333.7,371.2 335.4,371.3 337.1,371.3 338.8,371.4 340.4,371.4 342.1,371.4 343.8,371.5 345.5,371.5 347.2,371.5 348.9,371.5 350.6,371.5 352.3,371.5 354.0,371.5 355.7,371.5 357.4,371.5 359.1,371.5 360.8,371.5 362.5,371.5 364.2,371.5 365.9,371.5 367.5,371.5 369.2,371.5 370.9,371.5 372.6,371.5 374.3,371.5 376.0,371.5 377.7,371.5 379.4,371.5 381.1,371.5 382.8,371.5 384.5,371.5 386.2,371.5 387.9,371.5 389.6,371.5 391.3,371.5 393.0,371.5 394.6,371.5 396.3,371.5 398.0,371.5 399.7,371.5 401.4,371.5 403.1,371.5 404.8,371.5 406.5,371.5 408.2,371.5 409.9,371.5 411.6,371.5 413.3,371.5 415.0,371.5 416.7,371.5 418.4,371.5 420.1,371.5 421.8,371.5 423.4,371.5 425.1,371.5 426.8,371.5 428.5,371.5 430.2,371.5 431.9,371.5 433.6,371.5 435.3,371.5 437.0,371.5 438.7,371.5 440.4,371.5 442.1,371.5 443.8,371.5 445.5,371.5 447.2,371.5 448.9,371.5 450.5,371.5 452.2,371.5 453.9,371.5 455.6,371.5 457.3,371.5 459.0,371.5 460.7,371.5 462.4,371.5 464.1,371.5 465.8,371.5 467.5,371.5 469.2,371.5 470.9,371.5 472.6,371.5 474.3,371.5 476.0,371.5 477.6,371.5 479.3,371.5 481.0,371.5 482.7,371.5 484.4,371.5 486.1,371.5 487.8,371.5 489.5,371.5 491.2,371.5 492.9,371.5 494.6,371.5 496.3,371.5 498.0,371.5 499.7,371.5 501.4,371.5 503.1,371.5 504.7,371.5 506.4,371.5 508.1,371.5 509.8,371.5 511.5,371.5 513.2,371.5 514.9,371.5 516.6,371.5 518.3,371.5 520.0,371.5 521.7,371.5 523.4,371.5 525.1,371.5 526.8,371.5 528.5,371.5 530.2,371.5 531.8,371.5 533.5,371.5 535.2,371.5 536.9,371.5 538.6,371.5 540.3,371.5 542.0,371.5 543.7,371.5 545.4,371.5 547.1,371.5 548.8,371.5 550.5,371.5 552.2,371.5 553.9,371.5 555.6,371.5 557.3,371.5 559.0,371.5 560.6,371.5 562.3,371.5 564.0,371.5 565.7,371.5 567.4,371.5 569.1,371.5 570.8,371.5 572.5,371.5 574.2,371.5 575.9,371.5 577.6,371.5 579.3,371.5 581.0,371.5 582.7,371.5 584.4,371.5 586.1,371.5 587.7,371.5 589.4,371.5 591.1,371.5 592.8,371.5 594.5,371.5 596.2,371.5 597.9,371.5 599.6,371.5 601.3,371.5 603.0,371.5 604.7,371.5 606.4,371.5 608.1,371.5 609.8,371.5 611.5,371.5 613.2,371.5 614.8,371.5 616.5,371.5 618.2,371.5 619.9,371.5 621.6,371.5 623.3,371.5 625.0,371.5 626.7,371.5 628.4,371.5 630.1,371.5 631.8,371.5 633.5,371.5 635.2,371.5 636.9,371.5 638.6,371.5 640.3,371.5 641.9,371.5 643.6,371.5 645.3,371.5 647.0,371.5 648.7,371.5 650.4,371.5 652.1,371.5 653.8,371.5 655.5,371.5 657.2,371.5 658.9,371.5 660.6,371.5 662.3,371.5 664.0,371.5 665.7,371.5 667.4,371.5 669.0,371.5" stroke="#db56d3"/>
<path d="M59.3,371.5 61.0,371.5 62.7,371.5 64.4,371.5 66.0,371.5 67.7,371.5 69.4,371.5 71.1,371.5 72.8,371.5 74.5,371.5 76.2,371.5 77.9,371.5 79.6,371.5 81.3,371.5 83.0,371.5 84.7,371.5 86.4,371.5 88.1,371.5 89.8,371.5 91.5,371.5 93.1,371.5 94.8,371.5 96.5,371.5 98.2,371.5 99.9,371.5 101.6,371.5 103.3,371.4 105.0,371.4 106.7,371.4 108.4,371.4 110.1,371.4 111.8,371.3 113.5,371.3 115.2,371.2 116.9,371.1 118.6,371.1 120.2,371.0 121.9,370.8 123.6,370.7 125.3,370.5 127.0,370.3 128.7,370.0 130.4,369.7 132.1,369.4 133.8,369.0 135.5,368.5 137.2,368.0 138.9,367.4 140.6,366.7 142.3,365.9 144.0,365.0 145.7,364.0 147.3,362.9 149.0,361.6 150.7,360.2 152.4,358.7 154.1,357.1 155.8,355.3 157.5,353.4 159.2,351.3 160.9,349.1 162.6,346.8 164.3,344.3 166.0,341.8 167.7,339.1 169.4,336.4 171.1,333.5 172.8,330.7 174.5,327.8 176.1,324.9 177.8,322.1 179.5,319.3 181.2,316.6 182.9,314.0 184.6,311.5 186.3,309.2 188.0,307.1 189.7,305.1 191.4,303.4 193.1,301.8 194.8,300.5 196.5,299.4 198.2,298.4 199.9,297.6 201.6,296.9 203.2,296.3 204.9,295.7 206.6,295.1 208.3,294.3 210.0,293.4 211.7,292.1 213.4,290.5 215.1,288.4 216.8,285.8 218.5,282.6 220.2,278.8 221.9,274.3 223.6,269.1 225.3,263.3 227.0,256.8 228.7,249.8 230.3,242.4 232.0,234.7 233.7,226.8 235.4,219.1 237.1,211.7 238.8,204.7 240.5,198.5 242.2,193.2 243.9,189.1 245.6,186.2 247.3,184.8 249.0,184.9 250.7,186.4 252.4,189.2 254.1,193.2 255.8,198.3 257.4,204.4 259.1,211.5 260.8,219.4 262.5,227.9 264.2,237.0 265.9,246.4 267.6,256.0 269.3,265.7 271.0,275.3 272.7,284.7 274.4,293.7 276.1,302.4 277.8,310.5 279.5,318.1 281.2,325.1 282.9,331.5 284.5,337.3 286.2,342.4 287.9,347.0 289.6,351.0 291.3,354.5 293.0,357.5 294.7,360.1 296.4,362.2 298.1,364.0 299.8,365.5 301.5,366.8 303.2,367.8 304.9,368.6 306.6,369.2 308.3,369.8 310.0,370.2 311.7,370.5 313.3,370.7 315.0,370.9 316.7,371.1 318.4,371.2 320.1,371.3 321.8,371.3 323.5,371.4 325.2,371.4 326.9,371.4 328.6,371.5 330.3,371.5 332.0,371.5 333.7,371.5 335.4,371.5 337.1,371.5 338.8,371.5 340.4,371.5 342.1,371.5 343.8,371.5 345.5,371.5 347.2,371.5 348.9,371.5 350.6,371.5 352.3,371.5 354.0,371.5 355.7,371.5 357.4,371.5 359.1,371.5 360.8,371.5 362.5,371.5 364.2,371.5 365.9,371.5 367.5,371.5 369.2,371.5 370.9,371.5 372.6,371.5 374.3,371.5 376.0,371.5 377.7,371.5 379.4,371.5 381.1,371.5 382.8,371.5 384.5,371.5 386.2,371.5 387.9,371.5 389.6,371.5 391.3,371.5 393.0,371.5 394.6,371.5 396.3,371.5 398.0,371.5 399.7,371.5 401.4,371.5 403.1,371.5 404.8,371.5 406.5,371.5 408.2,371.5 409.9,371.5 411.6,371.5 413.3,371.5 415.0,371.5 416.7,371.5 418.4,371.5 420.1,371.5 421.8,371.5 423.4,371.5 425.1,371.5 426.8,371.5 428.5,371.5 430.2,371.5 431.9,371.5 433.6,371.5 435.3,371.5 437.0,371.5 438.7,371.5 440.4,371.5 442.1,371.5 443.8,371.5 445.5,371.5 447.2,371.5 448.9,371.5 450.5,371.5 452.2,371.5 453.9,371.5 455.6,371.5 457.3,371.5 459.0,371.5 460.7,371.5 462.4,371.5 464.1,371.5 465.8,371.5 467.5,371.5 469.2,371.5 470.9,371.5 472.6,371.5 474.3,371.5 476.0,371.5 477.6,371.5 479.3,371.5 481.0,371.5 482.7,371.5 484.4,371.5 486.1,371.5 487.8,371.5 489.5,371.5 491.2,371.5 492.9,371.5 494.6,371.5 496.3,371.5 498.0,371.5 499.7,371.5 501.4,371.5 503.1,371.5 504.7,371.5 506.4,371.5 508.1,371.5 509.8,371.5 511.5,371.5 513.2,371.5 514.9,371.5 516.6,371.5 518.3,371.5 520.0,371.5 521.7,371.5 523.4,371.5 525.1,371.5 526.8,371.5 528.5,371.5 530.2,371.5 531.8,371.5 533.5,371.5 535.2,371.5 536.9,371.5 538.6,371.5 540.3,371.5 542.0,371.5 543.7,371.5 545.4,371.5 547.1,371.5 548.8,371.5 550.5,371.5 552.2,371.5 553.9,371.5 555.6,371.5 557.3,371.5 559.0,371.5 560.6,371.5 562.3,371.5 564.0,371.5 565.7,371.5 567.4,371.5 569.1,371.5 570.8,371.5 572.5,371.5 574.2,371.5 575.9,371.5 577.6,371.5 579.3,371.5 581.0,371.5 582.7,371.5 584.4,371.5 586.1,371.5 587.7,371.5 589.4,371.5 591.1,371.5 592.8,371.5 594.5,371.5 596.2,371.5 597.9,371.5 599.6,371.5 601.3,371.5 603.0,371.5 604.7,371.5 606.4,371.5 608.1,371.5 609.8,371.5 611.5,371.5 613.2,371.5 614.8,371.5 616.5,371.5 618.2,371.5 619.9,371.5 621.6,371.5 623.3,371.5 625.0,371.5 626.7,371.5 628.4,371.5 630.1,371.5 631.8,371.5 633.5,371.5 635.2,371.5 636.9,371.5 638.6,371.5 640.3,371.5 641.9,371.5 643.6,371.5 645.3,371.5 647.0,371.5 648.7,371.5 650.4,371.5 652.1,371.5 653.8,371.5 655.5,371.5 657.2,371.5 658.9,371.5 660.6,371.5 662.3,371.5 664.0,371.5 665.7,371.5 667.4,371.5 669.0,371.5" stroke="#db56b8"/>
<path d="M59.3,371.5 61.0,371.5 62.7,371.5 64.4,371.5 66.0,371.5 67.7,371.5 69.4,371.5 71.1,371.5 72.8,371.5 74.5,371.5 76.2,371.5 77.9,371.5 79.6,371.5 81.3,371.5 83.0,371.5 84.7,371.5 86.4,371.5 88.1,371.5 89.8,371.5 91.5,371.5 93.1,371.5 94.8,371.5 96.5,371.5 98.2,371.5 99.9,371.5 101.6,371.5 103.3,371.5 105.0,371.5 106.7,371.4 108.4,371.4 110.1,371.4 111.8,371.4 113.5,371.3 115.2,371.3 116.9,371.2 118.6,371.1 120.2,371.0 121.9,370.9 123.6,370.7 125.3,370.5 127.0,370.2 128.7,369.9 130.4,369.5 132.1,369.0 133.8,368.4 135.5,367.7 137.2,366.9 138.9,365.9 140.6,364.8 142.3,363.5 144.0,361.9 145.7,360.2 147.3,358.2 149.0,355.9 150.7,353.4 152.4,350.5 154.1,347.4 155.8,344.0 157.5,340.2 159.2,336.1 160.9,331.8 162.6,327.1 164.3,322.2 166.0,317.0 167.7,311.7 169.4,306.2 171.1,300.6 172.8,295.0 174.5,289.4 176.1,283.9 177.8,278.6 179.5,273.5 181.2,268.7 182.9,264.3 184.6,260.3 186.3,256.9 188.0,254.0 189.7,251.7 191.4,250.1 193.1,249.1 194.8,248.8 196.5,248.9 198.2,249.0 199.9,249.4 201.6,249.8 203.2,250.4 204.9,251.1 206.6,251.9 208.3,252.9 210.0,253.9 211.7,254.9 213.4,256.1 215.1,257.2 216.8,258.4 218.5,259.7 220.2,260.9 221.9,262.2 223.6,263.4 225.3,264.6 227.0,265.8 228.7,266.9 230.3,268.1 232.0,269.2 233.7,270.2 235.4,271.3 237.1,272.4 238.8,273.5 240.5,274.6 242.2,275.7 243.9,277.0 245.6,278.3 247.3,279.7 249.0,281.2 250.7,282.9 252.4,284.7 254.1,286.7 255.8,288.9 257.4,291.2 259.1,293.7 260.8,296.1 262.5,298.7 264.2,301.2 265.9,303.8 267.6,306.3 269.3,308.9 271.0,311.6 272.7,314.2 274.4,316.8 276.1,319.3 277.8,321.9 279.5,324.4 281.2,326.9 282.9,329.4 284.5,331.8 286.2,334.1 287.9,336.4 289.6,338.6 291.3,340.8 293.0,342.9 294.7,344.8 296.4,346.8 298.1,348.6 299.8,350.3 301.5,352.0 303.2,353.6 304.9,355.1 306.6,356.5 308.3,357.8 310.0,359.0 311.7,360.1 313.3,361.2 315.0,362.2 316.7,363.1 318.4,363.9 320.1,364.7 321.8,365.4 323.5,366.1 325.2,366.7 326.9,367.2 328.6,367.7 330.3,368.1 332.0,368.5 333.7,368.9 335.4,369.2 337.1,369.5 338.8,369.7 340.4,369.9 342.1,370.1 343.8,370.3 345.5,370.5 347.2,370.6 348.9,370.7 350.6,370.8 352.3,370.9 354.0,371.0 355.7,371.1 357.4,371.1 359.1,371.2 360.8,371.2 362.5,371.3 364.2,371.3 365.9,371.3 367.5,371.4 369.2,371.4 370.9,371.4 372.6,371.4 374.3,371.4 376.0,371.4 377.7,371.4 379.4,371.5 381.1,371.5 382.8,371.5 384.5,371.5 386.2,371.5 387.9,371.5 389.6,371.5 391.3,371.5 393.0,371.5 394.6,371.5 396.3,371.5 398.0,371.5 399.7,371.5 401.4,371.5 403.1,371.5 404.8,371.5 406.5,371.5 408.2,371.5 409.9,371.5 411.6,371.5 413.3,371.5 415.0,371.5 416.7,371.5 418.4,371.5 420.1,371.5 421.8,371.5 423.4,371.5 425.1,371.5 426.8,371.5 428.5,371.5 430.2,371.5 431.9,371.5 433.6,371.5 435.3,371.5 437.0,371.5 438.7,371.5 440.4,371.5 442.1,371.5 443.8,371.5 445.5,371.5 447.2,371.5 448.9,371.5 450.5,371.5 452.2,371.5 453.9,371.5 455.6,371.5 457.3,371.5 459.0,371.5 460.7,371.5 462.4,371.5 464.1,371.5 465.8,371.5 467.5,371.5 469.2,371.5 470.9,371.5 472.6,371.5 474.3,371.5 476.0,371.5 477.6,371.5 479.3,371.5 481.0,371.5 482.7,371.5 484.4,371.5 486.1,371.5 487.8,371.5 489.5,371.5 491.2,371.5 492.9,371.5 494.6,371.5 496.3,371.5 498.0,371.5 499.7,371.5 501.4,371.5 503.1,371.5 504.7,371.5 506.4,371.5 508.1,371.5 509.8,371.5 511.5,371.5 513.2,371.5 514.9,371.5 516.6,371.5 518.3,371.5 520.0,371.5 521.7,371.5 523.4,371.5 525.1,371.5 526.8,371.5 528.5,371.5 530.2,371.5 531.8,371.5 533.5,371.5 535.2,371.5 536.9,371.5 538.6,371.5 540.3,371.5 542.0,371.5 543.7,371.5 545.4,371.5 547.1,371.5 548.8,371.5 550.5,371.5 552.2,371.5 553.9,371.5 555.6,371.5 557.3,371.5 559.0,371.5 560.6,371.5 562.3,371.5 564.0,371.5 565.7,371.5 567.4,371.5 569.1,371.5 570.8,371.5 572.5,371.5 574.2,371.5 575.9,371.5 577.6,371.5 579.3,371.5 581.0,371.5 582.7,371.5 584.4,371.5 586.1,371.5 587.7,371.5 589.4,371.5 591.1,371.5 592.8,371.5 594.5,371.5 596.2,371.5 597.9,371.5 599.6,371.5 601.3,371.5 603.0,371.5 604.7,371.5 606.4,371.5 608.1,371.5 609.8,371.5 611.5,371.5 613.2,371.5 614.8,371.5 616.5,371.5 618.2,371.5 619.9,371.5 621.6,371.5 623.3,371.5 625.0,371.5 626.7,371.5 628.4,371.5 630.1,371.5 631.8,371.5 633.5,371.5 635.2,371.5 636.9,371.5 638.6,371.5 640.3,371.5 641.9,371.5 643.6,371.5 645.3,371.5 647.0,371.5 648.7,371.5 650.4,371.5 652.1,371.5 653.8,371.5 655.5,371.5 657.2,371.5 658.9,371.5 660.6,371.5 662.3,371.5 664.0,371.5 665.7,371.5 667.4,371.5 669.0,371.5" stroke="#db569e"/>
<path d="M59.3,371.5 61.0,371.5 62.7,371.5 64.4,371.5 66.0,371.5 67.7,371.5 69.4,371.5 71.1,371.5 72.8,371.5 74.5,371.5 76.2,371.5 77.9,371.5 79.6,371.5 81.3,371.5 83.0,371.5 84.7,371.5 86.4,371.5 88.1,371.5 89.8,371.5 91.5,371.5 93.1,371.5 94.8,371.5 96.5,371.5 98.2,371.5 99.9,371.5 101.6,371.5 103.3,371.5 105.0,371.5 106.7,371.5 108.4,371.5 110.1,371.5 111.8,371.5 113.5,371.5 115.2,371.4 116.9,371.4 118.6,371.4 120.2,371.4 121.9,371.4 123.6,371.3 125.3,371.3 127.0,371.3 128.7,371.2 130.4,371.2 132.1,371.1 133.8,371.0 135.5,370.9 137.2,370.8 138.9,370.7 140.6,370.5 142.3,370.4 144.0,370.2 145.7,370.0 147.3,369.7 149.0,369.5 150.7,369.2 152.4,368.9 154.1,368.5 155.8,368.1 157.5,367.7 159.2,367.2 160.9,366.7 162.6,366.2 164.3,365.7 166.0,365.1 167.7,364.5 169.4,363.8 171.1,363.2 172.8,362.5 174.5,361.8 176.1,361.1 177.8,360.4 179.5,359.7 181.2,359.1 182.9,358.4 184.6,357.8 186.3,357.2 188.0,356.6 189.7,356.1 191.4,355.6 193.1,355.2 194.8,354.9 196.5,354.5 198.2,354.2 199.9,354.0 201.6,353.8 203.2,353.6 204.9,353.3 206.6,353.0 208.3,352.6 210.0,352.1 211.7,351.4 213.4,350.3 215.1,349.0 216.8,347.1 218.5,344.7 220.2,341.6 221.9,337.8 223.6,332.9 225.3,327.0 227.0,320.0 228.7,311.6 230.3,301.9 232.0,290.7 233.7,278.1 235.4,264.1 237.1,248.7 238.8,232.1 240.5,214.6 242.2,196.3 243.9,177.5 245.6,158.7 247.3,140.2 249.0,122.5 250.7,106.1 252.4,91.3 254.1,78.6 255.8,68.3 257.4,60.9 259.1,56.4 260.8,55.0 262.5,57.5 264.2,64.3 265.9,75.2 267.6,89.7 269.3,107.2 271.0,127.2 272.7,148.8 274.4,171.3 276.1,194.1 277.8,216.5 279.5,238.0 281.2,258.1 282.9,276.5 284.5,293.1 286.2,307.7 287.9,320.3 289.6,331.0 291.3,339.9 293.0,347.2 294.7,353.1 296.4,357.7 298.1,361.3 299.8,364.1 301.5,366.2 303.2,367.8 304.9,368.9 306.6,369.7 308.3,370.3 310.0,370.7 311.7,371.0 313.3,371.2 315.0,371.3 316.7,371.4 318.4,371.4 320.1,371.4 321.8,371.5 323.5,371.5 325.2,371.5 326.9,371.5 328.6,371.5 330.3,371.5 332.0,371.5 333.7,371.5 335.4,371.5 337.1,371.5 338.8,371.5 340.4,371.5 342.1,371.5 343.8,371.5 345.5,371.5 347.2,371.5 348.9,371.5 350.6,371.5 352.3,371.5 354.0,371.5 355.7,371.5 357.4,371.5 359.1,371.5 360.8,371.5 362.5,371.5 364.2,371.5 365.9,371.5 367.5,371.5 369.2,371.5 370.9,371.5 372.6,371.5 374.3,371.5 376.0,371.5 377.7,371.5 379.4,371.5 381.1,371.5 382.8,371.5 384.5,371.5 386.2,371.5 387.9,371.5 389.6,371.5 391.3,371.5 393.0,371.5 394.6,371.5 396.3,371.5 398.0,371.5 399.7,371.5 401.4,371.5 403.1,371.5 404.8,371.5 406.5,371.5 408.2,371.5 409.9,371.5 411.6,371.5 413.3,371.5 415.0,371.5 416.7,371.5 418.4,371.5 420.1,371.5 421.8,371.5 423.4,371.5 425.1,371.5 426.8,371.5 428.5,371.5 430.2,371.5 431.9,371.5 433.6,371.5 435.3,371.5 437.0,371.5 438.7,371.5 440.4,371.5 442.1,371.5 443.8,371.5 445.5,371.5 447.2,371.5 448.9,371.5 450.5,371.5 452.2,371.5 453.9,371.5 455.6,371.5 457.3,371.5 459.0,371.5 460.7,371.5 462.4,371.5 464.1,371.5 465.8,371.5 467.5,371.5 469.2,371.5 470.9,371.5 472.6,371.5 474.3,371.5 476.0,371.5 477.6,371.5 479.3,371.5 481.0,371.5 482.7,371.5 484.4,371.5 486.1,371.5 487.8,371.5 489.5,371.5 491.2,371.5 492.9,371.5 494.6,371.5 496.3,371.5 498.0,371.5 499.7,371.5 501.4,371.5 503.1,371.5 504.7,371.5 506.4,371.5 508.1,371.5 509.8,371.5 511.5,371.5 513.2,371.5 514.9,371.5 516.6,371.5 518.3,371.5 520.0,371.5 521.7,371.5 523.4,371.5 525.1,371.5 526.8,371.5 528.5,371.5 530.2,371.5 531.8,371.5 533.5,371.5 535.2,371.5 536.9,371.5 538.6,371.5 540.3,371.5 542.0,371.5 543.7,371.5 545.4,371.5 547.1,371.5 548.8,371.5 550.5,371.5 552.2,371.5 553.9,371.5 555.6,371.5 557.3,371.5 559.0,371.5 560.6,371.5 562.3,371.5 564.0,371.5 565.7,371.5 567.4,371.5 569.1,371.5 570.8,371.5 572.5,371.5 574.2,371.5 575.9,371.5 577.6,371.5 579.3,371.5 581.0,371.5 582.7,371.5 584.4,371.5 586.1,371.5 587.7,371.5 589.4,371.5 591.1,371.5 592.8,371.5 594.5,371.5 596.2,371.5 597.9,371.5 599.6,371.5 601.3,371.5 603.0,371.5 604.7,371.5 606.4,371.5 608.1,371.5 609.8,371.5 611.5,371.5 613.2,371.5 614.8,371.5 616.5,371.5 618.2,371.5 619.9,371.5 621.6,371.5 623.3,371.5 625.0,371.5 626.7,371.5 628.4,371.5 630.1,371.5 631.8,371.5 633.5,371.5 635.2,371.5 636.9,371.5 638.6,371.5 640.3,371.5 641.9,371.5 643.6,371.5 645.3,371.5 647.0,371.5 648.7,371.5 650.4,371.5 652.1,371.5 653.8,371.5 655.5,371.5 657.2,371.5 658.9,371.5 660.6,371.5 662.3,371.5 664.0,371.5 665.7,371.5 667.4,371.5 669.0,371.5" stroke="#db5683"/>
<path d="M59.3,371.5 61.0,371.5 62.7,371.5 64.4,371.5 66.0,371.5 67.7,371.5 69.4,371.5 71.1,371.5 72.8,371.5 74.5,371.5 76.2,371.5 77.9,371.5 79.6,371.5 81.3,371.5 83.0,371.5 84.7,371.5 86.4,371.5 88.1,371.5 89.8,371.5 91.5,371.5 93.1,371.5 94.8,371.5 96.5,371.5 98.2,371.5 99.9,371.5 101.6,371.5 103.3,371.5 105.0,371.4 106.7,371.4 108.4,371.4 110.1,371.4 111.8,371.4 113.5,371.3 115.2,371.3 116.9,371.2 118.6,371.2 120.2,371.1 121.9,371.0 123.6,370.9 125.3,370.8 127.0,370.6 128.7,370.4 130.4,370.2 132.1,369.9 133.8,369.6 135.5,369.3 137.2,368.9 138.9,368.4 140.6,367.9 142.3,367.3 144.0,366.7 145.7,365.9 147.3,365.1 149.0,364.2 150.7,363.2 152.4,362.0 154.1,360.8 155.8,359.5 157.5,358.1 159.2,356.5 160.9,354.9 162.6,353.2 164.3,351.4 166.0,349.5 167.7,347.5 169.4,345.4 171.1,343.3 172.8,341.2 174.5,339.1 176.1,336.9 177.8,334.8 179.5,332.7 181.2,330.6 182.9,328.6 184.6,326.7 186.3,324.9 188.0,323.2 189.7,321.6 191.4,320.2 193.1,318.8 194.8,317.6 196.5,316.5 198.2,315.5 199.9,314.6 201.6,313.7 203.2,312.8 204.9,312.0 206.6,311.1 208.3,310.1 210.0,309.0 211.7,307.7 213.4,306.2 215.1,304.4 216.8,302.3 218.5,299.9 220.2,297.2 221.9,294.1 223.6,290.6 225.3,286.7 227.0,282.5 228.7,278.0 230.3,273.2 232.0,268.2 233.7,263.1 235.4,258.0 237.1,252.9 238.8,247.9 240.5,243.2 242.2,238.9 243.9,235.1 245.6,231.8 247.3,229.2 249.0,227.3 250.7,226.2 252.4,226.0 254.1,226.6 255.8,227.8 257.4,229.6 259.1,231.9 260.8,234.7 262.5,238.0 264.2,241.7 265.9,245.8 267.6,250.4 269.3,255.2 271.0,260.3 272.7,265.7 274.4,271.2 276.1,276.9 277.8,282.6 279.5,288.3 281.2,294.0 282.9,299.6 284.5,305.2 286.2,310.5 287.9,315.7 289.6,320.6 291.3,325.3 293.0,329.8 294.7,334.0 296.4,337.9 298.1,341.6 299.8,344.9 301.5,348.0 303.2,350.9 304.9,353.4 306.6,355.7 308.3,357.8 310.0,359.7 311.7,361.3 313.3,362.8 315.0,364.1 316.7,365.2 318.4,366.2 320.1,367.0 321.8,367.7 323.5,368.4 325.2,368.9 326.9,369.4 328.6,369.7 330.3,370.1 332.0,370.3 333.7,370.5 335.4,370.7 337.1,370.9 338.8,371.0 340.4,371.1 342.1,371.2 343.8,371.2 345.5,371.3 347.2,371.3 348.9,371.4 350.6,371.4 352.3,371.4 354.0,371.4 355.7,371.5 357.4,371.5 359.1,371.5 360.8,371.5 362.5,371.5 364.2,371.5 365.9,371.5 367.5,371.5 369.2,371.5 370.9,371.5 372.6,371.5 374.3,371.5 376.0,371.5 377.7,371.5 379.4,371.5 381.1,371.5 382.8,371.5 384.5,371.5 386.2,371.5 387.9,371.5 389.6,371.5 391.3,371.5 393.0,371.5 394.6,371.5 396.3,371.5 398.0,371.5 399.7,371.5 401.4,371.5 403.1,371.5 404.8,371.5 406.5,371.5 408.2,371.5 409.9,371.5 411.6,371.5 413.3,371.5 415.0,371.5 416.7,371.5 418.4,371.5 420.1,371.5 421.8,371.5 423.4,371.5 425.1,371.5 426.8,371.5 428.5,371.5 430.2,371.5 431.9,371.5 433.6,371.5 435.3,371.5 437.0,371.5 438.7,371.5 440.4,371.5 442.1,371.5 443.8,371.5 445.5,371.5 447.2,371.5 448.9,371.5 450.5,371.5 452.2,371.5 453.9,371.5 455.6,371.5 457.3,371.5 459.0,371.5 460.7,371.5 462.4,371.5 464.1,371.5 465.8,371.5 467.5,371.5 469.2,371.5 470.9,371.5 472.6,371.5 474.3,371.5 476.0,371.5 477.6,371.5 479.3,371.5 481.0,371.5 482.7,371.5 484.4,371.5 486.1,371.5 487.8,371.5 489.5,371.5 491.2,371.5 492.9,371.5 494.6,371.5 496.3,371.5 498.0,371.5 499.7,371.5 501.4,371.5 503.1,371.5 504.7,371.5 506.4,371.5 508.1,371.5 509.8,371.5 511.5,371.5 513.2,371.5 514.9,371.5 516.6,371.5 518.3,371.5 520.0,371.5 521.7,371.5 523.4,371.5 525.1,371.5 526.8,371.5 528.5,371.5 530.2,371.5 531.8,371.5 533.5,371.5 535.2,371.5 536.9,371.5 538.6,371.5 540.3,371.5 542.0,371.5 543.7,371.5 545.4,371.5 547.1,371.5 548.8,371.5 550.5,371.5 552.2,371.5 553.9,371.5 555.6,371.5 557.3,371.5 559.0,371.5 560.6,371.5 562.3,371.5 564.0,371.5 565.7,371.5 567.4,371.5 569.1,371.5 570.8,371.5 572.5,371.5 574.2,371.5 575.9,371.5 577.6,371.5 579.3,371.5 581.0,371.5 582.7,371.5 584.4,371.5 586.1,371.5 587.7,371.5 589.4,371.5 591.1,371.5 592.8,371.5 594.5,371.5 596.2,371.5 597.9,371.5 599.6,371.5 601.3,371.5 603.0,371.5 604.7,371.5 606.4,371.5 608.1,371.5 609.8,371.5 611.5,371.5 613.2,371.5 614.8,371.5 616.5,371.5 618.2,371.5 619.9,371.5 621.6,371.5 623.3,371.5 625.0,371.5 626.7,371.5 628.4,371.5 630.1,371.5 631.8,371.5 633.5,371.5 635.2,371.5 636.9,371.5 638.6,371.5 640.3,371.5 641.9,371.5 643.6,371.5 645.3,371.5 647.0,371.5 648.7,371.5 650.4,371.5 652.1,371.5 653.8,371.5 655.5,371.5 657.2,371.5 658.9,371.5 660.6,371.5 662.3,371.5 664.0,371.5 665.7,371.5 667.4,371.5 669.0,371.5" stroke="#db5669"/>
</g>
<g fill="none" stroke="#9c9c9c" stroke-width="1.7"><path d="M59,21.6 V371.5 H669.4"/></g>
<g font-size="19" fill="#262626" text-anchor="end"><text x="52.5" y="379.0">0.0</text><text x="52.5" y="313.2">0.5</text><text x="52.5" y="247.4">1.0</text><text x="52.5" y="181.6">1.5</text><text x="52.5" y="115.8">2.0</text><text x="52.5" y="50.0">2.5</text></g>
<g font-size="19" fill="#262626" text-anchor="middle"><text x="59.3" y="392.2">-1</text><text x="160.9" y="392.2">0</text><text x="262.5" y="392.2">1</text><text x="364.2" y="392.2">2</text><text x="465.8" y="392.2">3</text><text x="567.4" y="392.2">4</text><text x="669.0" y="392.2">5</text></g>
<text x="364" y="413.7" font-size="21" fill="#262626" text-anchor="middle">Normalized variant effect scores</text>
<text transform="translate(21.1,198) rotate(-90)" font-size="19" fill="#262626" text-anchor="middle">Density</text>
<rect x="362.5" y="28.9" width="300.5" height="249.1" rx="3" fill="#fff" fill-opacity="0.8" stroke="#dcdcdc" stroke-width="1"/>
<g stroke-width="2"><line x1="366.9" y1="39.0" x2="395.0" y2="39.0" stroke="#db5e56"/><line x1="366.9" y1="55.1" x2="395.0" y2="55.1" stroke="#db7956"/><line x1="366.9" y1="71.2" x2="395.0" y2="71.2" stroke="#db9356"/><line x1="366.9" y1="87.4" x2="395.0" y2="87.4" stroke="#dbae56"/><line x1="366.9" y1="103.5" x2="395.0" y2="103.5" stroke="#dbc856"/><line x1="366.9" y1="119.6" x2="395.0" y2="119.6" stroke="#d3db56"/><line x1="366.9" y1="135.7" x2="395.0" y2="135.7" stroke="#b8db56"/><line x1="366.9" y1="151.8" x2="395.0" y2="151.8" stroke="#9edb56"/><line x1="366.9" y1="168.0" x2="395.0" y2="168.0" stroke="#83db56"/><line x1="366.9" y1="184.1" x2="395.0" y2="184.1" stroke="#69db56"/><line x1="366.9" y1="200.2" x2="395.0" y2="200.2" stroke="#56db5e"/><line x1="366.9" y1="216.3" x2="395.0" y2="216.3" stroke="#56db79"/><line x1="366.9" y1="232.4" x2="395.0" y2="232.4" stroke="#56db93"/><line x1="366.9" y1="248.6" x2="395.0" y2="248.6" stroke="#56dbae"/><line x1="366.9" y1="264.7" x2="395.0" y2="264.7" stroke="#56dbc8"/><line x1="520.7" y1="39.0" x2="548.8" y2="39.0" stroke="#56d3db"/><line x1="520.7" y1="55.1" x2="548.8" y2="55.1" stroke="#56b8db"/><line x1="520.7" y1="71.2" x2="548.8" y2="71.2" stroke="#569edb"/><line x1="520.7" y1="87.4" x2="548.8" y2="87.4" stroke="#5683db"/><line x1="520.7" y1="103.5" x2="548.8" y2="103.5" stroke="#5669db"/><line x1="520.7" y1="119.6" x2="548.8" y2="119.6" stroke="#5e56db"/><line x1="520.7" y1="135.7" x2="548.8" y2="135.7" stroke="#7956db"/><line x1="520.7" y1="151.8" x2="548.8" y2="151.8" stroke="#9356db"/><line x1="520.7" y1="168.0" x2="548.8" y2="168.0" stroke="#ae56db"/><line x1="520.7" y1="184.1" x2="548.8" y2="184.1" stroke="#c856db"/><line x1="520.7" y1="200.2" x2="548.8" y2="200.2" stroke="#db56d3"/><line x1="520.7" y1="216.3" x2="548.8" y2="216.3" stroke="#db56b8"/><line x1="520.7" y1="232.4" x2="548.8" y2="232.4" stroke="#db569e"/><line x1="520.7" y1="248.6" x2="548.8" y2="248.6" stroke="#db5683"/><line x1="520.7" y1="264.7" x2="548.8" y2="264.7" stroke="#db5669"/></g>
<g font-size="13.6" fill="#333"><text x="405.8" y="43.9">ADRB2 (7800)</text><text x="405.8" y="60.0">amiE (6227)</text><text x="405.8" y="76.1">neo (4234)</text><text x="405.8" y="92.3">BRCA1 (1837)</text><text x="405.8" y="108.4">CALM1 (1813)</text><text x="405.8" y="124.5">CBS (10450)</text><text x="405.8" y="140.6">CCR5 (4668)</text><text x="405.8" y="156.7">CXCR4 (3877)</text><text x="405.8" y="172.9">GAL4 (1196)</text><text x="405.8" y="189.0">GFP (1081)</text><text x="405.8" y="205.1">HSP90 (4021)</text><text x="405.8" y="221.2">infA (1367)</text><text x="405.8" y="237.3">MAPK1 (6810)</text><text x="405.8" y="253.5">MSH2 (16749)</text><text x="405.8" y="269.6">haeIIIM (1350)</text><text x="559.3" y="43.9">PAB1 (1188)</text><text x="559.3" y="60.0">spg (1026)</text><text x="559.3" y="76.1">Psd95 (1577)</text><text x="559.3" y="92.3">PTEN (6564)</text><text x="559.3" y="108.4">HRAS (3134)</text><text x="559.3" y="124.5">SRC (3714)</text><text x="559.3" y="140.6">SUMO1 (1700)</text><text x="559.3" y="156.7">SNCA (2599)</text><text x="559.3" y="172.9">bla (4997)</text><text x="559.3" y="189.0">TP53 (7444)</text><text x="559.3" y="205.1">TPK1 (3181)</text><text x="559.3" y="221.2">TPMT (3689)</text><text x="559.3" y="237.3">UBE2I (2563)</text><text x="559.3" y="253.5">UBI4 (1085)</text><text x="559.3" y="269.6">VKORC1 (2695)</text></g>
<g id="partB">
<text x="3.4" y="475.9" font-size="26" font-weight="bold" fill="#000">B</text>
<g font-size="17" font-weight="bold" fill="#8e8e8e" text-anchor="middle">
<text x="137" y="489">feature</text>
<text x="139" y="509.7">annotation</text>
<text x="349.6" y="490.4">predictions from PSPs</text>
<text x="640.3" y="555.4">final</text>
<text x="642.4" y="575">prediction</text>
</g>
<g fill="none" stroke="#dadada">
<path d="M66,611.5 H102" stroke-width="12.6"/>
<path d="M179,611.3 H224" stroke-width="12.6"/>
<path d="M468,611.3 H500" stroke-width="12.6"/>
<path d="M590,611.3 H622" stroke-width="12.6"/>
<path d="M116,523.7 A12.4,12.4 0 0 0 103.6,536.1 V694.4 A12.4,12.4 0 0 0 116,706.8" stroke-width="5.6"/>
<path d="M164.8,523.7 A12.4,12.4 0 0 1 177.2,536.1 V694.4 A12.4,12.4 0 0 1 164.8,706.8" stroke-width="5.6"/>
<g stroke-width="8.6">
<path d="M271,521 A49.5,90 0 0 0 221.5,611 A49.5,89.6 0 0 0 271,700.6"/>
<path d="M271,588 A47,23 0 0 0 224,611 A47,29.5 0 0 0 271,640.5"/>
<path d="M416,521 A52,90 0 0 1 468,611 A52,89.6 0 0 1 416,700.6"/>
<path d="M416,588 A50,23 0 0 1 466,611 A50,29.5 0 0 1 416,641"/>
</g>
</g>
<rect x="6.45" y="592.65" width="59.6" height="34.6" rx="17.3" fill="#fff" stroke="#6b6b6b" stroke-width="2.6"/>
<text x="36.9" y="617.4" font-size="20" font-weight="bold" fill="#4a4a4a" text-anchor="middle">D51Y</text>
<g font-size="7.1" fill="#474747" font-weight="bold">
<text x="113.8" y="544.3" textLength="53.3" lengthAdjust="spacingAndGlyphs">MKMKKSTLALVV</text>
<text x="113.8" y="553.8" textLength="53.3" lengthAdjust="spacingAndGlyphs">MKMKKSTLALVV</text>
<text x="113.6" y="563.3" textLength="51.6" lengthAdjust="spacingAndGlyphs">– – MKKSTLAI – I</text>
<text x="113.6" y="572.8" textLength="51.4" lengthAdjust="spacingAndGlyphs">– – MKKSTLPI – I</text>
</g>
<g id="protein" fill="none" stroke-linecap="round" stroke-linejoin="round">
<g stroke="#5a5a5a" stroke-width="0.9">
<path d="M113.5,592 C110,589 114,585 118,587 C121,584 125,585 124,589 C127,588 129,591 126,593"/>
<path d="M122,592 C126,594 128,590 131,592 C133,589 131,586 134,585"/>
<path d="M127,596 C129,599 126,602 129,604 C132,606 130,609 133,609"/>
<path d="M124,609 C120,611 121,616 125,617 C129,619 133,616 131,612 C130,609 127,608 124,609"/>
<path d="M131,604 C134,603 136,606 138,604 C140,602 138,599 141,598"/>
<path d="M144,586 C146,583 148,586 150,583 C151,585 153,584 154,583"/>
<path d="M147,592 C145,590 146,588 149,588 C151,590 150,593 153,593 C156,594 157,591 159,592"/>
<path d="M143,597 C146,598 148,596 151,598 C153,600 152,603 155,603"/>
<path d="M152,604 C150,607 152,611 156,611 C160,612 164,609 163,605 C162,601 158,600 155,602"/>
<path d="M158,596 C161,598 163,595 165,597"/>
<path d="M127.5,633 C131,632 134,634 134,637 C134,640 137,642 140,641"/>
<path d="M150,641 C152,644 150,647 153,648"/>
<path d="M160,637 C163,640 166,638 168,641 C170,643 168,646 171,647"/>
<path d="M137,606 C139,608 141,606 143,607"/>
<path d="M115,590 C117,586 121,584 124,586 C126,588 124,591 127,591"/>
<path d="M133,592 C135,594 137,592 139,595 C140,598 138,601 140,603"/>
<path d="M141,587 C143,589 142,592 145,593"/>
<path d="M149,581 C150,584 149,587 151,589"/>
<path d="M129,606 C131,607 133,610 136,609"/>
<path d="M135,612 C133,615 135,618 138,617"/>
<path d="M154,598 C156,596 159,597 160,600"/>
<path d="M163,598 C166,599 167,603 165,606 C163,609 165,612 168,612"/>
<path d="M150,638 C148,641 150,644 148,647 C147,649 149,651 151,650"/>
<path d="M140,642 C142,645 145,644 146,647"/>
</g>
<ellipse cx="139.79" cy="609.88" rx="2.30" ry="3.70" transform="rotate(103.2 139.79 609.88)" fill="#4a4a4a" stroke="#7a7a7a" stroke-width="0.5"/><ellipse cx="140.58" cy="612.84" rx="2.30" ry="3.70" transform="rotate(103.2 140.58 612.84)" fill="#5c5c5c" stroke="#7a7a7a" stroke-width="0.5"/><ellipse cx="141.36" cy="615.80" rx="2.30" ry="3.70" transform="rotate(103.2 141.36 615.80)" fill="#4a4a4a" stroke="#7a7a7a" stroke-width="0.5"/><ellipse cx="142.14" cy="618.75" rx="2.30" ry="3.70" transform="rotate(103.2 142.14 618.75)" fill="#5c5c5c" stroke="#7a7a7a" stroke-width="0.5"/><ellipse cx="142.93" cy="621.71" rx="2.30" ry="3.70" transform="rotate(103.2 142.93 621.71)" fill="#4a4a4a" stroke="#7a7a7a" stroke-width="0.5"/><ellipse cx="143.71" cy="624.67" rx="2.30" ry="3.70" transform="rotate(103.2 143.71 624.67)" fill="#5c5c5c" stroke="#7a7a7a" stroke-width="0.5"/><ellipse cx="144.49" cy="627.63" rx="2.30" ry="3.70" transform="rotate(103.2 144.49 627.63)" fill="#4a4a4a" stroke="#7a7a7a" stroke-width="0.5"/><ellipse cx="145.28" cy="630.59" rx="2.30" ry="3.70" transform="rotate(103.2 145.28 630.59)" fill="#5c5c5c" stroke="#7a7a7a" stroke-width="0.5"/><ellipse cx="146.06" cy="633.55" rx="2.30" ry="3.70" transform="rotate(103.2 146.06 633.55)" fill="#4a4a4a" stroke="#7a7a7a" stroke-width="0.5"/><ellipse cx="146.84" cy="636.50" rx="2.30" ry="3.70" transform="rotate(103.2 146.84 636.50)" fill="#5c5c5c" stroke="#7a7a7a" stroke-width="0.5"/><ellipse cx="147.62" cy="639.46" rx="2.30" ry="3.70" transform="rotate(103.2 147.62 639.46)" fill="#4a4a4a" stroke="#7a7a7a" stroke-width="0.5"/><ellipse cx="148.41" cy="642.42" rx="2.30" ry="3.70" transform="rotate(103.2 148.41 642.42)" fill="#5c5c5c" stroke="#7a7a7a" stroke-width="0.5"/><ellipse cx="146.41" cy="610.68" rx="2.20" ry="3.70" transform="rotate(89.0 146.41 610.68)" fill="#4a4a4a" stroke="#7a7a7a" stroke-width="0.5"/><ellipse cx="147.83" cy="613.25" rx="2.20" ry="3.70" transform="rotate(89.0 147.83 613.25)" fill="#5c5c5c" stroke="#7a7a7a" stroke-width="0.5"/><ellipse cx="149.25" cy="615.81" rx="2.20" ry="3.70" transform="rotate(89.0 149.25 615.81)" fill="#4a4a4a" stroke="#7a7a7a" stroke-width="0.5"/><ellipse cx="150.66" cy="618.37" rx="2.20" ry="3.70" transform="rotate(89.0 150.66 618.37)" fill="#5c5c5c" stroke="#7a7a7a" stroke-width="0.5"/><ellipse cx="152.08" cy="620.94" rx="2.20" ry="3.70" transform="rotate(89.0 152.08 620.94)" fill="#4a4a4a" stroke="#7a7a7a" stroke-width="0.5"/><ellipse cx="153.50" cy="623.50" rx="2.20" ry="3.70" transform="rotate(89.0 153.50 623.50)" fill="#5c5c5c" stroke="#7a7a7a" stroke-width="0.5"/><ellipse cx="154.92" cy="626.06" rx="2.20" ry="3.70" transform="rotate(89.0 154.92 626.06)" fill="#4a4a4a" stroke="#7a7a7a" stroke-width="0.5"/><ellipse cx="156.34" cy="628.63" rx="2.20" ry="3.70" transform="rotate(89.0 156.34 628.63)" fill="#5c5c5c" stroke="#7a7a7a" stroke-width="0.5"/><ellipse cx="157.75" cy="631.19" rx="2.20" ry="3.70" transform="rotate(89.0 157.75 631.19)" fill="#4a4a4a" stroke="#7a7a7a" stroke-width="0.5"/><ellipse cx="159.17" cy="633.75" rx="2.20" ry="3.70" transform="rotate(89.0 159.17 633.75)" fill="#5c5c5c" stroke="#7a7a7a" stroke-width="0.5"/><ellipse cx="160.59" cy="636.32" rx="2.20" ry="3.70" transform="rotate(89.0 160.59 636.32)" fill="#4a4a4a" stroke="#7a7a7a" stroke-width="0.5"/><ellipse cx="114.47" cy="596.13" rx="2.16" ry="2.80" transform="rotate(63.3 114.47 596.13)" fill="#4a4a4a" stroke="#7a7a7a" stroke-width="0.5"/><ellipse cx="116.83" cy="597.80" rx="2.16" ry="2.80" transform="rotate(63.3 116.83 597.80)" fill="#5c5c5c" stroke="#7a7a7a" stroke-width="0.5"/><ellipse cx="119.17" cy="599.47" rx="2.16" ry="2.80" transform="rotate(63.3 119.17 599.47)" fill="#4a4a4a" stroke="#7a7a7a" stroke-width="0.5"/><ellipse cx="121.53" cy="601.13" rx="2.16" ry="2.80" transform="rotate(63.3 121.53 601.13)" fill="#5c5c5c" stroke="#7a7a7a" stroke-width="0.5"/><ellipse cx="123.88" cy="602.80" rx="2.16" ry="2.80" transform="rotate(63.3 123.88 602.80)" fill="#4a4a4a" stroke="#7a7a7a" stroke-width="0.5"/><ellipse cx="126.23" cy="604.47" rx="2.16" ry="2.80" transform="rotate(63.3 126.23 604.47)" fill="#5c5c5c" stroke="#7a7a7a" stroke-width="0.5"/><ellipse cx="156.75" cy="588.67" rx="2.01" ry="2.40" transform="rotate(89.0 156.75 588.67)" fill="#4a4a4a" stroke="#7a7a7a" stroke-width="0.5"/><ellipse cx="158.05" cy="591.02" rx="2.01" ry="2.40" transform="rotate(89.0 158.05 591.02)" fill="#5c5c5c" stroke="#7a7a7a" stroke-width="0.5"/><ellipse cx="159.35" cy="593.38" rx="2.01" ry="2.40" transform="rotate(89.0 159.35 593.38)" fill="#4a4a4a" stroke="#7a7a7a" stroke-width="0.5"/><ellipse cx="160.65" cy="595.73" rx="2.01" ry="2.40" transform="rotate(89.0 160.65 595.73)" fill="#5c5c5c" stroke="#7a7a7a" stroke-width="0.5"/><ellipse cx="133.38" cy="596.25" rx="1.73" ry="1.75" transform="rotate(68.6 133.38 596.25)" fill="#4a4a4a" stroke="#7a7a7a" stroke-width="0.5"/><ellipse cx="135.12" cy="597.75" rx="1.73" ry="1.75" transform="rotate(68.6 135.12 597.75)" fill="#5c5c5c" stroke="#7a7a7a" stroke-width="0.5"/>
</g>
<g id="network">
<g fill="none" stroke="#666" stroke-width="0.9">
<path d="M133.5,652.9 C124,655 116,660 113,668 C110,676 112,684 118,688 C124,693 132,697 142,696.5"/>
<path d="M145,694 C150,686 156,678 169.6,674.4"/>
</g>
<g fill="none" stroke="#8c8c8c" stroke-width="1" stroke-dasharray="1.3,1">
<path d="M137.4,675.5 L133.9,657.3"/>
<path d="M137.4,675.5 L117.1,675.5"/>
<path d="M137.4,675.5 L124.3,684"/>
<path d="M124.3,684 L116,686"/>
<path d="M117.1,675.5 L116,686"/>
<path d="M147,686 L144.4,695.8"/>
<path d="M133.9,657.3 L131,654"/>
</g>
<g fill="none" stroke="#8c8c8c" stroke-width="1">
<path d="M137.4,675.5 L126.9,664.3 L125.6,654.7"/>
<path d="M137.4,675.5 L137,690.2"/>
<path d="M137.4,675.5 L147,686"/>
</g>
<g fill="#aaaaaa">
<circle cx="125.6" cy="654.7" r="4.5"/>
<circle cx="116" cy="686" r="4.3"/>
<circle cx="144.4" cy="695.8" r="4.2"/>
<circle cx="133.9" cy="657.3" r="1.9"/>
<circle cx="126.9" cy="664.3" r="2"/>
<circle cx="117.1" cy="675.5" r="1.9"/>
<circle cx="124.3" cy="684" r="2"/>
<circle cx="137" cy="690.2" r="2"/>
<circle cx="147" cy="686" r="2"/>
</g>
<circle cx="137.4" cy="675.5" r="5.6" fill="#4a4a4a"/>
</g>

<g id="psp">
<rect x="282.7" y="507.6" width="57" height="27" rx="13.5" fill="#cacaca" stroke="#aeaeae" stroke-width="1.5"/>
<rect x="282.7" y="571.2" width="56.6" height="28" rx="14" fill="#5a5a5a" stroke="#8a8a8a" stroke-width="1.5"/>
<rect x="282.7" y="626.5" width="56.6" height="27.8" rx="13.9" fill="#a0a0a0" stroke="#b4b4b4" stroke-width="1.5"/>
<rect x="283.2" y="686.3" width="55.6" height="28.3" rx="14.1" fill="#6a6a6a" stroke="#8a8a8a" stroke-width="1.5"/>
<g font-size="19.8" font-weight="bold" fill="#fff" text-anchor="middle">
<text x="311.4" y="527.9">PSP</text>
<text x="311.4" y="592">PSP</text>
<text x="311.4" y="647.2">PSP</text>
<text x="311.4" y="707.4">PSP</text>
</g>
<g stroke-width="3.8">
<path d="M339.5,522.3 H354" stroke="#c4c4c4"/>
<path d="M339,587.2 H354" stroke="#555"/>
<path d="M339.5,642.3 H354" stroke="#9d9d9d"/>
<path d="M339,702.5 H353" stroke="#666"/>
</g>
<path d="M351.9,515.6 L364.8,522.3 L351.9,529.1Z" fill="#c4c4c4"/>
<path d="M351.5,580.7 L364.4,587.2 L351.5,593.7Z" fill="#555"/>
<path d="M351.8,635.6 L364.9,642.3 L351.8,649.1Z" fill="#9d9d9d"/>
<path d="M350.8,696 L363.3,702.5 L350.8,709.1Z" fill="#666"/>
<g font-size="23" font-weight="bold" text-anchor="middle">
<text x="389.2" y="528.9" fill="#b0b0b0">0.12</text>
<text x="390.3" y="593.6" fill="#111">0.0</text>
<text x="390.1" y="648.3" fill="#a0a0a0">0.36</text>
<text x="390" y="709.5" fill="#555">0.16</text>
</g>
</g>
<path d="M537.16,566.41 A10.70,10.70 0 0 1 552.64,566.41 L587.75,603.21 A10.70,10.70 0 0 1 587.75,617.99 L552.64,654.79 A10.70,10.70 0 0 1 537.16,654.79 L502.05,617.99 A10.70,10.70 0 0 1 502.05,603.21 Z" fill="#8a8a8a" stroke="#6f6f6f" stroke-width="3.2"/>
<text x="548.1" y="616.8" font-size="19.8" font-weight="bold" fill="#fff" text-anchor="middle">MEDIAN</text>
<ellipse cx="648" cy="609" rx="25.7" ry="21.4" fill="#fff" stroke="#6e6e6e" stroke-width="3.6"/>
<text x="650.5" y="614.8" font-size="20.3" font-weight="bold" fill="#000" text-anchor="middle">0.14</text>
</g>

</svg>
</body></html>
